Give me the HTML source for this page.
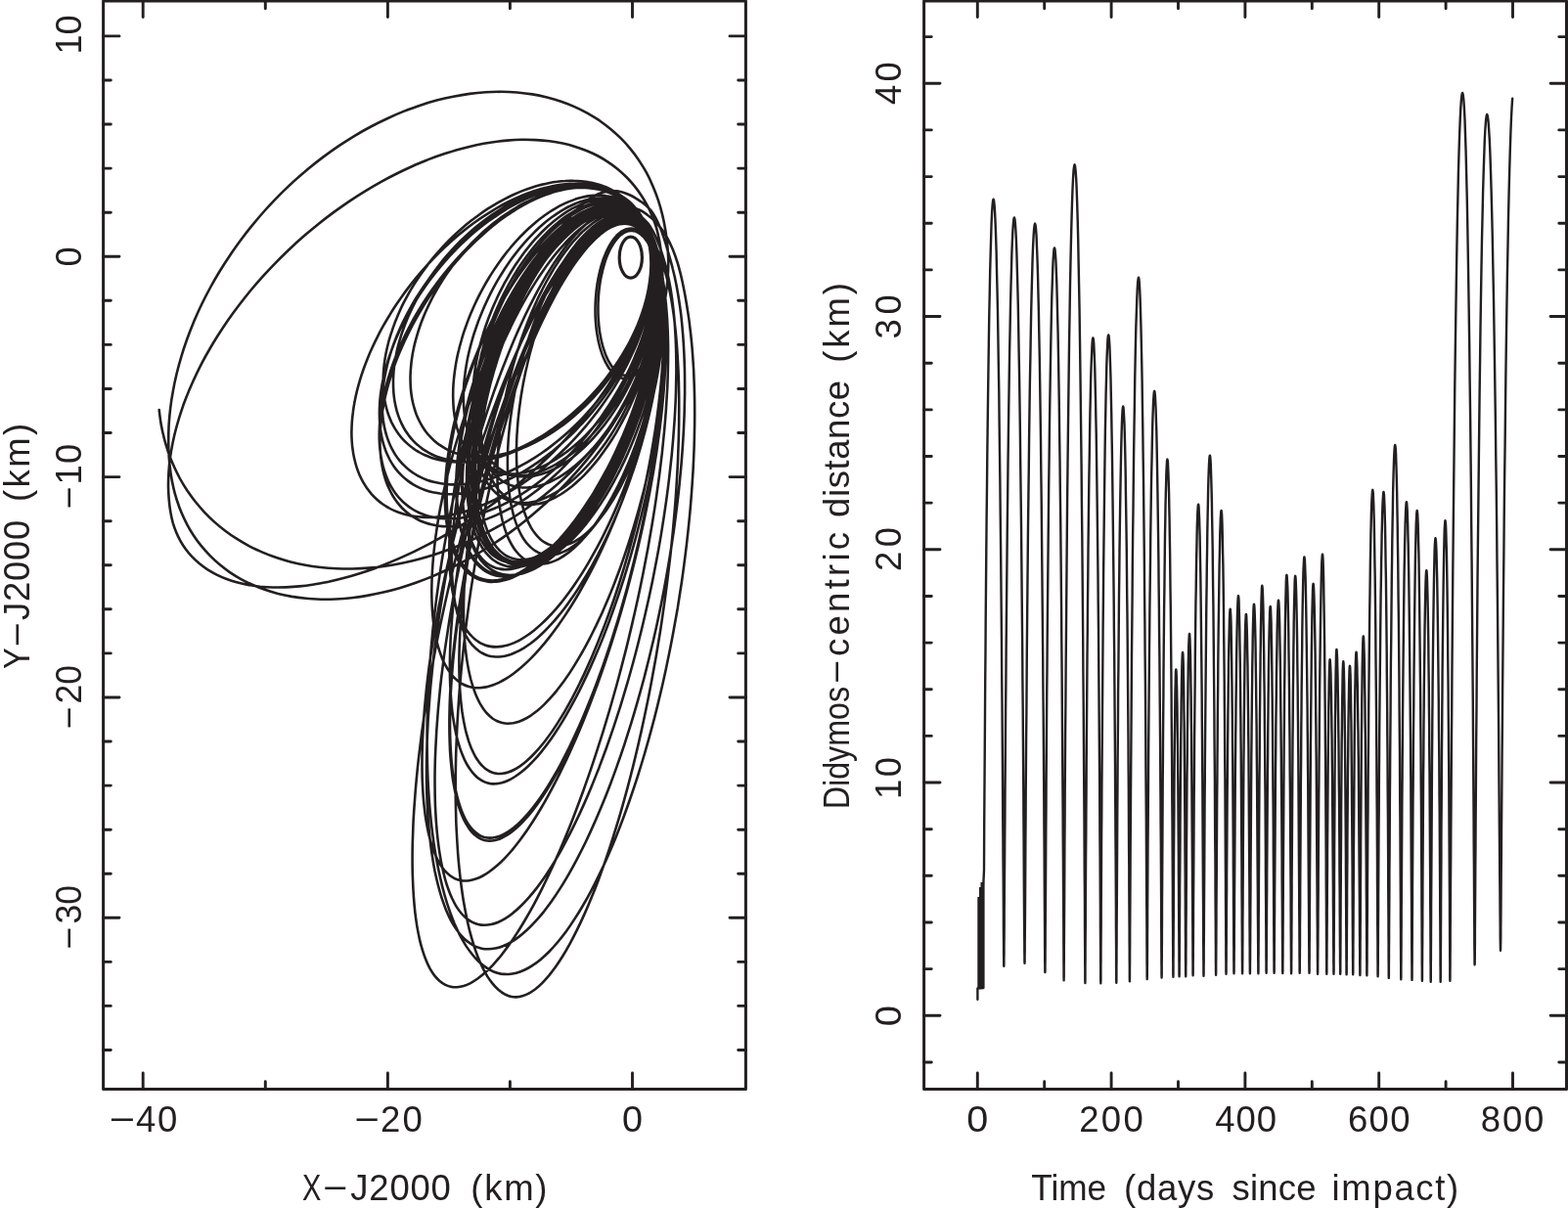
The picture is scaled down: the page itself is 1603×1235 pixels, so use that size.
<!DOCTYPE html>
<html><head><meta charset="utf-8"><title>Orbit and Didymos-centric distance</title>
<style>
html,body{margin:0;padding:0;background:#fff;}
svg{display:block;}
text{font-family:"Liberation Sans",sans-serif;fill:#231f20;}
</style></head><body>
<svg width="1603" height="1235" viewBox="0 0 1603 1235">
<rect width="1603" height="1235" fill="#fff"/>
<rect x="105.6" y="1.1" width="656.8" height="1112.3000000000002" fill="none" stroke="#231f20" stroke-width="3.0" stroke-linejoin="round"/>
<rect x="944.6" y="1.1" width="656.9" height="1112.3000000000002" fill="none" stroke="#231f20" stroke-width="3.0" stroke-linejoin="round"/>
<path d="M146.2 1113.4v-16.4M146.2 1.1v16.4M271.3 1113.4v-7.7M271.3 1.1v7.7M396.4 1113.4v-16.4M396.4 1.1v16.4M521.4 1113.4v-7.7M521.4 1.1v7.7M646.5 1113.4v-16.4M646.5 1.1v16.4" stroke="#231f20" stroke-width="2.9" fill="none" stroke-linecap="round"/>
<path d="M105.6 1073.5h7.7M762.4 1073.5h-7.7M105.6 1028.4h7.7M762.4 1028.4h-7.7M105.6 983.4h7.7M762.4 983.4h-7.7M105.6 938.3h16.4M762.4 938.3h-16.4M105.6 893.2h7.7M762.4 893.2h-7.7M105.6 848.2h7.7M762.4 848.2h-7.7M105.6 803.1h7.7M762.4 803.1h-7.7M105.6 758.0h7.7M762.4 758.0h-7.7M105.6 713.0h16.4M762.4 713.0h-16.4M105.6 667.9h7.7M762.4 667.9h-7.7M105.6 622.8h7.7M762.4 622.8h-7.7M105.6 577.7h7.7M762.4 577.7h-7.7M105.6 532.7h7.7M762.4 532.7h-7.7M105.6 487.6h16.4M762.4 487.6h-16.4M105.6 442.5h7.7M762.4 442.5h-7.7M105.6 397.5h7.7M762.4 397.5h-7.7M105.6 352.4h7.7M762.4 352.4h-7.7M105.6 307.3h7.7M762.4 307.3h-7.7M105.6 262.2h16.4M762.4 262.2h-16.4M105.6 217.2h7.7M762.4 217.2h-7.7M105.6 172.1h7.7M762.4 172.1h-7.7M105.6 127.0h7.7M762.4 127.0h-7.7M105.6 82.0h7.7M762.4 82.0h-7.7M105.6 36.9h16.4M762.4 36.9h-16.4" stroke="#231f20" stroke-width="2.9" fill="none" stroke-linecap="round"/>
<path d="M999.3 1113.4v-16.4M999.3 1.1v16.4M1067.7 1113.4v-7.7M1067.7 1.1v7.7M1136.1 1113.4v-16.4M1136.1 1.1v16.4M1204.5 1113.4v-7.7M1204.5 1.1v7.7M1272.9 1113.4v-16.4M1272.9 1.1v16.4M1341.3 1113.4v-7.7M1341.3 1.1v7.7M1409.7 1113.4v-16.4M1409.7 1.1v16.4M1478.1 1113.4v-7.7M1478.1 1.1v7.7M1546.5 1113.4v-16.4M1546.5 1.1v16.4" stroke="#231f20" stroke-width="2.9" fill="none" stroke-linecap="round"/>
<path d="M944.6 1086.0h7.7M1601.5 1086.0h-7.7M944.6 1038.3h16.4M1601.5 1038.3h-16.4M944.6 990.6h7.7M1601.5 990.6h-7.7M944.6 943.0h7.7M1601.5 943.0h-7.7M944.6 895.3h7.7M1601.5 895.3h-7.7M944.6 847.7h7.7M1601.5 847.7h-7.7M944.6 800.0h16.4M1601.5 800.0h-16.4M944.6 752.4h7.7M1601.5 752.4h-7.7M944.6 704.8h7.7M1601.5 704.8h-7.7M944.6 657.1h7.7M1601.5 657.1h-7.7M944.6 609.5h7.7M1601.5 609.5h-7.7M944.6 561.8h16.4M1601.5 561.8h-16.4M944.6 514.1h7.7M1601.5 514.1h-7.7M944.6 466.5h7.7M1601.5 466.5h-7.7M944.6 418.9h7.7M1601.5 418.9h-7.7M944.6 371.2h7.7M1601.5 371.2h-7.7M944.6 323.5h16.4M1601.5 323.5h-16.4M944.6 275.9h7.7M1601.5 275.9h-7.7M944.6 228.2h7.7M1601.5 228.2h-7.7M944.6 180.6h7.7M1601.5 180.6h-7.7M944.6 132.9h7.7M1601.5 132.9h-7.7M944.6 85.3h16.4M1601.5 85.3h-16.4M944.6 37.6h7.7M1601.5 37.6h-7.7" stroke="#231f20" stroke-width="2.9" fill="none" stroke-linecap="round"/>
<text x="111.50" y="1157.4" font-size="36.5" textLength="26.50" lengthAdjust="spacingAndGlyphs">−</text>
<text x="138.90" y="1157.4" font-size="36.5" textLength="42.50" lengthAdjust="spacing">40</text>
<text x="362.30" y="1157.4" font-size="36.5" textLength="25.50" lengthAdjust="spacingAndGlyphs">−</text>
<text x="389.00" y="1157.4" font-size="36.5" textLength="42.70" lengthAdjust="spacing">20</text>
<text x="636.00" y="1157.4" font-size="36.5" textLength="21.00" lengthAdjust="spacingAndGlyphs">0</text>
<text x="988.30" y="1157.4" font-size="36.5" textLength="22.00" lengthAdjust="spacingAndGlyphs">0</text>
<text x="1103.30" y="1157.4" font-size="36.5" textLength="65.40" lengthAdjust="spacing">200</text>
<text x="1242.20" y="1157.4" font-size="36.5" textLength="62.80" lengthAdjust="spacing">400</text>
<text x="1377.90" y="1157.4" font-size="36.5" textLength="63.70" lengthAdjust="spacing">600</text>
<text x="1513.80" y="1157.4" font-size="36.5" textLength="64.60" lengthAdjust="spacing">800</text>
<text x="309.00" y="1226.8" font-size="36.5" textLength="19.30" lengthAdjust="spacingAndGlyphs">X</text>
<text x="330.10" y="1226.8" font-size="36.5" textLength="25.20" lengthAdjust="spacingAndGlyphs">−</text>
<text x="358.30" y="1226.8" font-size="36.5" textLength="102.60" lengthAdjust="spacing">J2000</text>
<text x="481.20" y="1226.8" font-size="36.5" textLength="78.30" lengthAdjust="spacing">(km)</text>
<text x="1054.20" y="1226.5" font-size="36.5" textLength="76.90" lengthAdjust="spacingAndGlyphs">Time</text>
<text x="1149.10" y="1226.5" font-size="36.5" textLength="92.10" lengthAdjust="spacing">(days</text>
<text x="1259.50" y="1226.5" font-size="36.5" textLength="86.10" lengthAdjust="spacing">since</text>
<text x="1361.60" y="1226.5" font-size="36.5" textLength="129.60" lengthAdjust="spacing">impact)</text>
<text transform="translate(82.9 55.50) rotate(-90)" font-size="36.5" textLength="40.20" lengthAdjust="spacingAndGlyphs">10</text>
<text transform="translate(82.9 272.40) rotate(-90)" font-size="36.5" textLength="20.20" lengthAdjust="spacingAndGlyphs">0</text>
<text transform="translate(82.9 520.50) rotate(-90)" font-size="36.5" textLength="23.00" lengthAdjust="spacingAndGlyphs">−</text>
<text transform="translate(82.9 495.40) rotate(-90)" font-size="36.5" textLength="41.60" lengthAdjust="spacing">10</text>
<text transform="translate(82.9 745.60) rotate(-90)" font-size="36.5" textLength="23.00" lengthAdjust="spacingAndGlyphs">−</text>
<text transform="translate(82.9 719.40) rotate(-90)" font-size="36.5" textLength="39.50" lengthAdjust="spacingAndGlyphs">20</text>
<text transform="translate(82.9 970.70) rotate(-90)" font-size="36.5" textLength="23.00" lengthAdjust="spacingAndGlyphs">−</text>
<text transform="translate(82.9 944.50) rotate(-90)" font-size="36.5" textLength="39.50" lengthAdjust="spacingAndGlyphs">30</text>
<text transform="translate(29.6 684.00) rotate(-90)" font-size="36.5" textLength="21.80" lengthAdjust="spacingAndGlyphs">Y</text>
<text transform="translate(29.6 661.60) rotate(-90)" font-size="36.5" textLength="25.20" lengthAdjust="spacingAndGlyphs">−</text>
<text transform="translate(29.6 633.90) rotate(-90)" font-size="36.5" textLength="102.30" lengthAdjust="spacing">J2000</text>
<text transform="translate(29.6 512.90) rotate(-90)" font-size="36.5" textLength="80.00" lengthAdjust="spacing">(km)</text>
<text transform="translate(920.7 107.00) rotate(-90)" font-size="36.5" textLength="43.80" lengthAdjust="spacing">40</text>
<text transform="translate(920.7 346.40) rotate(-90)" font-size="36.5" textLength="45.10" lengthAdjust="spacing">30</text>
<text transform="translate(920.7 584.10) rotate(-90)" font-size="36.5" textLength="45.10" lengthAdjust="spacing">20</text>
<text transform="translate(920.7 817.00) rotate(-90)" font-size="36.5" textLength="43.00" lengthAdjust="spacing">10</text>
<text transform="translate(920.7 1049.20) rotate(-90)" font-size="36.5" textLength="21.20" lengthAdjust="spacingAndGlyphs">0</text>
<text transform="translate(868.0 827.30) rotate(-90)" font-size="36.5" textLength="125.40" lengthAdjust="spacingAndGlyphs">Didymos</text>
<text transform="translate(868.0 699.00) rotate(-90)" font-size="36.5" textLength="24.10" lengthAdjust="spacingAndGlyphs">−</text>
<text transform="translate(868.0 671.00) rotate(-90)" font-size="36.5" textLength="127.10" lengthAdjust="spacing">centric</text>
<text transform="translate(868.0 528.90) rotate(-90)" font-size="36.5" textLength="140.00" lengthAdjust="spacing">distance</text>
<text transform="translate(868.0 370.80) rotate(-90)" font-size="36.5" textLength="81.70" lengthAdjust="spacing">(km)</text>
<path d="M999.4 1021.8 L999.4 1010.5 L1005.3 1010.0 L1005.3 905.0 L1006.0 889.4 L1006.1 867.1 L1006.2 842.9 L1006.4 816.8 L1006.6 789.1 L1006.8 759.9 L1007.0 729.3 L1007.2 697.7 L1007.5 665.2 L1007.7 632.0 L1008.0 598.5 L1008.3 564.8 L1008.6 531.2 L1009.0 498.0 L1009.3 465.4 L1009.7 433.8 L1010.1 403.3 L1010.5 374.2 L1010.9 346.7 L1011.3 321.1 L1011.8 297.6 L1012.2 276.4 L1012.7 257.6 L1013.2 241.4 L1013.6 228.0 L1014.1 217.4 L1014.6 209.8 L1015.1 205.2 L1015.6 203.7 L1016.1 205.2 L1016.6 209.7 L1017.1 217.2 L1017.6 227.6 L1018.1 240.8 L1018.6 256.7 L1019.0 275.2 L1019.5 296.1 L1020.0 319.3 L1020.4 344.5 L1020.8 371.5 L1021.3 400.2 L1021.6 430.2 L1022.0 461.4 L1022.4 493.5 L1022.7 526.2 L1023.1 559.2 L1023.4 592.4 L1023.7 625.4 L1024.0 658.1 L1024.2 690.1 L1024.5 721.2 L1024.7 751.3 L1024.9 780.0 L1025.1 807.3 L1025.2 833.0 L1025.4 856.9 L1025.5 878.8 L1025.7 898.8 L1025.8 916.7 L1025.9 932.4 L1025.9 946.1 L1026.0 957.6 L1026.1 967.1 L1026.1 974.5 L1026.2 980.1 L1026.2 984.0 L1026.2 986.3 L1026.3 987.5 L1026.3 987.7 L1026.3 987.7 L1026.3 987.5 L1026.4 986.4 L1026.4 984.1 L1026.4 980.3 L1026.5 974.8 L1026.5 967.5 L1026.6 958.3 L1026.7 947.1 L1026.7 933.8 L1026.8 918.4 L1026.9 900.9 L1027.1 881.4 L1027.2 860.0 L1027.4 836.7 L1027.5 811.6 L1027.7 785.0 L1027.9 756.9 L1028.1 727.6 L1028.4 697.2 L1028.6 665.9 L1028.9 634.1 L1029.2 601.8 L1029.5 569.4 L1029.8 537.2 L1030.2 505.3 L1030.5 474.0 L1030.9 443.5 L1031.3 414.2 L1031.7 386.2 L1032.1 359.8 L1032.6 335.2 L1033.0 312.6 L1033.5 292.2 L1034.0 274.2 L1034.4 258.6 L1034.9 245.7 L1035.4 235.6 L1035.9 228.3 L1036.4 223.9 L1036.9 222.4 L1037.4 223.9 L1037.9 228.3 L1038.4 235.5 L1038.9 245.6 L1039.4 258.5 L1039.8 274.0 L1040.3 291.9 L1040.8 312.3 L1041.2 334.8 L1041.6 359.3 L1042.1 385.6 L1042.5 413.4 L1042.9 442.7 L1043.2 473.0 L1043.6 504.1 L1044.0 535.9 L1044.3 568.1 L1044.6 600.3 L1044.9 632.5 L1045.2 664.2 L1045.4 695.3 L1045.7 725.6 L1045.9 754.8 L1046.1 782.8 L1046.3 809.3 L1046.4 834.3 L1046.6 857.5 L1046.7 878.8 L1046.8 898.2 L1046.9 915.6 L1047.0 931.0 L1047.1 944.2 L1047.2 955.4 L1047.3 964.6 L1047.3 971.9 L1047.4 977.3 L1047.4 981.1 L1047.4 983.4 L1047.5 984.5 L1047.5 984.7 L1047.5 984.7 L1047.5 984.5 L1047.6 983.4 L1047.6 981.1 L1047.6 977.4 L1047.7 972.0 L1047.7 964.8 L1047.8 955.7 L1047.9 944.6 L1048.0 931.4 L1048.1 916.2 L1048.2 899.0 L1048.3 879.7 L1048.4 858.5 L1048.6 835.5 L1048.7 810.7 L1048.9 784.4 L1049.1 756.7 L1049.4 727.7 L1049.6 697.7 L1049.8 666.8 L1050.1 635.3 L1050.4 603.5 L1050.7 571.5 L1051.0 539.6 L1051.4 508.1 L1051.8 477.1 L1052.1 447.1 L1052.5 418.1 L1052.9 390.5 L1053.4 364.4 L1053.8 340.1 L1054.2 317.7 L1054.7 297.6 L1055.2 279.8 L1055.6 264.4 L1056.1 251.7 L1056.6 241.6 L1057.1 234.4 L1057.6 230.1 L1058.1 228.6 L1058.6 230.1 L1059.1 234.5 L1059.6 241.8 L1060.0 251.9 L1060.5 264.8 L1061.0 280.4 L1061.4 298.4 L1061.9 318.9 L1062.3 341.5 L1062.8 366.1 L1063.2 392.5 L1063.6 420.4 L1064.0 449.8 L1064.3 480.2 L1064.7 511.5 L1065.0 543.5 L1065.3 575.7 L1065.6 608.1 L1065.9 640.4 L1066.2 672.2 L1066.4 703.5 L1066.7 733.9 L1066.9 763.2 L1067.1 791.3 L1067.3 818.0 L1067.4 843.0 L1067.6 866.3 L1067.7 887.8 L1067.8 907.3 L1067.9 924.8 L1068.0 940.1 L1068.1 953.5 L1068.1 964.7 L1068.2 973.9 L1068.2 981.2 L1068.3 986.7 L1068.3 990.5 L1068.3 992.8 L1068.4 993.9 L1068.4 994.1 L1068.4 994.1 L1068.4 993.9 L1068.5 992.8 L1068.5 990.6 L1068.5 986.9 L1068.6 981.6 L1068.6 974.6 L1068.7 965.7 L1068.7 954.8 L1068.8 941.9 L1068.9 927.0 L1069.0 910.1 L1069.1 891.3 L1069.2 870.5 L1069.3 848.0 L1069.5 823.7 L1069.6 797.9 L1069.8 770.8 L1070.0 742.4 L1070.2 712.9 L1070.5 682.7 L1070.7 651.9 L1071.0 620.7 L1071.3 589.3 L1071.6 558.1 L1071.9 527.2 L1072.2 496.9 L1072.6 467.5 L1072.9 439.1 L1073.3 412.0 L1073.7 386.5 L1074.1 362.7 L1074.5 340.8 L1074.9 321.1 L1075.3 303.6 L1075.8 288.6 L1076.2 276.1 L1076.6 266.3 L1077.1 259.2 L1077.5 254.9 L1078.0 253.5 L1078.5 254.9 L1078.9 259.3 L1079.4 266.4 L1079.8 276.3 L1080.3 289.0 L1080.7 304.2 L1081.1 321.8 L1081.6 341.8 L1082.0 363.9 L1082.4 388.0 L1082.8 413.8 L1083.1 441.2 L1083.5 469.9 L1083.8 499.6 L1084.2 530.3 L1084.5 561.5 L1084.8 593.1 L1085.1 624.7 L1085.3 656.3 L1085.6 687.5 L1085.8 718.0 L1086.0 747.8 L1086.2 776.5 L1086.4 804.0 L1086.6 830.0 L1086.7 854.5 L1086.9 877.3 L1087.0 898.3 L1087.1 917.4 L1087.2 934.5 L1087.3 949.5 L1087.3 962.6 L1087.4 973.6 L1087.4 982.6 L1087.5 989.7 L1087.5 995.1 L1087.5 998.8 L1087.6 1001.0 L1087.6 1002.1 L1087.6 1002.3 L1087.6 1002.3 L1087.6 1002.0 L1087.6 1000.9 L1087.7 998.3 L1087.7 994.2 L1087.7 988.3 L1087.8 980.3 L1087.8 970.3 L1087.9 958.0 L1088.0 943.5 L1088.1 926.7 L1088.2 907.7 L1088.3 886.5 L1088.4 863.1 L1088.6 837.7 L1088.7 810.4 L1088.9 781.4 L1089.1 750.8 L1089.4 718.8 L1089.6 685.7 L1089.9 651.6 L1090.2 616.9 L1090.5 581.8 L1090.8 546.5 L1091.1 511.3 L1091.5 476.5 L1091.9 442.4 L1092.3 409.3 L1092.7 377.3 L1093.1 346.8 L1093.6 318.1 L1094.0 291.3 L1094.5 266.6 L1095.0 244.4 L1095.5 224.7 L1096.0 207.8 L1096.5 193.7 L1097.0 182.7 L1097.5 174.7 L1098.1 169.9 L1098.6 168.3 L1099.1 169.9 L1099.6 174.7 L1100.2 182.7 L1100.7 193.8 L1101.2 207.9 L1101.7 224.9 L1102.2 244.6 L1102.6 267.0 L1103.1 291.7 L1103.6 318.6 L1104.0 347.4 L1104.4 378.0 L1104.8 410.1 L1105.2 443.4 L1105.6 477.6 L1105.9 512.5 L1106.3 547.8 L1106.6 583.2 L1106.9 618.4 L1107.2 653.3 L1107.4 687.4 L1107.7 720.7 L1107.9 752.7 L1108.1 783.4 L1108.3 812.6 L1108.5 840.0 L1108.6 865.4 L1108.7 888.9 L1108.9 910.2 L1109.0 929.3 L1109.0 946.1 L1109.1 960.7 L1109.2 973.0 L1109.2 983.1 L1109.3 991.0 L1109.3 997.0 L1109.3 1001.1 L1109.4 1003.7 L1109.4 1004.8 L1109.4 1005.1 L1109.4 1005.1 L1109.4 1004.9 L1109.4 1004.0 L1109.5 1002.0 L1109.5 998.7 L1109.5 994.0 L1109.5 987.7 L1109.6 979.8 L1109.6 970.1 L1109.7 958.6 L1109.8 945.3 L1109.8 930.3 L1109.9 913.5 L1110.0 895.0 L1110.1 874.9 L1110.3 853.3 L1110.4 830.4 L1110.6 806.2 L1110.7 780.9 L1110.9 754.7 L1111.1 727.7 L1111.3 700.3 L1111.5 672.5 L1111.8 644.6 L1112.0 616.7 L1112.3 589.2 L1112.5 562.2 L1112.8 536.0 L1113.1 510.7 L1113.4 486.6 L1113.8 463.9 L1114.1 442.7 L1114.4 423.2 L1114.8 405.6 L1115.1 390.0 L1115.5 376.6 L1115.9 365.5 L1116.3 356.8 L1116.6 350.5 L1117.0 346.7 L1117.4 345.4 L1117.8 346.7 L1118.2 350.5 L1118.5 356.8 L1118.9 365.5 L1119.3 376.6 L1119.6 390.0 L1120.0 405.6 L1120.3 423.2 L1120.7 442.7 L1121.0 463.9 L1121.3 486.7 L1121.6 510.8 L1121.9 536.1 L1122.2 562.3 L1122.5 589.3 L1122.7 616.8 L1123.0 644.6 L1123.2 672.6 L1123.4 700.4 L1123.6 727.8 L1123.8 754.8 L1124.0 781.0 L1124.2 806.3 L1124.3 830.5 L1124.4 853.5 L1124.6 875.1 L1124.7 895.2 L1124.8 913.7 L1124.9 930.5 L1124.9 945.5 L1125.0 958.8 L1125.1 970.3 L1125.1 980.0 L1125.2 987.9 L1125.2 994.2 L1125.2 998.9 L1125.2 1002.2 L1125.3 1004.2 L1125.3 1005.1 L1125.3 1005.3 L1125.3 1005.3 L1125.3 1005.1 L1125.3 1004.2 L1125.4 1002.2 L1125.4 998.9 L1125.4 994.2 L1125.4 987.8 L1125.5 979.9 L1125.5 970.1 L1125.6 958.6 L1125.7 945.2 L1125.7 930.1 L1125.8 913.2 L1125.9 894.7 L1126.0 874.5 L1126.1 852.8 L1126.3 829.7 L1126.4 805.4 L1126.6 780.0 L1126.8 753.6 L1127.0 726.6 L1127.2 699.0 L1127.4 671.1 L1127.6 643.0 L1127.9 615.1 L1128.1 587.4 L1128.4 560.3 L1128.7 533.9 L1129.0 508.5 L1129.3 484.3 L1129.6 461.4 L1129.9 440.1 L1130.3 420.6 L1130.6 402.9 L1131.0 387.2 L1131.3 373.8 L1131.7 362.6 L1132.1 353.8 L1132.4 347.5 L1132.8 343.7 L1133.2 342.4 L1133.6 343.7 L1134.0 347.5 L1134.4 353.8 L1134.7 362.6 L1135.1 373.8 L1135.5 387.2 L1135.8 402.8 L1136.2 420.5 L1136.5 440.0 L1136.9 461.3 L1137.2 484.2 L1137.5 508.4 L1137.8 533.8 L1138.1 560.1 L1138.4 587.2 L1138.7 614.8 L1138.9 642.7 L1139.2 670.8 L1139.4 698.7 L1139.6 726.2 L1139.8 753.3 L1140.0 779.6 L1140.1 805.0 L1140.3 829.3 L1140.4 852.3 L1140.6 874.0 L1140.7 894.2 L1140.8 912.7 L1140.9 929.6 L1140.9 944.7 L1141.0 958.0 L1141.1 969.5 L1141.1 979.3 L1141.1 987.3 L1141.2 993.6 L1141.2 998.3 L1141.2 1001.6 L1141.3 1003.6 L1141.3 1004.5 L1141.3 1004.7 L1141.3 1004.7 L1141.3 1004.5 L1141.3 1003.7 L1141.4 1001.9 L1141.4 999.0 L1141.4 994.8 L1141.4 989.2 L1141.5 982.1 L1141.5 973.4 L1141.6 963.2 L1141.6 951.3 L1141.7 937.9 L1141.8 922.9 L1141.9 906.4 L1142.0 888.4 L1142.1 869.1 L1142.2 848.6 L1142.3 827.0 L1142.5 804.4 L1142.6 781.0 L1142.8 757.0 L1143.0 732.4 L1143.1 707.6 L1143.4 682.7 L1143.6 657.8 L1143.8 633.3 L1144.0 609.2 L1144.3 585.7 L1144.5 563.2 L1144.8 541.6 L1145.1 521.3 L1145.4 502.4 L1145.7 485.0 L1146.0 469.3 L1146.3 455.4 L1146.6 443.4 L1146.9 433.5 L1147.2 425.7 L1147.5 420.0 L1147.9 416.6 L1148.2 415.5 L1148.5 416.6 L1148.8 420.0 L1149.1 425.6 L1149.5 433.4 L1149.8 443.3 L1150.1 455.3 L1150.4 469.1 L1150.7 484.8 L1150.9 502.2 L1151.2 521.1 L1151.5 541.3 L1151.8 562.8 L1152.0 585.3 L1152.2 608.7 L1152.5 632.8 L1152.7 657.3 L1152.9 682.1 L1153.1 706.9 L1153.3 731.7 L1153.5 756.2 L1153.6 780.2 L1153.8 803.5 L1153.9 826.0 L1154.0 847.6 L1154.1 868.1 L1154.3 887.3 L1154.3 905.2 L1154.4 921.7 L1154.5 936.6 L1154.6 950.0 L1154.6 961.9 L1154.7 972.1 L1154.7 980.7 L1154.8 987.8 L1154.8 993.4 L1154.8 997.6 L1154.8 1000.5 L1154.9 1002.3 L1154.9 1003.1 L1154.9 1003.3 L1154.9 1003.3 L1154.9 1003.1 L1154.9 1002.1 L1155.0 999.9 L1155.0 996.3 L1155.0 991.2 L1155.1 984.4 L1155.1 975.7 L1155.2 965.1 L1155.2 952.6 L1155.3 938.1 L1155.4 921.7 L1155.5 903.4 L1155.6 883.2 L1155.7 861.3 L1155.9 837.7 L1156.0 812.7 L1156.2 786.3 L1156.4 758.7 L1156.6 730.1 L1156.8 700.7 L1157.0 670.8 L1157.3 640.5 L1157.6 610.0 L1157.8 579.7 L1158.1 549.7 L1158.5 520.2 L1158.8 491.6 L1159.1 464.0 L1159.5 437.7 L1159.9 412.9 L1160.2 389.8 L1160.6 368.5 L1161.0 349.4 L1161.4 332.4 L1161.9 317.8 L1162.3 305.6 L1162.7 296.1 L1163.1 289.2 L1163.6 285.1 L1164.0 283.7 L1164.4 285.1 L1164.8 289.2 L1165.2 296.1 L1165.6 305.6 L1166.0 317.7 L1166.4 332.2 L1166.8 349.2 L1167.2 368.3 L1167.6 389.5 L1167.9 412.5 L1168.3 437.3 L1168.6 463.5 L1169.0 491.0 L1169.3 519.5 L1169.6 548.9 L1169.9 578.8 L1170.1 609.0 L1170.4 639.4 L1170.6 669.6 L1170.9 699.5 L1171.1 728.8 L1171.3 757.3 L1171.4 784.8 L1171.6 811.1 L1171.8 836.1 L1171.9 859.5 L1172.0 881.4 L1172.1 901.5 L1172.2 919.7 L1172.3 936.1 L1172.4 950.5 L1172.4 963.0 L1172.5 973.6 L1172.5 982.2 L1172.6 989.0 L1172.6 994.2 L1172.6 997.7 L1172.7 999.9 L1172.7 1000.9 L1172.7 1001.1 L1172.7 1001.1 L1172.7 1000.9 L1172.7 1000.1 L1172.8 998.3 L1172.8 995.3 L1172.8 991.0 L1172.9 985.3 L1172.9 978.0 L1173.0 969.2 L1173.0 958.7 L1173.1 946.6 L1173.1 932.9 L1173.2 917.6 L1173.3 900.7 L1173.4 882.4 L1173.5 862.8 L1173.7 841.8 L1173.8 819.8 L1174.0 796.7 L1174.1 772.8 L1174.3 748.3 L1174.5 723.3 L1174.7 697.9 L1174.9 672.5 L1175.2 647.1 L1175.4 622.0 L1175.7 597.4 L1176.0 573.5 L1176.2 550.5 L1176.5 528.5 L1176.8 507.8 L1177.1 488.5 L1177.5 470.7 L1177.8 454.7 L1178.1 440.5 L1178.4 428.3 L1178.8 418.1 L1179.1 410.2 L1179.5 404.4 L1179.8 401.0 L1180.2 399.8 L1180.5 401.0 L1180.9 404.4 L1181.2 410.1 L1181.6 418.1 L1181.9 428.2 L1182.3 440.4 L1182.6 454.5 L1182.9 470.5 L1183.2 488.2 L1183.5 507.5 L1183.8 528.2 L1184.1 550.1 L1184.4 573.1 L1184.6 596.9 L1184.9 621.4 L1185.1 646.5 L1185.4 671.7 L1185.6 697.1 L1185.8 722.4 L1186.0 747.4 L1186.2 771.8 L1186.3 795.7 L1186.5 818.6 L1186.6 840.7 L1186.8 861.5 L1186.9 881.2 L1187.0 899.4 L1187.1 916.2 L1187.2 931.5 L1187.2 945.2 L1187.3 957.2 L1187.3 967.7 L1187.4 976.5 L1187.4 983.7 L1187.5 989.4 L1187.5 993.7 L1187.5 996.7 L1187.6 998.5 L1187.6 999.3 L1187.6 999.5 L1187.6 999.5 L1187.6 999.3 L1187.6 998.6 L1187.7 997.0 L1187.7 994.4 L1187.7 990.6 L1187.7 985.5 L1187.8 979.2 L1187.8 971.4 L1187.9 962.2 L1187.9 951.5 L1188.0 939.4 L1188.0 925.9 L1188.1 911.1 L1188.2 894.9 L1188.3 877.6 L1188.4 859.1 L1188.5 839.7 L1188.6 819.4 L1188.7 798.3 L1188.9 776.7 L1189.0 754.6 L1189.2 732.3 L1189.4 709.9 L1189.5 687.5 L1189.7 665.5 L1189.9 643.8 L1190.1 622.7 L1190.4 602.4 L1190.6 583.0 L1190.8 564.8 L1191.0 547.7 L1191.3 532.1 L1191.5 517.9 L1191.8 505.4 L1192.1 494.7 L1192.3 485.8 L1192.6 478.7 L1192.9 473.7 L1193.1 470.6 L1193.4 469.6 L1193.7 470.6 L1194.0 473.7 L1194.2 478.7 L1194.5 485.7 L1194.8 494.7 L1195.1 505.4 L1195.3 517.9 L1195.6 532.0 L1195.8 547.6 L1196.1 564.6 L1196.3 582.9 L1196.5 602.2 L1196.8 622.5 L1197.0 643.5 L1197.2 665.2 L1197.4 687.2 L1197.6 709.5 L1197.7 731.9 L1197.9 754.2 L1198.1 776.2 L1198.2 797.8 L1198.3 818.9 L1198.5 839.1 L1198.6 858.6 L1198.7 877.0 L1198.8 894.3 L1198.9 910.4 L1198.9 925.2 L1199.0 938.7 L1199.1 950.8 L1199.1 961.4 L1199.2 970.6 L1199.2 978.4 L1199.3 984.8 L1199.3 989.8 L1199.3 993.6 L1199.3 996.2 L1199.4 997.8 L1199.4 998.5 L1199.4 998.7 L1199.4 998.7 L1199.4 998.6 L1199.4 998.2 L1199.4 997.2 L1199.5 995.7 L1199.5 993.4 L1199.5 990.4 L1199.5 986.6 L1199.5 982.0 L1199.6 976.5 L1199.6 970.2 L1199.6 963.1 L1199.7 955.1 L1199.7 946.2 L1199.8 936.7 L1199.8 926.4 L1199.9 915.4 L1199.9 903.9 L1200.0 891.9 L1200.0 879.4 L1200.1 866.6 L1200.2 853.5 L1200.3 840.2 L1200.4 826.9 L1200.4 813.7 L1200.5 800.6 L1200.6 787.7 L1200.7 775.2 L1200.8 763.2 L1200.9 751.7 L1201.1 740.8 L1201.2 730.7 L1201.3 721.5 L1201.4 713.1 L1201.5 705.7 L1201.7 699.3 L1201.8 694.0 L1201.9 689.8 L1202.0 686.8 L1202.2 685.0 L1202.3 684.4 L1202.4 685.0 L1202.6 686.8 L1202.7 689.8 L1202.9 694.0 L1203.0 699.3 L1203.2 705.6 L1203.3 713.0 L1203.5 721.4 L1203.6 730.7 L1203.7 740.8 L1203.8 751.6 L1204.0 763.1 L1204.1 775.1 L1204.2 787.6 L1204.3 800.4 L1204.4 813.5 L1204.5 826.7 L1204.6 840.0 L1204.7 853.3 L1204.8 866.3 L1204.9 879.1 L1204.9 891.6 L1205.0 903.6 L1205.1 915.2 L1205.1 926.1 L1205.2 936.4 L1205.2 945.9 L1205.3 954.7 L1205.3 962.7 L1205.4 969.9 L1205.4 976.2 L1205.4 981.6 L1205.5 986.3 L1205.5 990.0 L1205.5 993.0 L1205.5 995.3 L1205.5 996.8 L1205.6 997.8 L1205.6 998.2 L1205.6 998.3 L1205.6 998.3 L1205.6 998.2 L1205.6 997.7 L1205.7 996.7 L1205.7 995.1 L1205.7 992.7 L1205.7 989.6 L1205.7 985.6 L1205.8 980.7 L1205.8 975.0 L1205.8 968.3 L1205.9 960.7 L1205.9 952.3 L1206.0 943.0 L1206.0 932.9 L1206.1 922.1 L1206.1 910.5 L1206.2 898.4 L1206.3 885.7 L1206.4 872.5 L1206.5 859.0 L1206.5 845.2 L1206.6 831.3 L1206.7 817.2 L1206.8 803.3 L1207.0 789.4 L1207.1 775.9 L1207.2 762.7 L1207.3 750.0 L1207.5 737.9 L1207.6 726.5 L1207.7 715.8 L1207.9 706.1 L1208.0 697.2 L1208.2 689.4 L1208.3 682.7 L1208.5 677.1 L1208.6 672.7 L1208.8 669.5 L1208.9 667.6 L1209.1 667.0 L1209.2 667.6 L1209.4 669.5 L1209.5 672.7 L1209.7 677.1 L1209.8 682.7 L1209.9 689.4 L1210.1 697.2 L1210.2 706.1 L1210.3 715.8 L1210.4 726.5 L1210.6 737.9 L1210.7 750.0 L1210.8 762.7 L1210.9 775.9 L1211.0 789.4 L1211.1 803.3 L1211.2 817.2 L1211.3 831.3 L1211.4 845.2 L1211.4 859.0 L1211.5 872.5 L1211.6 885.7 L1211.7 898.4 L1211.7 910.5 L1211.8 922.1 L1211.8 932.9 L1211.9 943.0 L1211.9 952.3 L1212.0 960.7 L1212.0 968.3 L1212.0 975.0 L1212.0 980.7 L1212.1 985.6 L1212.1 989.6 L1212.1 992.7 L1212.1 995.1 L1212.2 996.7 L1212.2 997.7 L1212.2 998.2 L1212.2 998.3 L1212.2 998.3 L1212.2 998.2 L1212.2 997.7 L1212.3 996.6 L1212.3 994.9 L1212.3 992.4 L1212.3 989.1 L1212.4 984.9 L1212.4 979.7 L1212.4 973.6 L1212.5 966.6 L1212.5 958.6 L1212.5 949.7 L1212.6 939.8 L1212.7 929.2 L1212.7 917.7 L1212.8 905.5 L1212.9 892.7 L1212.9 879.2 L1213.0 865.3 L1213.1 851.0 L1213.2 836.4 L1213.3 821.7 L1213.4 806.9 L1213.5 792.1 L1213.7 777.5 L1213.8 763.1 L1213.9 749.2 L1214.1 735.8 L1214.2 723.0 L1214.4 710.9 L1214.5 699.6 L1214.7 689.3 L1214.8 680.0 L1215.0 671.7 L1215.1 664.6 L1215.3 658.7 L1215.5 654.0 L1215.7 650.7 L1215.8 648.7 L1216.0 648.0 L1216.2 648.7 L1216.3 650.7 L1216.5 654.0 L1216.6 658.7 L1216.8 664.5 L1217.0 671.6 L1217.1 679.9 L1217.3 689.2 L1217.4 699.5 L1217.6 710.7 L1217.7 722.8 L1217.8 735.5 L1218.0 748.9 L1218.1 762.8 L1218.2 777.1 L1218.3 791.7 L1218.4 806.4 L1218.5 821.2 L1218.6 835.9 L1218.7 850.4 L1218.8 864.7 L1218.9 878.6 L1219.0 892.0 L1219.0 904.8 L1219.1 916.9 L1219.2 928.4 L1219.2 939.0 L1219.3 948.8 L1219.3 957.7 L1219.4 965.7 L1219.4 972.7 L1219.4 978.8 L1219.5 983.9 L1219.5 988.1 L1219.5 991.4 L1219.5 993.9 L1219.5 995.6 L1219.6 996.7 L1219.6 997.2 L1219.6 997.3 L1219.6 997.3 L1219.6 997.2 L1219.6 996.5 L1219.7 995.0 L1219.7 992.6 L1219.7 989.2 L1219.7 984.6 L1219.8 978.8 L1219.8 971.7 L1219.9 963.4 L1219.9 953.7 L1220.0 942.7 L1220.0 930.4 L1220.1 916.9 L1220.2 902.3 L1220.3 886.5 L1220.4 869.7 L1220.5 852.1 L1220.6 833.6 L1220.7 814.5 L1220.9 794.8 L1221.0 774.8 L1221.1 754.5 L1221.3 734.1 L1221.5 713.8 L1221.7 693.7 L1221.8 674.0 L1222.0 654.9 L1222.2 636.4 L1222.4 618.8 L1222.7 602.2 L1222.9 586.7 L1223.1 572.5 L1223.4 559.6 L1223.6 548.3 L1223.8 538.5 L1224.1 530.4 L1224.3 524.0 L1224.6 519.4 L1224.8 516.6 L1225.1 515.7 L1225.4 516.6 L1225.6 519.4 L1225.8 524.0 L1226.1 530.4 L1226.3 538.5 L1226.6 548.3 L1226.8 559.7 L1227.0 572.5 L1227.3 586.8 L1227.5 602.3 L1227.7 618.9 L1227.9 636.5 L1228.1 655.0 L1228.3 674.1 L1228.5 693.8 L1228.7 713.9 L1228.8 734.3 L1229.0 754.7 L1229.1 775.0 L1229.3 795.0 L1229.4 814.7 L1229.5 833.9 L1229.6 852.3 L1229.7 870.0 L1229.8 886.8 L1229.9 902.6 L1230.0 917.3 L1230.1 930.8 L1230.1 943.0 L1230.2 954.0 L1230.2 963.7 L1230.3 972.1 L1230.3 979.2 L1230.4 985.0 L1230.4 989.6 L1230.4 993.0 L1230.4 995.4 L1230.5 996.9 L1230.5 997.6 L1230.5 997.7 L1230.5 997.7 L1230.5 997.5 L1230.5 996.8 L1230.6 995.2 L1230.6 992.6 L1230.6 988.8 L1230.7 983.7 L1230.7 977.3 L1230.7 969.5 L1230.8 960.2 L1230.9 949.5 L1230.9 937.4 L1231.0 923.8 L1231.1 908.9 L1231.2 892.7 L1231.3 875.3 L1231.4 856.8 L1231.5 837.3 L1231.6 816.9 L1231.8 795.7 L1231.9 774.0 L1232.1 751.9 L1232.3 729.5 L1232.5 706.9 L1232.7 684.5 L1232.9 662.3 L1233.1 640.6 L1233.3 619.4 L1233.6 599.0 L1233.8 579.6 L1234.1 561.2 L1234.3 544.1 L1234.6 528.4 L1234.9 514.2 L1235.1 501.7 L1235.4 490.9 L1235.7 481.9 L1236.0 474.9 L1236.3 469.8 L1236.6 466.7 L1236.9 465.7 L1237.2 466.7 L1237.5 469.8 L1237.8 474.9 L1238.0 481.9 L1238.3 490.8 L1238.6 501.6 L1238.9 514.1 L1239.1 528.3 L1239.4 544.0 L1239.7 561.1 L1239.9 579.4 L1240.1 598.8 L1240.4 619.1 L1240.6 640.2 L1240.8 662.0 L1241.0 684.1 L1241.2 706.5 L1241.4 729.0 L1241.5 751.3 L1241.7 773.4 L1241.9 795.1 L1242.0 816.2 L1242.1 836.6 L1242.2 856.0 L1242.4 874.5 L1242.5 891.9 L1242.5 908.1 L1242.6 923.0 L1242.7 936.5 L1242.8 948.6 L1242.8 959.3 L1242.9 968.5 L1242.9 976.3 L1242.9 982.7 L1243.0 987.8 L1243.0 991.6 L1243.0 994.2 L1243.1 995.8 L1243.1 996.5 L1243.1 996.7 L1243.1 996.7 L1243.1 996.6 L1243.1 995.9 L1243.2 994.5 L1243.2 992.1 L1243.2 988.7 L1243.2 984.2 L1243.3 978.5 L1243.3 971.5 L1243.4 963.2 L1243.4 953.7 L1243.5 942.9 L1243.5 930.8 L1243.6 917.5 L1243.7 903.0 L1243.8 887.5 L1243.9 871.0 L1244.0 853.5 L1244.1 835.3 L1244.2 816.5 L1244.4 797.1 L1244.5 777.4 L1244.7 757.4 L1244.8 737.3 L1245.0 717.2 L1245.2 697.4 L1245.3 678.0 L1245.5 659.2 L1245.7 641.0 L1246.0 623.6 L1246.2 607.2 L1246.4 592.0 L1246.6 578.0 L1246.9 565.3 L1247.1 554.1 L1247.3 544.5 L1247.6 536.5 L1247.8 530.2 L1248.1 525.6 L1248.3 522.9 L1248.6 522.0 L1248.8 522.9 L1249.1 525.6 L1249.3 530.2 L1249.5 536.4 L1249.7 544.4 L1249.9 554.0 L1250.1 565.2 L1250.4 577.9 L1250.6 591.8 L1250.8 607.1 L1251.0 623.4 L1251.1 640.7 L1251.3 658.9 L1251.5 677.7 L1251.7 697.1 L1251.8 716.8 L1252.0 736.8 L1252.1 756.9 L1252.2 776.8 L1252.4 796.5 L1252.5 815.9 L1252.6 834.7 L1252.7 852.8 L1252.8 870.2 L1252.9 886.7 L1253.0 902.2 L1253.0 916.6 L1253.1 929.9 L1253.2 942.0 L1253.2 952.8 L1253.3 962.3 L1253.3 970.6 L1253.3 977.5 L1253.4 983.2 L1253.4 987.7 L1253.4 991.1 L1253.4 993.5 L1253.5 994.9 L1253.5 995.6 L1253.5 995.7 L1253.5 995.7 L1253.5 995.6 L1253.5 995.1 L1253.6 993.9 L1253.6 992.1 L1253.6 989.4 L1253.6 985.9 L1253.7 981.4 L1253.7 975.9 L1253.7 969.4 L1253.8 961.9 L1253.8 953.4 L1253.9 943.9 L1253.9 933.4 L1254.0 922.1 L1254.1 909.9 L1254.1 896.9 L1254.2 883.2 L1254.3 868.9 L1254.4 854.1 L1254.5 838.9 L1254.6 823.3 L1254.7 807.6 L1254.9 791.8 L1255.0 776.1 L1255.1 760.6 L1255.3 745.3 L1255.4 730.5 L1255.6 716.2 L1255.7 702.5 L1255.9 689.7 L1256.0 677.7 L1256.2 666.7 L1256.4 656.7 L1256.6 647.9 L1256.8 640.4 L1256.9 634.1 L1257.1 629.1 L1257.3 625.6 L1257.5 623.4 L1257.7 622.7 L1257.9 623.4 L1258.0 625.6 L1258.2 629.1 L1258.4 634.1 L1258.6 640.3 L1258.7 647.9 L1258.9 656.7 L1259.0 666.6 L1259.2 677.6 L1259.3 689.6 L1259.5 702.5 L1259.6 716.1 L1259.8 730.4 L1259.9 745.2 L1260.0 760.4 L1260.2 776.0 L1260.3 791.7 L1260.4 807.4 L1260.5 823.1 L1260.6 838.6 L1260.7 853.9 L1260.8 868.7 L1260.8 882.9 L1260.9 896.6 L1261.0 909.6 L1261.0 921.8 L1261.1 933.1 L1261.2 943.6 L1261.2 953.0 L1261.2 961.5 L1261.3 969.0 L1261.3 975.5 L1261.3 981.0 L1261.4 985.5 L1261.4 989.0 L1261.4 991.7 L1261.4 993.5 L1261.5 994.7 L1261.5 995.2 L1261.5 995.3 L1261.5 995.3 L1261.5 995.2 L1261.5 994.6 L1261.6 993.5 L1261.6 991.6 L1261.6 988.8 L1261.6 985.1 L1261.7 980.5 L1261.7 974.8 L1261.8 968.1 L1261.8 960.3 L1261.8 951.5 L1261.9 941.7 L1262.0 930.8 L1262.0 919.1 L1262.1 906.4 L1262.2 893.0 L1262.3 878.8 L1262.4 864.0 L1262.5 848.7 L1262.6 832.9 L1262.7 816.8 L1262.8 800.6 L1262.9 784.2 L1263.1 767.9 L1263.2 751.8 L1263.4 736.0 L1263.5 720.7 L1263.7 705.9 L1263.9 691.8 L1264.0 678.5 L1264.2 666.0 L1264.4 654.6 L1264.6 644.3 L1264.8 635.2 L1265.0 627.4 L1265.2 620.9 L1265.4 615.8 L1265.6 612.1 L1265.8 609.8 L1266.0 609.1 L1266.2 609.8 L1266.4 612.1 L1266.6 615.8 L1266.7 620.9 L1266.9 627.4 L1267.1 635.2 L1267.3 644.3 L1267.4 654.6 L1267.6 666.0 L1267.8 678.5 L1267.9 691.8 L1268.1 705.9 L1268.2 720.7 L1268.4 736.0 L1268.5 751.8 L1268.7 767.9 L1268.8 784.2 L1268.9 800.6 L1269.0 816.8 L1269.1 832.9 L1269.2 848.7 L1269.3 864.0 L1269.4 878.8 L1269.5 893.0 L1269.5 906.4 L1269.6 919.1 L1269.7 930.8 L1269.7 941.7 L1269.8 951.5 L1269.8 960.3 L1269.9 968.1 L1269.9 974.8 L1269.9 980.5 L1270.0 985.1 L1270.0 988.8 L1270.0 991.6 L1270.0 993.5 L1270.1 994.6 L1270.1 995.2 L1270.1 995.3 L1270.1 995.3 L1270.1 995.2 L1270.1 994.7 L1270.2 993.6 L1270.2 991.7 L1270.2 989.1 L1270.2 985.6 L1270.3 981.2 L1270.3 975.8 L1270.3 969.4 L1270.4 962.0 L1270.4 953.6 L1270.4 944.3 L1270.5 934.0 L1270.6 922.8 L1270.6 910.8 L1270.7 898.0 L1270.8 884.5 L1270.8 870.4 L1270.9 855.8 L1271.0 840.8 L1271.1 825.5 L1271.2 810.1 L1271.3 794.5 L1271.4 779.0 L1271.6 763.7 L1271.7 748.7 L1271.8 734.1 L1272.0 720.0 L1272.1 706.5 L1272.3 693.9 L1272.4 682.1 L1272.6 671.2 L1272.7 661.4 L1272.9 652.8 L1273.0 645.3 L1273.2 639.1 L1273.4 634.2 L1273.6 630.7 L1273.7 628.6 L1273.9 627.9 L1274.1 628.6 L1274.3 630.7 L1274.4 634.2 L1274.6 639.1 L1274.8 645.3 L1275.0 652.8 L1275.1 661.4 L1275.3 671.2 L1275.5 682.1 L1275.6 693.9 L1275.8 706.5 L1275.9 720.0 L1276.1 734.1 L1276.2 748.7 L1276.4 763.7 L1276.5 779.0 L1276.6 794.5 L1276.7 810.1 L1276.8 825.5 L1276.9 840.8 L1277.0 855.8 L1277.1 870.4 L1277.2 884.5 L1277.3 898.0 L1277.4 910.8 L1277.4 922.8 L1277.5 934.0 L1277.5 944.3 L1277.6 953.6 L1277.6 962.0 L1277.7 969.4 L1277.7 975.8 L1277.7 981.2 L1277.8 985.6 L1277.8 989.1 L1277.8 991.7 L1277.8 993.6 L1277.9 994.7 L1277.9 995.2 L1277.9 995.3 L1277.9 995.3 L1277.9 995.2 L1277.9 994.6 L1278.0 993.5 L1278.0 991.6 L1278.0 989.0 L1278.0 985.4 L1278.1 980.8 L1278.1 975.3 L1278.1 968.7 L1278.2 961.1 L1278.2 952.5 L1278.3 942.9 L1278.3 932.3 L1278.4 920.8 L1278.5 908.4 L1278.5 895.3 L1278.6 881.4 L1278.7 867.0 L1278.8 852.0 L1278.9 836.5 L1279.0 820.8 L1279.1 804.9 L1279.2 788.9 L1279.3 773.0 L1279.5 757.3 L1279.6 741.8 L1279.8 726.8 L1279.9 712.3 L1280.1 698.5 L1280.2 685.5 L1280.4 673.4 L1280.6 662.2 L1280.7 652.2 L1280.9 643.2 L1281.1 635.6 L1281.3 629.2 L1281.4 624.2 L1281.6 620.6 L1281.8 618.4 L1282.0 617.7 L1282.2 618.4 L1282.4 620.6 L1282.6 624.2 L1282.8 629.2 L1283.0 635.6 L1283.2 643.2 L1283.4 652.2 L1283.6 662.2 L1283.7 673.4 L1283.9 685.5 L1284.1 698.5 L1284.2 712.3 L1284.4 726.8 L1284.6 741.8 L1284.7 757.3 L1284.8 773.0 L1285.0 788.9 L1285.1 804.9 L1285.2 820.8 L1285.3 836.5 L1285.4 852.0 L1285.5 867.0 L1285.6 881.4 L1285.7 895.3 L1285.8 908.4 L1285.9 920.8 L1285.9 932.3 L1286.0 942.9 L1286.1 952.5 L1286.1 961.1 L1286.2 968.7 L1286.2 975.3 L1286.2 980.8 L1286.3 985.4 L1286.3 989.0 L1286.3 991.6 L1286.3 993.5 L1286.4 994.6 L1286.4 995.2 L1286.4 995.3 L1286.4 995.3 L1286.4 995.2 L1286.4 994.6 L1286.5 993.4 L1286.5 991.5 L1286.5 988.6 L1286.5 984.9 L1286.5 980.1 L1286.6 974.2 L1286.6 967.3 L1286.7 959.4 L1286.7 950.3 L1286.7 940.2 L1286.8 929.1 L1286.9 917.0 L1286.9 904.1 L1287.0 890.2 L1287.1 875.7 L1287.1 860.5 L1287.2 844.7 L1287.3 828.6 L1287.4 812.0 L1287.5 795.3 L1287.7 778.5 L1287.8 761.8 L1287.9 745.3 L1288.0 729.1 L1288.2 713.3 L1288.3 698.1 L1288.5 683.6 L1288.6 669.9 L1288.8 657.2 L1288.9 645.5 L1289.1 634.9 L1289.3 625.5 L1289.4 617.5 L1289.6 610.8 L1289.8 605.5 L1289.9 601.7 L1290.1 599.5 L1290.3 598.7 L1290.5 599.5 L1290.7 601.7 L1290.9 605.5 L1291.1 610.8 L1291.3 617.4 L1291.5 625.5 L1291.6 634.8 L1291.8 645.4 L1292.0 657.1 L1292.2 669.8 L1292.3 683.5 L1292.5 697.9 L1292.7 713.1 L1292.8 728.9 L1292.9 745.1 L1293.1 761.6 L1293.2 778.3 L1293.3 795.0 L1293.5 811.7 L1293.6 828.2 L1293.7 844.4 L1293.8 860.1 L1293.9 875.3 L1293.9 889.8 L1294.0 903.6 L1294.1 916.6 L1294.2 928.6 L1294.2 939.7 L1294.3 949.8 L1294.3 958.8 L1294.4 966.8 L1294.4 973.7 L1294.4 979.5 L1294.5 984.3 L1294.5 988.0 L1294.5 990.9 L1294.5 992.8 L1294.6 994.0 L1294.6 994.6 L1294.6 994.7 L1294.6 994.7 L1294.6 994.6 L1294.6 994.1 L1294.7 992.9 L1294.7 991.1 L1294.7 988.4 L1294.7 984.8 L1294.8 980.3 L1294.8 974.8 L1294.8 968.3 L1294.9 960.8 L1294.9 952.2 L1295.0 942.7 L1295.0 932.2 L1295.1 920.8 L1295.2 908.5 L1295.2 895.5 L1295.3 881.7 L1295.4 867.3 L1295.5 852.5 L1295.6 837.2 L1295.7 821.6 L1295.8 805.8 L1295.9 789.9 L1296.1 774.1 L1296.2 758.5 L1296.3 743.2 L1296.5 728.3 L1296.6 713.9 L1296.8 700.2 L1296.9 687.3 L1297.1 675.2 L1297.3 664.2 L1297.4 654.2 L1297.6 645.3 L1297.8 637.7 L1298.0 631.4 L1298.1 626.5 L1298.3 622.9 L1298.5 620.7 L1298.7 620.0 L1298.9 620.7 L1299.1 622.9 L1299.2 626.5 L1299.4 631.4 L1299.6 637.7 L1299.7 645.3 L1299.9 654.2 L1300.1 664.2 L1300.2 675.2 L1300.4 687.3 L1300.5 700.2 L1300.7 713.9 L1300.8 728.3 L1301.0 743.2 L1301.1 758.5 L1301.2 774.1 L1301.3 789.9 L1301.4 805.8 L1301.6 821.6 L1301.7 837.2 L1301.8 852.5 L1301.8 867.3 L1301.9 881.7 L1302.0 895.5 L1302.1 908.5 L1302.1 920.8 L1302.2 932.2 L1302.2 942.7 L1302.3 952.2 L1302.3 960.8 L1302.4 968.3 L1302.4 974.8 L1302.4 980.3 L1302.5 984.8 L1302.5 988.4 L1302.5 991.1 L1302.5 992.9 L1302.6 994.1 L1302.6 994.6 L1302.6 994.7 L1302.6 994.7 L1302.6 994.6 L1302.6 994.0 L1302.7 992.9 L1302.7 991.0 L1302.7 988.3 L1302.7 984.7 L1302.8 980.1 L1302.8 974.5 L1302.8 967.8 L1302.9 960.2 L1302.9 951.5 L1303.0 941.8 L1303.1 931.1 L1303.1 919.5 L1303.2 907.0 L1303.3 893.8 L1303.4 879.8 L1303.5 865.2 L1303.6 850.1 L1303.7 834.5 L1303.8 818.6 L1303.9 802.6 L1304.0 786.5 L1304.2 770.4 L1304.3 754.5 L1304.4 738.9 L1304.6 723.8 L1304.8 709.2 L1304.9 695.3 L1305.1 682.1 L1305.3 669.9 L1305.5 658.6 L1305.6 648.5 L1305.8 639.5 L1306.0 631.7 L1306.2 625.3 L1306.4 620.3 L1306.6 616.6 L1306.8 614.4 L1307.0 613.7 L1307.2 614.4 L1307.4 616.6 L1307.6 620.3 L1307.8 625.3 L1308.0 631.8 L1308.2 639.5 L1308.3 648.5 L1308.5 658.7 L1308.7 669.9 L1308.9 682.2 L1309.0 695.3 L1309.2 709.3 L1309.3 723.9 L1309.5 739.1 L1309.6 754.7 L1309.8 770.6 L1309.9 786.7 L1310.0 802.8 L1310.2 818.9 L1310.3 834.7 L1310.4 850.3 L1310.5 865.5 L1310.6 880.1 L1310.6 894.1 L1310.7 907.4 L1310.8 919.8 L1310.9 931.4 L1310.9 942.1 L1311.0 951.8 L1311.0 960.5 L1311.1 968.2 L1311.1 974.9 L1311.1 980.5 L1311.2 985.1 L1311.2 988.7 L1311.2 991.4 L1311.2 993.3 L1311.3 994.4 L1311.3 995.0 L1311.3 995.1 L1311.3 995.1 L1311.3 995.0 L1311.3 994.4 L1311.4 993.2 L1311.4 991.2 L1311.4 988.3 L1311.4 984.4 L1311.5 979.5 L1311.5 973.5 L1311.5 966.4 L1311.6 958.2 L1311.6 948.9 L1311.7 938.5 L1311.7 927.1 L1311.8 914.7 L1311.8 901.4 L1311.9 887.2 L1312.0 872.3 L1312.1 856.7 L1312.2 840.5 L1312.3 823.9 L1312.4 806.9 L1312.5 789.7 L1312.6 772.5 L1312.7 755.3 L1312.9 738.3 L1313.0 721.7 L1313.1 705.5 L1313.3 689.9 L1313.5 675.0 L1313.6 660.9 L1313.8 647.8 L1313.9 635.8 L1314.1 625.0 L1314.3 615.4 L1314.5 607.1 L1314.7 600.2 L1314.8 594.8 L1315.0 590.9 L1315.2 588.6 L1315.4 587.8 L1315.6 588.6 L1315.8 590.9 L1316.0 594.8 L1316.3 600.2 L1316.5 607.1 L1316.7 615.4 L1316.9 625.0 L1317.1 635.8 L1317.3 647.9 L1317.4 661.0 L1317.6 675.0 L1317.8 689.9 L1318.0 705.5 L1318.1 721.7 L1318.3 738.4 L1318.5 755.4 L1318.6 772.6 L1318.7 789.8 L1318.9 807.0 L1319.0 824.0 L1319.1 840.6 L1319.2 856.8 L1319.3 872.4 L1319.4 887.4 L1319.5 901.5 L1319.6 914.9 L1319.6 927.3 L1319.7 938.7 L1319.7 949.1 L1319.8 958.4 L1319.8 966.6 L1319.9 973.7 L1319.9 979.7 L1320.0 984.6 L1320.0 988.4 L1320.0 991.4 L1320.0 993.4 L1320.1 994.6 L1320.1 995.2 L1320.1 995.3 L1320.1 995.3 L1320.1 995.2 L1320.1 994.6 L1320.2 993.4 L1320.2 991.4 L1320.2 988.5 L1320.2 984.6 L1320.3 979.7 L1320.3 973.7 L1320.3 966.7 L1320.4 958.5 L1320.4 949.2 L1320.5 938.8 L1320.5 927.5 L1320.6 915.1 L1320.6 901.8 L1320.7 887.6 L1320.8 872.7 L1320.9 857.1 L1321.0 841.0 L1321.1 824.4 L1321.2 807.5 L1321.3 790.3 L1321.4 773.1 L1321.5 756.0 L1321.7 739.0 L1321.8 722.4 L1321.9 706.3 L1322.1 690.7 L1322.3 675.8 L1322.4 661.8 L1322.6 648.7 L1322.7 636.7 L1322.9 625.9 L1323.1 616.3 L1323.3 608.0 L1323.5 601.2 L1323.6 595.8 L1323.8 591.9 L1324.0 589.6 L1324.2 588.8 L1324.4 589.6 L1324.6 591.9 L1324.8 595.8 L1325.0 601.2 L1325.2 608.0 L1325.4 616.3 L1325.6 625.8 L1325.8 636.7 L1326.0 648.6 L1326.2 661.7 L1326.3 675.7 L1326.5 690.5 L1326.7 706.1 L1326.8 722.2 L1327.0 738.8 L1327.1 755.7 L1327.3 772.9 L1327.4 790.0 L1327.5 807.1 L1327.6 824.0 L1327.7 840.6 L1327.8 856.7 L1327.9 872.3 L1328.0 887.2 L1328.1 901.3 L1328.2 914.6 L1328.2 927.0 L1328.3 938.3 L1328.4 948.7 L1328.4 957.9 L1328.5 966.1 L1328.5 973.2 L1328.5 979.1 L1328.6 984.0 L1328.6 987.9 L1328.6 990.8 L1328.6 992.8 L1328.7 994.0 L1328.7 994.6 L1328.7 994.7 L1328.7 994.7 L1328.7 994.6 L1328.7 994.0 L1328.8 992.7 L1328.8 990.6 L1328.8 987.6 L1328.8 983.5 L1328.9 978.4 L1328.9 972.1 L1329.0 964.7 L1329.0 956.2 L1329.0 946.5 L1329.1 935.6 L1329.2 923.7 L1329.2 910.8 L1329.3 896.9 L1329.4 882.0 L1329.5 866.4 L1329.6 850.1 L1329.7 833.2 L1329.8 815.9 L1329.9 798.2 L1330.1 780.3 L1330.2 762.3 L1330.3 744.3 L1330.5 726.6 L1330.6 709.2 L1330.8 692.3 L1331.0 676.0 L1331.2 660.4 L1331.3 645.8 L1331.5 632.1 L1331.7 619.5 L1331.9 608.2 L1332.1 598.2 L1332.3 589.5 L1332.5 582.4 L1332.8 576.7 L1333.0 572.7 L1333.2 570.2 L1333.4 569.4 L1333.6 570.2 L1333.9 572.7 L1334.1 576.7 L1334.3 582.4 L1334.6 589.5 L1334.8 598.2 L1335.0 608.2 L1335.2 619.5 L1335.4 632.1 L1335.6 645.8 L1335.8 660.4 L1336.0 676.0 L1336.2 692.3 L1336.4 709.2 L1336.6 726.6 L1336.7 744.3 L1336.9 762.3 L1337.0 780.3 L1337.2 798.2 L1337.3 815.9 L1337.4 833.2 L1337.5 850.1 L1337.6 866.4 L1337.7 882.0 L1337.8 896.9 L1337.9 910.8 L1338.0 923.7 L1338.1 935.6 L1338.1 946.5 L1338.2 956.2 L1338.2 964.7 L1338.3 972.1 L1338.3 978.4 L1338.3 983.5 L1338.4 987.6 L1338.4 990.6 L1338.4 992.7 L1338.5 994.0 L1338.5 994.6 L1338.5 994.7 L1338.5 994.7 L1338.5 994.6 L1338.5 994.0 L1338.6 992.8 L1338.6 990.8 L1338.6 988.0 L1338.6 984.2 L1338.7 979.4 L1338.7 973.6 L1338.7 966.7 L1338.8 958.7 L1338.8 949.6 L1338.9 939.4 L1338.9 928.3 L1339.0 916.2 L1339.0 903.2 L1339.1 889.3 L1339.2 874.7 L1339.3 859.5 L1339.4 843.6 L1339.5 827.4 L1339.6 810.8 L1339.7 794.1 L1339.8 777.2 L1339.9 760.5 L1340.1 743.9 L1340.2 727.6 L1340.4 711.8 L1340.5 696.5 L1340.7 682.0 L1340.8 668.3 L1341.0 655.5 L1341.2 643.7 L1341.3 633.1 L1341.5 623.7 L1341.7 615.6 L1341.9 608.9 L1342.0 603.7 L1342.2 599.9 L1342.4 597.6 L1342.6 596.8 L1342.8 597.6 L1343.0 599.9 L1343.2 603.7 L1343.4 609.0 L1343.6 615.7 L1343.8 623.8 L1344.0 633.2 L1344.2 643.8 L1344.4 655.6 L1344.6 668.4 L1344.7 682.2 L1344.9 696.8 L1345.1 712.1 L1345.2 727.9 L1345.4 744.2 L1345.5 760.9 L1345.7 777.7 L1345.8 794.6 L1345.9 811.4 L1346.0 828.0 L1346.1 844.3 L1346.2 860.1 L1346.3 875.4 L1346.4 890.0 L1346.5 903.9 L1346.6 917.0 L1346.6 929.1 L1346.7 940.3 L1346.8 950.5 L1346.8 959.6 L1346.9 967.6 L1346.9 974.5 L1346.9 980.4 L1347.0 985.2 L1347.0 989.0 L1347.0 991.8 L1347.0 993.8 L1347.1 995.0 L1347.1 995.6 L1347.1 995.7 L1347.1 995.7 L1347.1 995.6 L1347.1 995.0 L1347.2 993.7 L1347.2 991.5 L1347.2 988.5 L1347.2 984.4 L1347.3 979.2 L1347.3 972.9 L1347.4 965.5 L1347.4 956.8 L1347.5 947.0 L1347.5 936.1 L1347.6 924.1 L1347.7 911.0 L1347.7 897.0 L1347.8 882.0 L1347.9 866.3 L1348.0 849.8 L1348.1 832.8 L1348.2 815.3 L1348.4 797.4 L1348.5 779.3 L1348.7 761.2 L1348.8 743.1 L1349.0 725.2 L1349.1 707.6 L1349.3 690.6 L1349.5 674.1 L1349.7 658.5 L1349.9 643.7 L1350.1 629.9 L1350.3 617.2 L1350.5 605.7 L1350.7 595.6 L1350.9 586.9 L1351.1 579.7 L1351.3 574.0 L1351.6 569.9 L1351.8 567.4 L1352.0 566.6 L1352.2 567.4 L1352.4 569.9 L1352.6 574.0 L1352.8 579.7 L1353.0 586.9 L1353.2 595.6 L1353.3 605.7 L1353.5 617.2 L1353.7 629.9 L1353.9 643.7 L1354.1 658.5 L1354.2 674.1 L1354.4 690.6 L1354.5 707.6 L1354.7 725.2 L1354.8 743.1 L1354.9 761.2 L1355.1 779.3 L1355.2 797.4 L1355.3 815.3 L1355.4 832.8 L1355.5 849.8 L1355.6 866.3 L1355.7 882.0 L1355.7 897.0 L1355.8 911.0 L1355.9 924.1 L1355.9 936.1 L1356.0 947.0 L1356.0 956.8 L1356.1 965.5 L1356.1 972.9 L1356.1 979.2 L1356.2 984.4 L1356.2 988.5 L1356.2 991.5 L1356.2 993.7 L1356.3 995.0 L1356.3 995.6 L1356.3 995.7 L1356.3 995.7 L1356.3 995.6 L1356.3 995.1 L1356.4 994.2 L1356.4 992.6 L1356.4 990.3 L1356.4 987.2 L1356.4 983.4 L1356.5 978.6 L1356.5 973.0 L1356.5 966.6 L1356.6 959.2 L1356.6 951.1 L1356.7 942.1 L1356.7 932.3 L1356.8 921.8 L1356.8 910.6 L1356.9 898.8 L1357.0 886.5 L1357.0 873.7 L1357.1 860.6 L1357.2 847.2 L1357.3 833.6 L1357.4 820.0 L1357.5 806.5 L1357.6 793.1 L1357.7 779.9 L1357.8 767.2 L1357.9 754.8 L1358.1 743.1 L1358.2 732.0 L1358.3 721.7 L1358.5 712.2 L1358.6 703.6 L1358.7 696.0 L1358.9 689.5 L1359.0 684.1 L1359.2 679.8 L1359.3 676.8 L1359.5 674.9 L1359.6 674.3 L1359.8 674.9 L1359.9 676.8 L1360.1 679.8 L1360.3 684.1 L1360.5 689.5 L1360.6 696.0 L1360.8 703.6 L1361.0 712.2 L1361.1 721.7 L1361.3 732.0 L1361.4 743.1 L1361.6 754.8 L1361.7 767.2 L1361.8 779.9 L1362.0 793.1 L1362.1 806.5 L1362.2 820.0 L1362.3 833.6 L1362.4 847.2 L1362.5 860.6 L1362.6 873.7 L1362.7 886.5 L1362.8 898.8 L1362.9 910.6 L1362.9 921.8 L1363.0 932.3 L1363.1 942.1 L1363.1 951.1 L1363.2 959.2 L1363.2 966.6 L1363.3 973.0 L1363.3 978.6 L1363.3 983.4 L1363.4 987.2 L1363.4 990.3 L1363.4 992.6 L1363.4 994.2 L1363.5 995.1 L1363.5 995.6 L1363.5 995.7 L1363.5 995.7 L1363.5 995.6 L1363.5 995.1 L1363.5 994.1 L1363.6 992.5 L1363.6 990.1 L1363.6 987.0 L1363.6 983.0 L1363.6 978.1 L1363.7 972.3 L1363.7 965.6 L1363.7 958.1 L1363.8 949.6 L1363.8 940.3 L1363.9 930.2 L1363.9 919.4 L1364.0 907.8 L1364.0 895.7 L1364.1 883.0 L1364.1 869.8 L1364.2 856.2 L1364.3 842.4 L1364.4 828.5 L1364.5 814.4 L1364.5 800.4 L1364.6 786.6 L1364.7 773.0 L1364.8 759.8 L1364.9 747.1 L1365.0 735.0 L1365.2 723.6 L1365.3 712.9 L1365.4 703.1 L1365.5 694.3 L1365.6 686.4 L1365.8 679.7 L1365.9 674.1 L1366.0 669.7 L1366.1 666.6 L1366.3 664.6 L1366.4 664.0 L1366.6 664.6 L1366.7 666.6 L1366.9 669.7 L1367.1 674.1 L1367.2 679.7 L1367.4 686.4 L1367.6 694.3 L1367.7 703.1 L1367.9 712.9 L1368.0 723.6 L1368.2 735.0 L1368.3 747.1 L1368.5 759.8 L1368.6 773.0 L1368.7 786.6 L1368.8 800.4 L1369.0 814.4 L1369.1 828.5 L1369.2 842.4 L1369.3 856.2 L1369.4 869.8 L1369.4 883.0 L1369.5 895.7 L1369.6 907.8 L1369.7 919.4 L1369.7 930.2 L1369.8 940.3 L1369.8 949.6 L1369.9 958.1 L1369.9 965.6 L1370.0 972.3 L1370.0 978.1 L1370.0 983.0 L1370.1 987.0 L1370.1 990.1 L1370.1 992.5 L1370.1 994.1 L1370.2 995.1 L1370.2 995.6 L1370.2 995.7 L1370.2 995.7 L1370.2 995.6 L1370.2 995.1 L1370.3 994.2 L1370.3 992.6 L1370.3 990.3 L1370.3 987.3 L1370.3 983.4 L1370.4 978.7 L1370.4 973.2 L1370.4 966.8 L1370.5 959.5 L1370.5 951.3 L1370.5 942.4 L1370.6 932.7 L1370.6 922.2 L1370.7 911.1 L1370.8 899.4 L1370.8 887.1 L1370.9 874.4 L1371.0 861.4 L1371.1 848.1 L1371.1 834.7 L1371.2 821.1 L1371.3 807.7 L1371.4 794.4 L1371.5 781.3 L1371.6 768.6 L1371.7 756.3 L1371.9 744.7 L1372.0 733.7 L1372.1 723.4 L1372.2 714.0 L1372.4 705.4 L1372.5 697.9 L1372.6 691.4 L1372.7 686.0 L1372.9 681.8 L1373.0 678.8 L1373.2 676.9 L1373.3 676.3 L1373.4 676.9 L1373.6 678.8 L1373.7 681.8 L1373.9 686.1 L1374.0 691.5 L1374.2 697.9 L1374.3 705.5 L1374.4 714.0 L1374.6 723.5 L1374.7 733.8 L1374.8 744.8 L1375.0 756.5 L1375.1 768.8 L1375.2 781.5 L1375.3 794.6 L1375.4 807.9 L1375.5 821.4 L1375.6 835.0 L1375.7 848.4 L1375.8 861.8 L1375.9 874.8 L1375.9 887.5 L1376.0 899.8 L1376.1 911.5 L1376.1 922.7 L1376.2 933.2 L1376.2 942.9 L1376.3 951.9 L1376.3 960.0 L1376.4 967.3 L1376.4 973.7 L1376.4 979.3 L1376.5 984.0 L1376.5 987.9 L1376.5 990.9 L1376.5 993.2 L1376.5 994.8 L1376.6 995.7 L1376.6 996.2 L1376.6 996.3 L1376.6 996.3 L1376.6 996.2 L1376.6 995.8 L1376.7 994.8 L1376.7 993.2 L1376.7 991.0 L1376.7 988.0 L1376.7 984.2 L1376.8 979.6 L1376.8 974.1 L1376.8 967.7 L1376.9 960.5 L1376.9 952.5 L1377.0 943.6 L1377.0 934.0 L1377.1 923.7 L1377.1 912.7 L1377.2 901.2 L1377.3 889.1 L1377.4 876.5 L1377.4 863.6 L1377.5 850.5 L1377.6 837.2 L1377.7 823.9 L1377.8 810.6 L1377.9 797.4 L1378.0 784.5 L1378.2 772.0 L1378.3 759.9 L1378.4 748.3 L1378.5 737.5 L1378.7 727.3 L1378.8 718.0 L1379.0 709.6 L1379.1 702.1 L1379.2 695.7 L1379.4 690.4 L1379.5 686.2 L1379.7 683.2 L1379.8 681.4 L1380.0 680.8 L1380.1 681.4 L1380.3 683.2 L1380.4 686.2 L1380.6 690.4 L1380.7 695.7 L1380.8 702.1 L1381.0 709.6 L1381.1 718.0 L1381.2 727.3 L1381.4 737.5 L1381.5 748.3 L1381.6 759.9 L1381.7 772.0 L1381.8 784.5 L1381.9 797.4 L1382.0 810.6 L1382.1 823.9 L1382.2 837.2 L1382.3 850.5 L1382.4 863.6 L1382.5 876.5 L1382.6 889.1 L1382.6 901.2 L1382.7 912.7 L1382.7 923.7 L1382.8 934.0 L1382.8 943.6 L1382.9 952.5 L1382.9 960.5 L1383.0 967.7 L1383.0 974.1 L1383.0 979.6 L1383.1 984.2 L1383.1 988.0 L1383.1 991.0 L1383.1 993.2 L1383.1 994.8 L1383.2 995.8 L1383.2 996.2 L1383.2 996.3 L1383.2 996.3 L1383.2 996.2 L1383.2 995.7 L1383.3 994.7 L1383.3 993.1 L1383.3 990.8 L1383.3 987.6 L1383.3 983.6 L1383.4 978.8 L1383.4 973.1 L1383.4 966.4 L1383.5 958.9 L1383.5 950.5 L1383.6 941.3 L1383.6 931.2 L1383.7 920.4 L1383.7 909.0 L1383.8 896.9 L1383.9 884.2 L1383.9 871.1 L1384.0 857.7 L1384.1 844.0 L1384.2 830.1 L1384.3 816.1 L1384.4 802.2 L1384.5 788.5 L1384.6 775.0 L1384.7 761.9 L1384.8 749.2 L1385.0 737.2 L1385.1 725.8 L1385.2 715.2 L1385.3 705.5 L1385.5 696.7 L1385.6 688.9 L1385.8 682.2 L1385.9 676.7 L1386.1 672.3 L1386.2 669.1 L1386.4 667.2 L1386.5 666.6 L1386.7 667.2 L1386.9 669.1 L1387.0 672.3 L1387.2 676.7 L1387.4 682.2 L1387.5 689.0 L1387.7 696.8 L1387.9 705.6 L1388.0 715.3 L1388.2 725.9 L1388.3 737.3 L1388.5 749.4 L1388.6 762.1 L1388.8 775.2 L1388.9 788.8 L1389.0 802.5 L1389.1 816.5 L1389.2 830.5 L1389.3 844.4 L1389.4 858.1 L1389.5 871.6 L1389.6 884.8 L1389.7 897.4 L1389.8 909.6 L1389.9 921.1 L1389.9 931.9 L1390.0 941.9 L1390.0 951.2 L1390.1 959.6 L1390.1 967.2 L1390.2 973.8 L1390.2 979.6 L1390.2 984.4 L1390.3 988.4 L1390.3 991.5 L1390.3 993.9 L1390.3 995.5 L1390.4 996.5 L1390.4 997.0 L1390.4 997.1 L1390.4 997.1 L1390.4 997.0 L1390.4 996.5 L1390.5 995.5 L1390.5 993.7 L1390.5 991.3 L1390.5 988.0 L1390.5 983.8 L1390.6 978.7 L1390.6 972.7 L1390.6 965.7 L1390.7 957.8 L1390.7 949.0 L1390.8 939.2 L1390.8 928.7 L1390.9 917.3 L1390.9 905.3 L1391.0 892.5 L1391.1 879.3 L1391.1 865.5 L1391.2 851.3 L1391.3 836.9 L1391.4 822.3 L1391.5 807.6 L1391.6 793.0 L1391.7 778.5 L1391.8 764.4 L1391.9 750.6 L1392.1 737.3 L1392.2 724.6 L1392.3 712.7 L1392.5 701.5 L1392.6 691.3 L1392.7 682.0 L1392.9 673.9 L1393.0 666.8 L1393.2 661.0 L1393.3 656.4 L1393.5 653.1 L1393.6 651.1 L1393.8 650.4 L1394.0 651.1 L1394.1 653.1 L1394.3 656.4 L1394.4 661.0 L1394.6 666.8 L1394.8 673.9 L1394.9 682.0 L1395.1 691.3 L1395.2 701.5 L1395.4 712.7 L1395.5 724.7 L1395.6 737.3 L1395.8 750.6 L1395.9 764.4 L1396.0 778.6 L1396.1 793.1 L1396.2 807.7 L1396.3 822.4 L1396.4 837.0 L1396.5 851.4 L1396.6 865.6 L1396.7 879.4 L1396.8 892.7 L1396.8 905.4 L1396.9 917.5 L1397.0 928.8 L1397.0 939.4 L1397.1 949.1 L1397.1 958.0 L1397.2 965.9 L1397.2 972.9 L1397.2 978.9 L1397.3 984.0 L1397.3 988.2 L1397.3 991.5 L1397.3 993.9 L1397.3 995.7 L1397.4 996.7 L1397.4 997.2 L1397.4 997.3 L1397.4 997.3 L1397.4 997.1 L1397.4 996.4 L1397.5 994.9 L1397.5 992.5 L1397.5 989.0 L1397.6 984.2 L1397.6 978.2 L1397.6 970.9 L1397.7 962.3 L1397.7 952.3 L1397.8 941.0 L1397.9 928.3 L1397.9 914.4 L1398.0 899.3 L1398.1 883.1 L1398.2 865.8 L1398.3 847.6 L1398.5 828.5 L1398.6 808.8 L1398.7 788.5 L1398.9 767.9 L1399.1 747.0 L1399.2 725.9 L1399.4 705.0 L1399.6 684.3 L1399.8 664.0 L1400.0 644.3 L1400.2 625.2 L1400.5 607.1 L1400.7 590.0 L1400.9 574.0 L1401.2 559.3 L1401.4 546.1 L1401.7 534.4 L1401.9 524.3 L1402.2 515.9 L1402.5 509.4 L1402.8 504.6 L1403.0 501.8 L1403.3 500.8 L1403.5 501.8 L1403.8 504.6 L1404.0 509.4 L1404.3 516.0 L1404.5 524.4 L1404.8 534.5 L1405.0 546.2 L1405.2 559.5 L1405.4 574.1 L1405.7 590.1 L1405.9 607.3 L1406.1 625.5 L1406.3 644.5 L1406.4 664.3 L1406.6 684.7 L1406.8 705.4 L1407.0 726.4 L1407.1 747.5 L1407.3 768.4 L1407.4 789.1 L1407.5 809.4 L1407.7 829.2 L1407.8 848.3 L1407.9 866.5 L1408.0 883.8 L1408.0 900.1 L1408.1 915.3 L1408.2 929.2 L1408.2 941.9 L1408.3 953.2 L1408.4 963.2 L1408.4 971.9 L1408.4 979.2 L1408.5 985.2 L1408.5 989.9 L1408.5 993.5 L1408.5 995.9 L1408.6 997.4 L1408.6 998.1 L1408.6 998.3 L1408.6 998.3 L1408.6 998.1 L1408.6 997.4 L1408.7 996.0 L1408.7 993.5 L1408.7 990.0 L1408.8 985.3 L1408.8 979.3 L1408.8 972.0 L1408.9 963.4 L1408.9 953.4 L1409.0 942.1 L1409.1 929.5 L1409.1 915.6 L1409.2 900.5 L1409.3 884.3 L1409.4 867.1 L1409.5 848.9 L1409.7 829.9 L1409.8 810.2 L1409.9 790.0 L1410.1 769.4 L1410.2 748.5 L1410.4 727.6 L1410.6 706.7 L1410.8 686.0 L1411.0 665.7 L1411.2 646.0 L1411.4 627.1 L1411.6 608.9 L1411.9 591.9 L1412.1 575.9 L1412.4 561.3 L1412.6 548.1 L1412.9 536.4 L1413.1 526.4 L1413.4 518.0 L1413.7 511.4 L1414.0 506.7 L1414.2 503.9 L1414.5 502.9 L1414.7 503.9 L1415.0 506.7 L1415.2 511.5 L1415.5 518.1 L1415.7 526.4 L1416.0 536.5 L1416.2 548.2 L1416.4 561.5 L1416.6 576.2 L1416.9 592.1 L1417.1 609.3 L1417.3 627.5 L1417.5 646.5 L1417.7 666.3 L1417.8 686.6 L1418.0 707.3 L1418.2 728.3 L1418.3 749.3 L1418.5 770.2 L1418.6 790.9 L1418.7 811.2 L1418.9 831.0 L1419.0 850.0 L1419.1 868.3 L1419.2 885.6 L1419.2 901.8 L1419.3 917.0 L1419.4 930.9 L1419.5 943.5 L1419.5 954.9 L1419.6 964.9 L1419.6 973.5 L1419.6 980.8 L1419.7 986.8 L1419.7 991.5 L1419.7 995.1 L1419.7 997.5 L1419.8 999.0 L1419.8 999.7 L1419.8 999.9 L1419.8 999.9 L1419.8 999.7 L1419.8 999.0 L1419.9 997.3 L1419.9 994.6 L1419.9 990.7 L1419.9 985.5 L1420.0 979.0 L1420.0 971.0 L1420.1 961.5 L1420.1 950.5 L1420.2 938.1 L1420.3 924.2 L1420.4 908.9 L1420.4 892.4 L1420.6 874.5 L1420.7 855.5 L1420.8 835.5 L1420.9 814.7 L1421.1 793.0 L1421.2 770.8 L1421.4 748.1 L1421.6 725.1 L1421.7 702.0 L1421.9 679.1 L1422.2 656.3 L1422.4 634.0 L1422.6 612.4 L1422.8 591.5 L1423.1 571.6 L1423.3 552.8 L1423.6 535.3 L1423.9 519.2 L1424.1 504.6 L1424.4 491.8 L1424.7 480.7 L1425.0 471.5 L1425.3 464.3 L1425.6 459.1 L1425.9 455.9 L1426.2 454.9 L1426.5 456.0 L1426.8 459.1 L1427.1 464.3 L1427.3 471.6 L1427.6 480.8 L1427.9 491.9 L1428.2 504.8 L1428.4 519.3 L1428.7 535.5 L1428.9 553.0 L1429.2 571.9 L1429.4 591.8 L1429.6 612.8 L1429.9 634.5 L1430.1 656.8 L1430.3 679.6 L1430.5 702.7 L1430.6 725.8 L1430.8 748.8 L1431.0 771.6 L1431.1 793.9 L1431.2 815.6 L1431.4 836.5 L1431.5 856.6 L1431.6 875.6 L1431.7 893.5 L1431.8 910.1 L1431.9 925.4 L1431.9 939.3 L1432.0 951.8 L1432.0 962.8 L1432.1 972.3 L1432.1 980.3 L1432.2 986.9 L1432.2 992.1 L1432.2 996.0 L1432.2 998.7 L1432.3 1000.4 L1432.3 1001.1 L1432.3 1001.3 L1432.3 1001.3 L1432.3 1001.2 L1432.3 1000.5 L1432.4 999.0 L1432.4 996.6 L1432.4 993.1 L1432.4 988.4 L1432.5 982.6 L1432.5 975.4 L1432.6 966.9 L1432.6 957.1 L1432.7 945.9 L1432.7 933.5 L1432.8 919.8 L1432.9 905.0 L1433.0 889.0 L1433.1 872.0 L1433.2 854.1 L1433.3 835.4 L1433.4 816.0 L1433.6 796.1 L1433.7 775.8 L1433.9 755.2 L1434.0 734.5 L1434.2 714.0 L1434.4 693.6 L1434.6 673.6 L1434.8 654.2 L1435.0 635.5 L1435.2 617.7 L1435.4 600.9 L1435.6 585.2 L1435.9 570.7 L1436.1 557.7 L1436.4 546.2 L1436.6 536.3 L1436.9 528.1 L1437.1 521.6 L1437.4 517.0 L1437.6 514.1 L1437.9 513.2 L1438.2 514.1 L1438.4 517.0 L1438.7 521.6 L1438.9 528.1 L1439.2 536.3 L1439.4 546.3 L1439.7 557.8 L1439.9 570.8 L1440.2 585.3 L1440.4 601.0 L1440.6 617.8 L1440.8 635.7 L1441.0 654.4 L1441.2 673.8 L1441.4 693.8 L1441.6 714.2 L1441.8 734.8 L1442.0 755.5 L1442.1 776.1 L1442.3 796.4 L1442.4 816.4 L1442.5 835.8 L1442.6 854.5 L1442.7 872.5 L1442.8 889.5 L1442.9 905.5 L1443.0 920.3 L1443.1 934.0 L1443.1 946.5 L1443.2 957.6 L1443.2 967.5 L1443.3 976.0 L1443.3 983.1 L1443.4 989.0 L1443.4 993.7 L1443.4 997.2 L1443.4 999.6 L1443.5 1001.1 L1443.5 1001.8 L1443.5 1001.9 L1443.5 1001.9 L1443.5 1001.8 L1443.5 1001.1 L1443.6 999.6 L1443.6 997.3 L1443.6 993.8 L1443.6 989.3 L1443.7 983.5 L1443.7 976.4 L1443.7 968.1 L1443.8 958.4 L1443.8 947.5 L1443.9 935.2 L1444.0 921.8 L1444.0 907.2 L1444.1 891.5 L1444.2 874.8 L1444.3 857.1 L1444.4 838.7 L1444.5 819.7 L1444.7 800.1 L1444.8 780.1 L1444.9 759.9 L1445.1 739.6 L1445.3 719.3 L1445.4 699.3 L1445.6 679.7 L1445.8 660.6 L1446.0 642.2 L1446.2 624.7 L1446.4 608.1 L1446.6 592.7 L1446.8 578.5 L1447.0 565.7 L1447.3 554.4 L1447.5 544.6 L1447.7 536.5 L1448.0 530.2 L1448.2 525.6 L1448.5 522.8 L1448.7 521.9 L1448.9 522.8 L1449.2 525.6 L1449.4 530.2 L1449.7 536.6 L1449.9 544.7 L1450.1 554.4 L1450.4 565.8 L1450.6 578.6 L1450.8 592.8 L1451.0 608.2 L1451.2 624.8 L1451.4 642.4 L1451.6 660.8 L1451.8 679.9 L1452.0 699.6 L1452.2 719.7 L1452.3 739.9 L1452.5 760.3 L1452.6 780.5 L1452.7 800.5 L1452.9 820.2 L1453.0 839.3 L1453.1 857.7 L1453.2 875.3 L1453.3 892.1 L1453.4 907.8 L1453.4 922.5 L1453.5 935.9 L1453.6 948.2 L1453.6 959.1 L1453.7 968.8 L1453.7 977.2 L1453.7 984.2 L1453.8 990.0 L1453.8 994.6 L1453.8 998.0 L1453.8 1000.4 L1453.9 1001.9 L1453.9 1002.6 L1453.9 1002.7 L1453.9 1002.7 L1453.9 1002.6 L1453.9 1002.0 L1454.0 1000.7 L1454.0 998.6 L1454.0 995.6 L1454.0 991.7 L1454.0 986.6 L1454.1 980.4 L1454.1 973.1 L1454.2 964.7 L1454.2 955.1 L1454.3 944.4 L1454.3 932.7 L1454.4 919.9 L1454.4 906.2 L1454.5 891.6 L1454.6 876.2 L1454.7 860.1 L1454.8 843.4 L1454.9 826.3 L1455.0 808.8 L1455.1 791.1 L1455.3 773.4 L1455.4 755.7 L1455.5 738.2 L1455.7 721.0 L1455.8 704.3 L1456.0 688.3 L1456.2 672.9 L1456.4 658.5 L1456.5 645.0 L1456.7 632.6 L1456.9 621.4 L1457.1 611.5 L1457.3 603.0 L1457.5 595.9 L1457.7 590.3 L1457.9 586.3 L1458.1 583.9 L1458.3 583.1 L1458.5 583.9 L1458.7 586.3 L1458.9 590.4 L1459.1 595.9 L1459.3 603.0 L1459.5 611.6 L1459.7 621.5 L1459.9 632.7 L1460.1 645.1 L1460.3 658.6 L1460.4 673.1 L1460.6 688.5 L1460.8 704.6 L1460.9 721.4 L1461.1 738.6 L1461.2 756.1 L1461.3 773.8 L1461.5 791.6 L1461.6 809.3 L1461.7 826.9 L1461.8 844.0 L1461.9 860.7 L1462.0 876.9 L1462.1 892.3 L1462.2 906.9 L1462.2 920.7 L1462.3 933.5 L1462.4 945.3 L1462.4 956.0 L1462.5 965.6 L1462.5 974.1 L1462.5 981.4 L1462.6 987.6 L1462.6 992.6 L1462.6 996.6 L1462.6 999.6 L1462.7 1001.7 L1462.7 1003.0 L1462.7 1003.6 L1462.7 1003.7 L1462.7 1003.7 L1462.7 1003.6 L1462.7 1002.9 L1462.8 1001.6 L1462.8 999.3 L1462.8 996.1 L1462.8 991.8 L1462.8 986.3 L1462.9 979.6 L1462.9 971.7 L1463.0 962.6 L1463.0 952.3 L1463.1 940.7 L1463.1 928.0 L1463.2 914.2 L1463.3 899.4 L1463.4 883.6 L1463.5 866.9 L1463.6 849.6 L1463.7 831.5 L1463.8 813.0 L1463.9 794.1 L1464.0 775.0 L1464.2 755.8 L1464.3 736.7 L1464.5 717.8 L1464.6 699.3 L1464.8 681.2 L1465.0 663.9 L1465.2 647.3 L1465.4 631.6 L1465.6 617.1 L1465.8 603.7 L1466.0 591.6 L1466.2 580.9 L1466.4 571.7 L1466.6 564.0 L1466.8 558.0 L1467.1 553.7 L1467.3 551.1 L1467.5 550.2 L1467.7 551.1 L1468.0 553.7 L1468.2 558.0 L1468.5 564.0 L1468.7 571.7 L1468.9 580.9 L1469.2 591.6 L1469.4 603.7 L1469.6 617.1 L1469.8 631.6 L1470.0 647.3 L1470.2 663.9 L1470.4 681.2 L1470.6 699.3 L1470.8 717.8 L1470.9 736.7 L1471.1 755.8 L1471.3 775.0 L1471.4 794.1 L1471.5 813.0 L1471.7 831.5 L1471.8 849.6 L1471.9 866.9 L1472.0 883.6 L1472.1 899.4 L1472.2 914.2 L1472.2 928.0 L1472.3 940.7 L1472.4 952.3 L1472.4 962.6 L1472.5 971.7 L1472.5 979.6 L1472.5 986.3 L1472.6 991.8 L1472.6 996.1 L1472.6 999.3 L1472.6 1001.6 L1472.7 1002.9 L1472.7 1003.6 L1472.7 1003.7 L1472.7 1003.7 L1472.7 1003.6 L1472.7 1002.9 L1472.7 1001.5 L1472.8 999.1 L1472.8 995.8 L1472.8 991.3 L1472.8 985.6 L1472.9 978.7 L1472.9 970.5 L1473.0 961.0 L1473.0 950.2 L1473.1 938.2 L1473.1 925.0 L1473.2 910.7 L1473.3 895.2 L1473.4 878.8 L1473.4 861.5 L1473.5 843.4 L1473.7 824.7 L1473.8 805.5 L1473.9 785.8 L1474.0 766.0 L1474.2 746.0 L1474.3 726.1 L1474.5 706.5 L1474.6 687.2 L1474.8 668.4 L1475.0 650.4 L1475.2 633.1 L1475.4 616.9 L1475.6 601.7 L1475.8 587.8 L1476.0 575.2 L1476.2 564.1 L1476.4 554.5 L1476.6 546.6 L1476.8 540.3 L1477.1 535.8 L1477.3 533.1 L1477.5 532.2 L1477.7 533.1 L1478.0 535.8 L1478.2 540.3 L1478.4 546.5 L1478.6 554.5 L1478.9 564.0 L1479.1 575.1 L1479.3 587.7 L1479.5 601.6 L1479.7 616.7 L1479.9 632.9 L1480.1 650.1 L1480.2 668.1 L1480.4 686.9 L1480.6 706.1 L1480.7 725.7 L1480.9 745.6 L1481.0 765.5 L1481.2 785.3 L1481.3 804.9 L1481.4 824.1 L1481.5 842.8 L1481.6 860.8 L1481.7 878.1 L1481.8 894.5 L1481.9 909.9 L1482.0 924.2 L1482.0 937.4 L1482.1 949.3 L1482.1 960.1 L1482.2 969.5 L1482.2 977.7 L1482.3 984.6 L1482.3 990.3 L1482.3 994.8 L1482.3 998.1 L1482.3 1000.5 L1482.4 1001.9 L1482.4 1002.6 L1482.4 1002.7 L1482.4 1002.7 L1482.4 1002.4 L1482.4 1001.1 L1482.5 998.4 L1482.5 993.9 L1482.6 987.4 L1482.6 978.8 L1482.7 967.9 L1482.7 954.5 L1482.8 938.7 L1482.9 920.5 L1483.0 899.7 L1483.2 876.6 L1483.3 851.2 L1483.5 823.6 L1483.7 793.8 L1483.9 762.2 L1484.2 728.9 L1484.4 694.1 L1484.7 658.1 L1485.0 621.0 L1485.3 583.2 L1485.7 545.0 L1486.1 506.6 L1486.5 468.3 L1486.9 430.4 L1487.3 393.3 L1487.8 357.2 L1488.3 322.4 L1488.8 289.2 L1489.3 257.9 L1489.8 228.7 L1490.4 201.9 L1490.9 177.7 L1491.5 156.3 L1492.1 137.9 L1492.7 122.6 L1493.3 110.5 L1493.9 101.9 L1494.5 96.6 L1495.1 94.9 L1495.7 96.6 L1496.3 101.8 L1496.9 110.3 L1497.5 122.1 L1498.0 137.1 L1498.6 155.2 L1499.1 176.2 L1499.7 200.0 L1500.2 226.3 L1500.7 255.0 L1501.2 285.7 L1501.7 318.3 L1502.2 352.5 L1502.6 387.9 L1503.1 424.4 L1503.5 461.5 L1503.9 499.1 L1504.2 536.8 L1504.6 574.4 L1504.9 611.5 L1505.2 647.9 L1505.5 683.3 L1505.8 717.5 L1506.0 750.2 L1506.2 781.2 L1506.4 810.4 L1506.6 837.5 L1506.7 862.5 L1506.9 885.2 L1507.0 905.5 L1507.1 923.5 L1507.2 939.0 L1507.3 952.1 L1507.3 962.8 L1507.4 971.3 L1507.5 977.7 L1507.5 982.1 L1507.5 984.8 L1507.6 986.0 L1507.6 986.3 L1507.6 986.3 L1507.6 986.0 L1507.7 984.8 L1507.7 982.2 L1507.8 977.9 L1507.8 971.7 L1507.9 963.4 L1507.9 952.9 L1508.0 940.1 L1508.1 925.0 L1508.2 907.5 L1508.3 887.7 L1508.5 865.6 L1508.6 841.2 L1508.8 814.7 L1509.0 786.3 L1509.2 756.0 L1509.5 724.1 L1509.7 690.8 L1510.0 656.3 L1510.3 620.8 L1510.6 584.6 L1511.0 547.9 L1511.4 511.1 L1511.8 474.5 L1512.2 438.2 L1512.6 402.7 L1513.1 368.1 L1513.5 334.8 L1514.0 303.0 L1514.5 273.0 L1515.0 245.1 L1515.6 219.4 L1516.1 196.2 L1516.7 175.7 L1517.3 158.1 L1517.8 143.4 L1518.4 131.9 L1519.0 123.6 L1519.6 118.6 L1520.2 116.9 L1520.8 118.5 L1521.5 123.5 L1522.1 131.6 L1522.8 142.9 L1523.4 157.3 L1524.0 174.7 L1524.6 194.8 L1525.2 217.6 L1525.8 242.8 L1526.3 270.2 L1526.9 299.7 L1527.4 330.9 L1527.9 363.6 L1528.4 397.5 L1528.9 432.5 L1529.3 468.1 L1529.8 504.1 L1530.2 540.2 L1530.5 576.2 L1530.9 611.7 L1531.2 646.6 L1531.5 680.5 L1531.8 713.2 L1532.1 744.5 L1532.3 774.3 L1532.5 802.2 L1532.7 828.2 L1532.9 852.1 L1533.1 873.9 L1533.2 893.4 L1533.4 910.5 L1533.5 925.4 L1533.6 937.9 L1533.7 948.2 L1533.7 956.3 L1533.8 962.4 L1533.9 966.7 L1533.9 969.2 L1534.0 970.4 L1534.0 970.7 L1534.0 971.8 L1534.0 971.5 L1534.1 970.3 L1534.1 967.6 L1534.2 963.3 L1534.3 957.0 L1534.3 948.7 L1534.4 938.1 L1534.5 925.2 L1534.6 909.9 L1534.7 892.3 L1534.9 872.2 L1535.0 849.9 L1535.2 825.3 L1535.4 798.6 L1535.6 769.9 L1535.9 739.3 L1536.1 707.1 L1536.4 673.4 L1536.7 638.6 L1537.0 602.7 L1537.4 566.2 L1537.7 529.2 L1538.1 492.1 L1538.6 455.0 L1539.0 418.4 L1539.4 382.5 L1539.9 347.6 L1540.4 314.0 L1540.9 281.9 L1541.5 251.6 L1542.0 223.4 L1542.6 197.5 L1543.2 174.1 L1543.8 153.4 L1544.4 135.6 L1545.0 120.8 L1545.6 109.1 L1546.2 100.7" fill="none" stroke="#231f20" stroke-width="2.4" stroke-linejoin="round" stroke-linecap="round"/>
<path d="M999.3 1010.5 L999.3 917 L1001 917 L1001 907 L1002.5 907 L1002.5 902 L1006.2 902 L1006.2 1010.5 Z" fill="#231f20"/>
<path d="M652.3 229.8C653.2 230.5 656.0 232.2 657.8 233.8C659.6 235.4 661.3 237.3 663.0 239.5C664.7 241.7 666.3 244.1 667.9 246.9C669.4 249.6 670.9 252.6 672.4 255.8C673.8 259.0 675.2 262.6 676.5 266.3C677.8 270.1 679.0 274.1 680.2 278.4C681.4 282.6 682.5 287.2 683.5 291.9C684.5 296.6 685.5 301.6 686.4 306.8C687.3 312.0 688.1 317.5 688.9 323.1C689.6 328.8 690.3 334.7 690.9 340.7C691.4 346.8 692.0 353.1 692.4 359.5C692.8 366.0 693.2 372.6 693.5 379.4C693.8 386.2 694.0 393.2 694.1 400.4C694.2 407.5 694.3 414.9 694.2 422.3C694.2 429.8 694.1 437.4 693.9 445.1C693.7 452.8 693.4 460.7 693.1 468.6C692.8 476.6 692.3 484.7 691.8 492.8C691.3 501.0 690.8 509.3 690.1 517.6C689.4 525.9 688.7 534.3 687.9 542.8C687.1 551.2 686.2 559.8 685.3 568.3C684.3 576.9 683.3 585.5 682.2 594.1C681.1 602.7 680.0 611.4 678.7 620.0C677.5 628.7 676.2 637.3 674.9 646.0C673.5 654.6 672.1 663.2 670.6 671.8C669.1 680.4 667.5 688.9 665.9 697.4C664.3 705.9 662.7 714.3 660.9 722.7C659.2 731.1 657.4 739.4 655.6 747.6C653.8 755.8 651.9 763.9 650.0 771.9C648.1 779.9 646.1 787.9 644.1 795.6C642.1 803.4 640.0 811.1 637.9 818.6C635.8 826.1 633.7 833.5 631.5 840.7C629.3 847.9 627.1 855.0 624.9 861.9C622.7 868.8 620.4 875.5 618.1 882.1C615.8 888.6 613.5 895.0 611.2 901.2C608.9 907.3 606.5 913.3 604.1 919.0C601.8 924.8 599.4 930.3 597.0 935.6C594.6 940.9 592.2 946.0 589.8 950.9C587.4 955.8 585.0 960.4 582.6 964.8C580.2 969.1 577.8 973.3 575.4 977.2C573.0 981.0 570.6 984.7 568.3 988.0C565.9 991.4 563.5 994.5 561.2 997.4C558.8 1000.2 556.5 1002.8 554.2 1005.1C551.9 1007.4 549.6 1009.4 547.3 1011.2C545.0 1012.9 542.8 1014.4 540.6 1015.6C538.4 1016.8 536.2 1017.7 534.1 1018.3C531.9 1019.0 529.8 1019.3 527.7 1019.4C525.7 1019.4 523.7 1019.2 521.7 1018.7C519.7 1018.2 517.9 1017.5 515.9 1016.4C513.9 1015.3 511.7 1013.7 509.7 1012.0C507.7 1010.2 505.7 1008.2 503.8 1005.9C501.9 1003.5 500.0 1000.9 498.2 998.1C496.5 995.2 494.7 992.1 493.1 988.7C491.4 985.3 489.8 981.6 488.3 977.7C486.8 973.8 485.3 969.6 484.0 965.2C482.6 960.8 481.3 956.1 480.0 951.2C478.8 946.3 477.6 941.2 476.6 935.8C475.5 930.4 474.5 924.8 473.5 919.0C472.6 913.2 471.8 907.2 471.0 901.0C470.2 894.7 469.6 888.3 468.9 881.7C468.3 875.1 467.8 868.3 467.4 861.3C467.0 854.3 466.6 847.2 466.3 839.9C466.1 832.6 465.9 825.1 465.8 817.5C465.7 809.9 465.7 802.1 465.8 794.3C465.8 786.4 466.0 778.4 466.2 770.3C466.5 762.2 466.8 754.0 467.2 745.7C467.6 737.4 468.1 729.0 468.7 720.5C469.3 712.0 469.9 703.5 470.7 694.9C471.4 686.3 472.3 677.7 473.2 669.0C474.1 660.3 475.1 651.6 476.1 642.8C477.2 634.1 478.3 625.3 479.5 616.6C480.7 607.8 482.0 599.1 483.4 590.4C484.8 581.6 486.2 572.9 487.7 564.2C489.2 555.6 490.8 546.9 492.4 538.4C494.1 529.8 495.8 521.3 497.5 512.8C499.3 504.4 501.1 496.0 503.0 487.7C504.9 479.5 506.8 471.3 508.8 463.2C510.8 455.2 512.9 447.2 515.0 439.4C517.1 431.6 519.3 423.8 521.5 416.3C523.7 408.7 525.9 401.3 528.2 394.1C530.5 386.8 532.8 379.7 535.2 372.8C537.5 365.9 539.9 359.2 542.4 352.6C544.8 346.1 547.2 339.7 549.7 333.6C552.2 327.4 554.7 321.5 557.2 315.7C559.8 310.0 562.3 304.5 564.9 299.2C567.4 293.9 570.0 288.8 572.6 284.0C575.2 279.2 577.8 274.6 580.4 270.3C583.0 266.0 585.6 261.9 588.2 258.0C590.8 254.2 593.4 250.6 595.9 247.3C598.5 244.0 601.1 241.0 603.7 238.2C606.3 235.4 608.8 232.8 611.4 230.5C614.0 228.2 616.5 226.3 619.0 224.4C621.5 222.6 623.9 221.0 626.2 219.5C628.6 218.0 630.9 216.7 633.3 215.6C635.7 214.5 638.1 213.5 640.6 213.0C643.1 212.5 645.8 212.3 648.3 212.7C650.9 213.1 654.7 215.2 656.0 215.7 M656.0 215.7C657.1 216.4 660.3 218.5 662.5 220.2C664.7 221.8 666.9 223.6 669.1 225.8C671.3 228.0 673.5 230.5 675.7 233.4C677.9 236.3 680.1 239.5 682.1 243.2C684.1 246.8 686.1 250.9 687.9 255.2C689.7 259.6 691.3 264.3 692.8 269.2C694.3 274.1 695.6 279.3 696.9 284.7C698.1 290.1 699.2 295.8 700.3 301.5C701.3 307.2 702.3 312.9 703.2 318.9C704.2 324.9 705.0 331.1 705.7 337.5C706.5 343.9 707.1 350.4 707.7 357.2C708.2 363.9 708.7 370.9 709.1 377.9C709.4 385.0 709.7 392.2 709.9 399.6C710.1 407.0 710.2 414.5 710.2 422.1C710.2 429.8 710.1 437.6 709.9 445.5C709.8 453.3 709.5 461.3 709.1 469.4C708.8 477.5 708.3 485.7 707.7 494.0C707.2 502.2 706.5 510.6 705.8 519.0C705.1 527.4 704.2 535.8 703.3 544.3C702.4 552.8 701.4 561.4 700.3 569.9C699.2 578.5 698.1 587.1 696.8 595.7C695.5 604.3 694.2 612.9 692.8 621.4C691.3 630.0 689.8 638.6 688.2 647.1C686.6 655.7 685.0 664.2 683.2 672.6C681.5 681.1 679.7 689.5 677.8 697.8C675.9 706.1 673.9 714.4 671.9 722.6C669.9 730.8 667.8 738.9 665.6 746.8C663.5 754.8 661.2 762.7 659.0 770.5C656.7 778.3 654.3 785.9 652.0 793.4C649.6 800.9 647.1 808.3 644.6 815.5C642.1 822.7 639.6 829.8 637.0 836.7C634.4 843.6 631.8 850.4 629.2 856.9C626.5 863.5 623.8 869.8 621.1 876.0C618.4 882.2 615.6 888.2 612.8 893.9C610.0 899.7 607.2 905.3 604.4 910.6C601.6 916.0 598.7 921.1 595.8 926.0C593.0 930.9 590.1 935.5 587.2 939.9C584.3 944.4 581.5 948.5 578.6 952.5C575.7 956.4 572.8 960.1 569.9 963.5C567.0 966.9 564.1 970.1 561.3 973.0C558.4 975.9 555.5 978.5 552.7 980.9C549.9 983.2 547.0 985.3 544.2 987.1C541.4 989.0 538.7 990.5 535.9 991.8C533.2 993.0 530.5 994.0 527.8 994.7C525.1 995.4 522.5 995.8 519.9 996.0C517.2 996.1 514.7 996.0 512.2 995.6C509.6 995.1 507.2 994.4 504.8 993.5C502.3 992.5 500.1 991.3 497.7 989.7C495.2 988.1 492.6 986.0 490.2 983.8C487.8 981.5 485.4 979.0 483.2 976.2C480.9 973.4 478.7 970.4 476.5 967.1C474.4 963.7 472.3 960.1 470.3 956.3C468.3 952.5 466.4 948.3 464.5 944.0C462.7 939.6 460.9 935.0 459.3 930.2C457.6 925.4 456.0 920.3 454.5 915.0C453.0 909.7 451.6 904.2 450.3 898.4C448.9 892.7 447.7 886.7 446.6 880.6C445.4 874.4 444.4 868.0 443.4 861.5C442.5 854.9 441.6 848.2 440.9 841.3C440.1 834.4 439.5 827.3 438.9 820.0C438.4 812.8 437.9 805.3 437.5 797.8C437.2 790.3 436.9 782.5 436.8 774.7C436.6 766.9 436.6 758.9 436.6 750.9C436.6 742.8 436.8 734.6 437.0 726.4C437.3 718.1 437.6 709.8 438.1 701.3C438.5 692.9 439.0 684.4 439.7 675.8C440.3 667.3 441.1 658.6 441.9 650.0C442.7 641.3 443.7 632.6 444.7 623.9C445.7 615.2 446.9 606.5 448.1 597.7C449.3 589.0 450.6 580.2 452.0 571.5C453.4 562.8 454.9 554.1 456.5 545.4C458.0 536.8 459.7 528.1 461.4 519.6C463.2 511.0 465.0 502.5 466.9 494.0C468.8 485.6 470.8 477.2 472.8 468.9C474.9 460.6 477.0 452.4 479.2 444.3C481.4 436.2 483.7 428.3 486.0 420.4C488.4 412.6 490.8 404.8 493.2 397.2C495.7 389.6 498.2 382.2 500.8 374.9C503.3 367.6 506.0 360.5 508.6 353.5C511.3 346.5 514.0 339.7 516.8 333.1C519.6 326.5 522.4 320.1 525.2 313.9C528.1 307.7 530.9 301.6 533.9 295.8C536.8 290.0 539.7 284.4 542.7 279.0C545.6 273.6 548.6 268.5 551.6 263.6C554.6 258.6 557.7 253.9 560.7 249.5C563.7 245.1 566.8 240.8 569.8 236.9C572.9 232.9 575.9 229.3 579.0 225.8C582.1 222.2 585.2 218.8 588.3 215.6C591.4 212.5 594.5 209.6 597.6 207.1C600.8 204.5 603.9 202.2 607.1 200.5C610.3 198.7 613.6 197.4 616.8 196.5C620.0 195.6 623.2 195.1 626.3 195.1C629.4 195.1 632.5 195.5 635.4 196.2C638.2 196.9 641.0 198.0 643.6 199.2C646.3 200.4 648.7 201.9 651.1 203.3C653.5 204.8 656.9 207.2 658.1 208.0 M658.1 208.0C659.3 209.2 663.3 212.5 665.6 215.4C667.8 218.3 669.8 221.9 671.7 225.5C673.5 229.1 675.0 233.0 676.5 236.9C677.9 240.8 679.2 244.8 680.5 248.9C681.7 253.0 682.9 257.1 684.1 261.4C685.4 265.8 686.7 270.2 687.8 275.0C689.0 279.7 690.2 284.7 691.2 289.9C692.2 295.1 693.2 300.4 694.0 306.0C694.9 311.5 695.7 317.2 696.4 323.1C697.0 328.9 697.6 335.0 698.1 341.3C698.6 347.6 699.0 354.0 699.3 360.6C699.6 367.2 699.9 374.0 700.0 380.9C700.1 387.8 700.1 394.9 700.1 402.1C700.0 409.3 699.8 416.6 699.6 424.1C699.3 431.5 699.0 439.1 698.5 446.8C698.1 454.5 697.5 462.3 696.9 470.1C696.3 478.0 695.5 485.9 694.7 494.0C693.9 502.0 693.0 510.1 692.0 518.2C691.0 526.3 689.9 534.6 688.8 542.8C687.6 551.0 686.3 559.3 685.0 567.5C683.7 575.8 682.2 584.1 680.7 592.4C679.2 600.7 677.7 609.0 676.0 617.2C674.3 625.5 672.6 633.8 670.8 642.0C669.0 650.2 667.1 658.4 665.1 666.5C663.2 674.6 661.1 682.7 659.1 690.7C657.0 698.7 654.8 706.6 652.6 714.4C650.4 722.3 648.1 730.0 645.8 737.7C643.4 745.3 641.0 752.8 638.6 760.3C636.2 767.7 633.7 775.0 631.1 782.1C628.6 789.3 626.0 796.3 623.4 803.2C620.8 810.0 618.1 816.8 615.4 823.3C612.7 829.8 610.0 836.2 607.2 842.4C604.5 848.6 601.7 854.7 598.9 860.5C596.1 866.3 593.2 872.0 590.4 877.4C587.6 882.8 584.7 888.1 581.8 893.1C578.9 898.1 576.1 902.9 573.2 907.4C570.3 912.0 567.4 916.4 564.5 920.5C561.6 924.6 558.7 928.4 555.9 932.1C553.0 935.7 550.1 939.1 547.2 942.2C544.4 945.3 541.6 948.2 538.7 950.8C535.9 953.4 533.1 955.8 530.3 957.9C527.6 960.0 524.8 961.9 522.1 963.4C519.4 965.0 516.7 966.3 514.1 967.3C511.4 968.4 508.8 969.1 506.3 969.6C503.7 970.1 501.2 970.4 498.7 970.3C496.3 970.3 493.8 970.0 491.5 969.4C489.1 968.8 486.8 967.9 484.5 966.8C482.3 965.7 480.1 964.3 478.0 962.6C475.9 961.0 473.8 959.1 471.9 956.9C469.9 954.7 468.0 952.3 466.2 949.6C464.4 946.9 462.6 944.0 460.9 940.8C459.2 937.6 457.6 934.1 456.1 930.5C454.6 926.8 453.2 922.8 451.8 918.7C450.4 914.5 449.2 910.1 448.0 905.5C446.8 900.9 445.7 896.0 444.6 891.0C443.6 885.9 442.7 880.7 441.9 875.2C441.0 869.7 440.3 864.0 439.6 858.1C438.9 852.3 438.4 846.2 437.9 840.0C437.4 833.7 437.0 827.3 436.7 820.7C436.4 814.2 436.2 807.4 436.1 800.5C436.0 793.6 436.0 786.6 436.1 779.4C436.2 772.2 436.4 764.9 436.6 757.5C436.9 750.0 437.3 742.5 437.7 734.8C438.2 727.2 438.8 719.4 439.4 711.6C440.0 703.7 440.8 695.8 441.6 687.8C442.4 679.8 443.3 671.7 444.3 663.6C445.3 655.5 446.4 647.3 447.6 639.1C448.8 630.9 450.0 622.6 451.4 614.4C452.7 606.1 454.1 597.8 455.6 589.6C457.1 581.3 458.7 573.0 460.4 564.8C462.1 556.5 463.8 548.3 465.6 540.1C467.4 531.9 469.3 523.7 471.3 515.6C473.2 507.5 475.2 499.4 477.3 491.5C479.4 483.5 481.6 475.5 483.8 467.7C486.0 459.9 488.3 452.2 490.6 444.5C492.9 436.9 495.3 429.4 497.7 421.9C500.1 414.5 502.6 407.2 505.1 400.1C507.7 393.0 510.2 385.9 512.8 379.1C515.5 372.2 518.1 365.5 520.8 358.9C523.5 352.4 526.2 346.0 528.9 339.8C531.7 333.6 534.4 327.6 537.2 321.7C540.0 315.9 542.8 310.3 545.7 304.8C548.5 299.4 551.3 294.2 554.2 289.2C557.0 284.1 559.9 279.3 562.8 274.8C565.6 270.2 568.5 265.8 571.4 261.7C574.2 257.6 577.1 253.7 579.9 250.1C582.8 246.5 585.6 243.1 588.5 239.9C591.3 236.8 594.1 233.9 596.9 231.3C599.7 228.6 602.5 226.2 605.2 224.1C608.0 222.0 610.7 220.1 613.4 218.5C616.1 216.9 618.8 215.6 621.5 214.6C624.1 213.7 626.8 213.0 629.4 212.7C631.9 212.4 634.5 212.5 636.9 212.8C639.4 213.2 641.7 213.9 644.0 214.7C646.2 215.6 648.4 216.7 650.5 218.0C652.5 219.3 655.5 221.6 656.5 222.3 M656.5 222.3C657.5 223.3 660.5 226.1 662.4 228.4C664.2 230.8 665.9 233.5 667.5 236.4C669.0 239.2 670.5 242.3 671.8 245.6C673.2 248.8 674.5 252.2 675.7 255.8C676.9 259.4 678.1 263.2 679.2 267.2C680.4 271.2 681.5 275.4 682.5 279.8C683.5 284.2 684.4 288.9 685.3 293.7C686.1 298.6 686.9 303.6 687.5 308.8C688.2 314.1 688.8 319.5 689.3 325.1C689.8 330.7 690.2 336.5 690.5 342.5C690.8 348.5 691.1 354.6 691.2 360.9C691.3 367.2 691.4 373.7 691.4 380.3C691.3 386.9 691.2 393.6 691.0 400.5C690.8 407.4 690.5 414.4 690.1 421.5C689.7 428.6 689.2 435.8 688.6 443.2C688.1 450.5 687.4 457.9 686.7 465.4C685.9 473.0 685.1 480.6 684.2 488.2C683.3 495.9 682.3 503.6 681.2 511.4C680.1 519.2 679.0 527.0 677.7 534.9C676.5 542.8 675.2 550.7 673.8 558.6C672.4 566.5 670.9 574.4 669.3 582.4C667.8 590.3 666.2 598.2 664.5 606.1C662.8 614.1 661.0 622.0 659.2 629.8C657.4 637.7 655.5 645.5 653.5 653.3C651.6 661.1 649.6 668.8 647.5 676.5C645.4 684.1 643.3 691.7 641.1 699.2C638.9 706.7 636.7 714.2 634.4 721.5C632.1 728.8 629.7 736.1 627.4 743.2C625.0 750.3 622.5 757.3 620.1 764.2C617.6 771.0 615.1 777.8 612.6 784.4C610.0 790.9 607.5 797.4 604.9 803.7C602.3 810.0 599.7 816.1 597.0 822.1C594.4 828.0 591.7 833.8 589.0 839.4C586.3 845.0 583.6 850.5 580.9 855.7C578.2 860.9 575.5 865.9 572.8 870.8C570.0 875.6 567.3 880.2 564.6 884.6C561.8 889.0 559.1 893.2 556.4 897.2C553.7 901.1 551.0 904.9 548.3 908.4C545.6 911.9 542.9 915.1 540.2 918.2C537.5 921.2 534.9 924.0 532.2 926.5C529.6 929.1 527.0 931.4 524.4 933.4C521.9 935.5 519.3 937.3 516.8 938.8C514.3 940.3 511.8 941.6 509.4 942.7C507.0 943.7 504.6 944.5 502.2 945.0C499.9 945.5 497.6 945.7 495.3 945.7C493.1 945.7 490.9 945.5 488.7 944.9C486.6 944.4 484.5 943.6 482.5 942.6C480.5 941.5 478.4 940.2 476.6 938.7C474.7 937.2 473.1 935.5 471.4 933.5C469.7 931.6 468.2 929.4 466.6 926.9C465.1 924.5 463.7 921.7 462.3 918.8C460.9 915.9 459.6 912.7 458.4 909.3C457.1 905.9 456.0 902.2 454.9 898.3C453.9 894.5 452.9 890.4 452.0 886.1C451.0 881.8 450.2 877.2 449.5 872.5C448.7 867.8 448.1 862.8 447.5 857.7C446.9 852.6 446.4 847.2 446.0 841.7C445.6 836.2 445.3 830.5 445.0 824.6C444.8 818.8 444.6 812.7 444.6 806.5C444.5 800.3 444.5 794.0 444.6 787.5C444.7 781.0 444.9 774.3 445.2 767.6C445.5 760.8 445.9 753.9 446.3 746.8C446.8 739.8 447.3 732.7 447.9 725.4C448.6 718.2 449.3 710.8 450.0 703.4C450.8 696.0 451.7 688.5 452.7 680.9C453.6 673.3 454.6 665.6 455.8 657.9C456.9 650.2 458.1 642.5 459.3 634.7C460.6 626.9 461.9 619.1 463.3 611.2C464.8 603.4 466.2 595.5 467.8 587.6C469.4 579.8 471.0 571.9 472.7 564.0C474.4 556.2 476.1 548.3 478.0 540.5C479.8 532.7 481.7 524.9 483.6 517.2C485.6 509.5 487.6 501.8 489.6 494.1C491.7 486.5 493.8 479.0 495.9 471.5C498.1 464.0 500.3 456.6 502.6 449.3C504.8 442.0 507.1 434.8 509.5 427.7C511.8 420.6 514.2 413.6 516.6 406.8C519.0 399.9 521.5 393.2 524.0 386.6C526.4 380.0 529.0 373.6 531.5 367.3C534.0 361.0 536.6 354.9 539.2 348.9C541.7 342.9 544.3 337.1 547.0 331.5C549.6 325.9 552.2 320.5 554.8 315.2C557.5 310.0 560.1 304.9 562.7 300.1C565.4 295.2 568.0 290.6 570.7 286.1C573.3 281.7 576.0 277.5 578.6 273.5C581.2 269.5 583.8 265.7 586.4 262.1C589.0 258.6 591.6 255.3 594.2 252.2C596.8 249.1 599.3 246.3 601.8 243.7C604.4 241.1 606.9 238.7 609.3 236.6C611.8 234.5 614.2 232.6 616.6 231.0C619.0 229.4 621.4 228.0 623.7 226.9C626.1 225.8 628.4 224.9 630.7 224.4C632.9 223.9 635.2 223.7 637.3 223.8C639.5 223.9 641.6 224.2 643.6 224.8C645.6 225.5 647.5 226.3 649.3 227.4C651.2 228.5 653.8 230.6 654.7 231.2 M654.7 231.2C655.6 232.2 658.4 234.8 660.0 237.0C661.7 239.3 663.2 241.9 664.7 244.6C666.1 247.4 667.4 250.4 668.7 253.6C669.9 256.9 671.1 260.3 672.2 264.0C673.3 267.7 674.4 271.6 675.3 275.8C676.3 280.0 677.2 284.4 678.0 289.1C678.8 293.7 679.5 298.6 680.1 303.7C680.7 308.8 681.2 314.1 681.6 319.7C682.1 325.2 682.4 331.0 682.6 336.9C682.9 342.8 683.0 349.0 683.1 355.3C683.1 361.7 683.1 368.2 682.9 374.9C682.8 381.6 682.6 388.5 682.3 395.5C681.9 402.5 681.5 409.7 681.0 417.1C680.5 424.4 679.9 431.9 679.2 439.5C678.5 447.1 677.7 454.8 676.9 462.6C676.0 470.5 675.0 478.4 674.0 486.5C672.9 494.5 671.8 502.7 670.6 510.9C669.4 519.1 668.1 527.4 666.7 535.8C665.3 544.1 663.8 552.5 662.3 561.0C660.7 569.4 659.1 577.9 657.4 586.4C655.7 594.9 653.9 603.5 652.1 612.0C650.2 620.5 648.3 629.1 646.3 637.6C644.3 646.1 642.3 654.7 640.2 663.1C638.0 671.6 635.9 680.1 633.6 688.5C631.4 696.9 629.1 705.2 626.7 713.5C624.4 721.8 622.0 730.0 619.5 738.1C617.1 746.3 614.6 754.3 612.0 762.2C609.5 770.2 606.9 778.0 604.3 785.7C601.7 793.4 599.0 801.0 596.3 808.5C593.6 815.9 590.9 823.3 588.1 830.4C585.4 837.6 582.6 844.6 579.8 851.5C577.0 858.3 574.2 865.0 571.4 871.5C568.5 878.0 565.7 884.3 562.8 890.5C560.0 896.6 557.1 902.5 554.2 908.3C551.4 914.0 548.5 919.5 545.7 924.8C542.8 930.1 539.9 935.2 537.1 940.0C534.3 944.9 531.4 949.5 528.6 953.9C525.8 958.2 523.0 962.4 520.2 966.3C517.4 970.2 514.7 973.8 512.0 977.2C509.2 980.6 506.5 983.7 503.9 986.6C501.2 989.4 498.6 992.0 496.0 994.3C493.4 996.7 490.8 998.7 488.3 1000.5C485.8 1002.3 483.4 1003.8 481.0 1005.1C478.6 1006.3 476.2 1007.3 473.9 1008.0C471.6 1008.6 469.3 1009.0 467.2 1009.2C465.0 1009.3 462.8 1009.1 460.8 1008.7C458.7 1008.3 456.7 1007.6 454.8 1006.6C452.9 1005.6 451.0 1004.3 449.2 1002.8C447.5 1001.2 445.8 999.5 444.2 997.4C442.6 995.3 441.1 993.0 439.6 990.4C438.2 987.8 436.8 985.0 435.6 981.8C434.3 978.7 433.1 975.3 432.0 971.7C430.9 968.1 429.8 964.2 428.9 960.1C428.0 955.9 427.1 951.6 426.3 946.9C425.6 942.3 424.9 937.5 424.3 932.4C423.8 927.4 423.3 922.1 422.9 916.6C422.5 911.1 422.2 905.3 422.0 899.4C421.7 893.5 421.6 887.4 421.6 881.1C421.6 874.8 421.6 868.3 421.8 861.6C422.0 854.9 422.2 848.1 422.5 841.1C422.9 834.1 423.3 826.9 423.9 819.6C424.4 812.3 425.0 804.9 425.7 797.3C426.4 789.7 427.2 782.0 428.1 774.2C429.0 766.4 430.0 758.5 431.0 750.4C432.1 742.4 433.2 734.3 434.5 726.1C435.7 717.9 437.0 709.6 438.4 701.3C439.8 693.0 441.3 684.6 442.8 676.2C444.4 667.7 446.0 659.3 447.7 650.8C449.4 642.3 451.2 633.8 453.1 625.2C454.9 616.7 456.9 608.2 458.8 599.7C460.8 591.2 462.9 582.7 465.0 574.2C467.1 565.7 469.3 557.3 471.5 548.9C473.8 540.5 476.1 532.2 478.4 523.9C480.8 515.6 483.2 507.4 485.6 499.3C488.0 491.2 490.5 483.2 493.1 475.2C495.6 467.3 498.2 459.5 500.8 451.8C503.4 444.1 506.1 436.5 508.7 429.0C511.4 421.6 514.1 414.2 516.9 407.1C519.6 399.9 522.4 392.9 525.1 386.0C527.9 379.2 530.7 372.5 533.5 366.0C536.3 359.5 539.2 353.1 542.0 347.0C544.8 340.9 547.7 334.9 550.5 329.2C553.3 323.5 556.2 317.9 559.0 312.6C561.8 307.3 564.7 302.2 567.5 297.4C570.3 292.5 573.1 287.9 575.9 283.5C578.7 279.1 581.5 274.9 584.2 271.0C587.0 267.1 589.7 263.5 592.4 260.1C595.1 256.7 597.8 253.5 600.4 250.6C603.0 247.8 605.6 245.1 608.2 242.8C610.7 240.4 613.3 238.3 615.7 236.5C618.2 234.7 620.6 233.2 623.0 231.9C625.4 230.6 627.7 229.6 630.0 228.9C632.3 228.2 634.5 227.8 636.7 227.7C638.8 227.6 640.9 227.8 643.0 228.3C645.0 228.7 646.9 229.5 648.8 230.5C650.7 231.5 653.3 233.7 654.2 234.3 M654.2 234.3C654.9 235.1 657.3 237.3 658.7 239.1C660.1 241.0 661.4 243.1 662.7 245.3C664.0 247.6 665.2 250.1 666.3 252.8C667.4 255.4 668.5 258.3 669.5 261.4C670.5 264.5 671.4 267.7 672.3 271.2C673.1 274.6 673.9 278.3 674.6 282.1C675.3 286.0 676.0 290.0 676.5 294.2C677.1 298.4 677.6 302.8 678.0 307.3C678.4 311.8 678.7 316.5 679.0 321.4C679.2 326.3 679.4 331.3 679.5 336.5C679.6 341.6 679.6 346.9 679.5 352.4C679.5 357.8 679.3 363.4 679.1 369.2C678.9 374.9 678.6 380.7 678.2 386.7C677.8 392.6 677.4 398.7 676.9 404.8C676.3 411.0 675.7 417.2 675.0 423.6C674.4 429.9 673.6 436.3 672.8 442.8C671.9 449.3 671.0 455.9 670.1 462.5C669.1 469.1 668.0 475.8 666.9 482.6C665.8 489.3 664.6 496.1 663.4 502.9C662.1 509.6 660.8 516.5 659.4 523.3C658.0 530.1 656.6 537.0 655.1 543.9C653.6 550.7 652.0 557.6 650.4 564.4C648.8 571.2 647.1 578.1 645.3 584.8C643.6 591.6 641.8 598.4 640.0 605.1C638.1 611.8 636.2 618.5 634.3 625.1C632.4 631.7 630.4 638.3 628.3 644.7C626.3 651.2 624.3 657.6 622.1 663.9C620.0 670.3 617.9 676.5 615.7 682.6C613.5 688.8 611.3 694.8 609.1 700.7C606.9 706.6 604.6 712.4 602.3 718.1C600.0 723.8 597.7 729.4 595.4 734.8C593.1 740.2 590.7 745.5 588.3 750.6C586.0 755.7 583.6 760.7 581.2 765.6C578.8 770.4 576.4 775.0 574.1 779.5C571.7 784.0 569.3 788.4 566.9 792.5C564.5 796.7 562.1 800.6 559.7 804.4C557.3 808.2 554.9 811.8 552.6 815.2C550.2 818.6 547.8 821.8 545.5 824.8C543.2 827.8 540.8 830.6 538.6 833.2C536.3 835.8 534.0 838.2 531.7 840.4C529.5 842.6 527.3 844.5 525.1 846.3C522.9 848.0 520.7 849.5 518.6 850.8C516.5 852.2 514.4 853.2 512.4 854.1C510.3 855.0 508.3 855.6 506.4 856.0C504.4 856.5 502.5 856.7 500.6 856.6C498.8 856.6 497.0 856.3 495.2 855.9C493.4 855.4 491.7 854.7 490.1 853.8C488.4 852.9 486.8 851.7 485.3 850.3C483.8 849.0 482.3 847.4 480.9 845.6C479.5 843.8 478.2 841.8 476.9 839.6C475.6 837.4 474.4 834.9 473.3 832.3C472.1 829.6 471.1 826.8 470.1 823.7C469.1 820.7 468.1 817.4 467.3 814.0C466.4 810.5 465.6 806.9 464.9 803.1C464.2 799.2 463.6 795.2 463.0 791.0C462.5 786.9 462.0 782.5 461.6 778.0C461.2 773.4 460.9 768.7 460.6 763.9C460.4 759.0 460.2 754.0 460.1 748.8C460.0 743.6 460.0 738.3 460.1 732.9C460.2 727.4 460.3 721.8 460.5 716.1C460.7 710.4 461.0 704.6 461.4 698.7C461.8 692.7 462.3 686.7 462.8 680.5C463.3 674.4 463.9 668.1 464.6 661.8C465.3 655.4 466.0 649.0 466.9 642.5C467.7 636.0 468.6 629.4 469.6 622.8C470.6 616.2 471.6 609.5 472.7 602.8C473.8 596.1 475.0 589.3 476.3 582.5C477.5 575.7 478.9 568.9 480.2 562.1C481.6 555.2 483.1 548.4 484.6 541.5C486.1 534.7 487.7 527.8 489.3 521.0C490.9 514.2 492.6 507.3 494.3 500.6C496.1 493.8 497.9 487.0 499.7 480.3C501.5 473.6 503.4 466.9 505.4 460.3C507.3 453.7 509.3 447.2 511.3 440.7C513.3 434.2 515.4 427.8 517.5 421.5C519.6 415.2 521.8 408.9 523.9 402.8C526.1 396.7 528.3 390.6 530.5 384.7C532.8 378.8 535.0 373.0 537.3 367.3C539.6 361.6 541.9 356.1 544.3 350.6C546.6 345.2 548.9 339.9 551.3 334.8C553.6 329.7 556.0 324.7 558.4 319.9C560.8 315.0 563.2 310.4 565.6 305.9C567.9 301.4 570.3 297.1 572.7 292.9C575.1 288.8 577.5 284.8 579.9 281.0C582.3 277.2 584.6 273.6 587.0 270.2C589.4 266.8 591.7 263.6 594.1 260.6C596.4 257.6 598.7 254.8 601.0 252.2C603.3 249.6 605.6 247.2 607.8 245.0C610.0 242.8 612.3 240.9 614.4 239.1C616.6 237.4 618.8 235.8 620.9 234.5C623.0 233.2 625.1 232.1 627.1 231.3C629.2 230.4 631.2 229.7 633.1 229.3C635.1 228.9 637.0 228.7 638.8 228.7C640.7 228.7 642.5 229.0 644.2 229.5C646.0 229.9 647.7 230.6 649.3 231.5C651.0 232.4 653.3 234.4 654.1 234.9 M654.1 234.9C654.8 235.7 657.1 237.9 658.5 239.7C659.9 241.5 661.3 243.5 662.5 245.7C663.8 247.9 665.0 250.4 666.2 253.0C667.3 255.7 668.4 258.5 669.4 261.6C670.4 264.6 671.3 267.9 672.2 271.4C673.0 274.8 673.8 278.5 674.5 282.3C675.2 286.1 675.9 290.2 676.4 294.4C677.0 298.6 677.5 302.9 677.9 307.5C678.3 312.0 678.6 316.8 678.9 321.6C679.1 326.5 679.3 331.6 679.4 336.7C679.5 341.9 679.5 347.3 679.4 352.7C679.4 358.2 679.2 363.8 679.0 369.5C678.8 375.3 678.5 381.1 678.1 387.1C677.7 393.0 677.3 399.1 676.8 405.3C676.2 411.5 675.6 417.8 674.9 424.1C674.3 430.5 673.5 436.9 672.7 443.5C671.9 450.0 670.9 456.6 670.0 463.2C669.0 469.9 667.9 476.6 666.8 483.3C665.7 490.1 664.5 496.9 663.3 503.7C662.0 510.5 660.7 517.4 659.3 524.3C657.9 531.1 656.5 538.0 655.0 544.9C653.5 551.8 651.9 558.7 650.3 565.5C648.7 572.4 647.0 579.2 645.2 586.1C643.5 592.9 641.7 599.7 639.9 606.4C638.0 613.2 636.1 619.9 634.2 626.5C632.2 633.1 630.3 639.7 628.2 646.3C626.2 652.8 624.1 659.2 622.0 665.6C619.9 671.9 617.8 678.2 615.6 684.3C613.4 690.5 611.2 696.6 609.0 702.5C606.8 708.5 604.5 714.3 602.2 720.0C599.9 725.7 597.6 731.3 595.3 736.8C592.9 742.2 590.6 747.5 588.2 752.7C585.9 757.9 583.5 762.9 581.1 767.7C578.7 772.6 576.3 777.3 573.9 781.8C571.5 786.3 569.1 790.7 566.7 794.9C564.4 799.0 562.0 803.0 559.6 806.8C557.2 810.7 554.8 814.3 552.4 817.7C550.1 821.1 547.7 824.4 545.4 827.4C543.0 830.4 540.7 833.3 538.4 835.9C536.1 838.5 533.9 840.9 531.6 843.1C529.4 845.3 527.1 847.3 525.0 849.0C522.8 850.8 520.6 852.4 518.5 853.7C516.4 855.0 514.3 856.1 512.2 857.0C510.2 857.9 508.2 858.5 506.2 859.0C504.3 859.4 502.4 859.6 500.5 859.6C498.6 859.6 496.8 859.3 495.1 858.9C493.3 858.4 491.6 857.7 490.0 856.8C488.3 855.9 486.7 854.8 485.2 853.4C483.6 852.0 482.1 850.4 480.7 848.6C479.3 846.8 477.9 844.8 476.7 842.5C475.4 840.3 474.1 837.9 473.0 835.2C471.8 832.5 470.7 829.7 469.7 826.6C468.7 823.5 467.8 820.2 466.9 816.8C466.0 813.3 465.2 809.6 464.5 805.8C463.8 801.9 463.1 797.9 462.5 793.7C462.0 789.5 461.5 785.1 461.1 780.5C460.6 776.0 460.3 771.2 460.0 766.3C459.8 761.4 459.6 756.4 459.5 751.2C459.4 746.0 459.4 740.6 459.4 735.2C459.5 729.7 459.6 724.1 459.8 718.3C460.0 712.6 460.3 706.7 460.7 700.7C461.1 694.7 461.5 688.6 462.0 682.5C462.5 676.3 463.1 670.0 463.8 663.6C464.5 657.2 465.2 650.8 466.1 644.2C466.9 637.7 467.8 631.1 468.8 624.4C469.7 617.8 470.8 611.0 471.9 604.3C473.0 597.5 474.2 590.7 475.4 583.9C476.7 577.1 478.0 570.2 479.4 563.3C480.7 556.4 482.2 549.5 483.7 542.7C485.2 535.8 486.8 528.9 488.4 522.0C490.0 515.1 491.7 508.3 493.4 501.4C495.2 494.6 497.0 487.8 498.8 481.1C500.7 474.3 502.6 467.6 504.5 461.0C506.4 454.3 508.4 447.7 510.5 441.2C512.5 434.7 514.6 428.3 516.7 421.9C518.8 415.6 520.9 409.3 523.1 403.1C525.3 396.9 527.5 390.9 529.8 384.9C532.0 379.0 534.3 373.1 536.6 367.4C538.9 361.7 541.2 356.1 543.5 350.7C545.9 345.2 548.2 339.9 550.6 334.7C553.0 329.6 555.3 324.6 557.7 319.7C560.1 314.9 562.5 310.2 564.9 305.7C567.3 301.1 569.7 296.8 572.1 292.6C574.6 288.4 577.0 284.4 579.4 280.6C581.8 276.8 584.1 273.2 586.5 269.8C588.9 266.4 591.3 263.1 593.6 260.1C596.0 257.1 598.3 254.3 600.6 251.7C602.9 249.1 605.2 246.7 607.5 244.5C609.7 242.3 612.0 240.3 614.2 238.5C616.4 236.8 618.5 235.2 620.7 233.9C622.8 232.6 624.9 231.4 627.0 230.6C629.1 229.7 631.1 229.0 633.1 228.6C635.1 228.2 637.0 228.0 638.9 228.0C640.8 228.1 642.6 228.3 644.4 228.8C646.2 229.3 647.9 230.1 649.6 231.0C651.3 232.0 653.6 234.0 654.4 234.6 M654.4 234.6C655.1 235.4 657.3 237.5 658.7 239.3C660.0 241.0 661.3 243.0 662.5 245.1C663.7 247.2 664.9 249.6 666.0 252.1C667.1 254.6 668.1 257.3 669.0 260.2C670.0 263.1 670.9 266.2 671.7 269.4C672.5 272.7 673.2 276.1 673.9 279.7C674.5 283.3 675.1 287.0 675.6 290.9C676.1 294.8 676.6 298.8 676.9 303.0C677.3 307.2 677.6 311.5 677.8 316.0C678.1 320.4 678.2 325.0 678.3 329.8C678.4 334.5 678.4 339.4 678.3 344.4C678.2 349.3 678.1 354.4 677.9 359.6C677.7 364.8 677.4 370.2 677.0 375.6C676.6 381.0 676.2 386.5 675.7 392.0C675.2 397.6 674.6 403.3 673.9 409.0C673.3 414.8 672.5 420.6 671.7 426.5C670.9 432.3 670.1 438.3 669.1 444.3C668.2 450.2 667.2 456.3 666.1 462.3C665.1 468.4 663.9 474.5 662.7 480.6C661.5 486.7 660.3 492.8 659.0 499.0C657.7 505.1 656.3 511.3 654.8 517.4C653.4 523.5 651.9 529.7 650.3 535.8C648.8 541.9 647.2 548.0 645.5 554.1C643.9 560.1 642.2 566.2 640.4 572.2C638.7 578.1 636.9 584.1 635.0 590.0C633.2 595.9 631.3 601.7 629.4 607.5C627.5 613.2 625.5 618.9 623.5 624.5C621.5 630.1 619.4 635.6 617.4 641.1C615.3 646.5 613.2 651.8 611.1 657.1C609.0 662.3 606.8 667.4 604.7 672.4C602.5 677.4 600.3 682.3 598.1 687.1C595.9 691.9 593.6 696.5 591.4 701.0C589.2 705.5 586.9 709.9 584.7 714.1C582.4 718.3 580.1 722.4 577.9 726.3C575.6 730.2 573.3 734.0 571.0 737.6C568.8 741.2 566.5 744.6 564.3 747.9C562.0 751.2 559.7 754.3 557.5 757.2C555.3 760.1 553.0 762.8 550.8 765.4C548.6 767.9 546.4 770.3 544.2 772.5C542.1 774.7 539.9 776.7 537.8 778.5C535.7 780.3 533.6 781.9 531.5 783.4C529.4 784.8 527.4 786.0 525.4 787.0C523.4 788.1 521.4 788.9 519.5 789.5C517.6 790.1 515.7 790.6 513.8 790.8C512.0 791.0 510.2 791.0 508.4 790.9C506.7 790.7 504.9 790.3 503.3 789.7C501.6 789.2 500.0 788.4 498.5 787.4C496.9 786.4 495.4 785.3 494.0 783.9C492.5 782.5 491.1 780.9 489.7 779.1C488.4 777.3 487.1 775.3 485.8 773.2C484.6 771.0 483.4 768.6 482.3 766.1C481.2 763.6 480.2 760.8 479.2 757.9C478.3 755.0 477.4 751.9 476.5 748.7C475.7 745.4 475.0 742.0 474.3 738.4C473.6 734.8 473.0 731.1 472.4 727.2C471.9 723.2 471.4 719.2 471.0 715.0C470.6 710.8 470.3 706.4 470.0 701.9C469.8 697.4 469.6 692.8 469.5 688.0C469.4 683.2 469.4 678.3 469.4 673.3C469.5 668.3 469.6 663.2 469.8 658.0C470.0 652.7 470.3 647.4 470.6 641.9C471.0 636.5 471.4 631.0 471.9 625.4C472.4 619.8 473.0 614.1 473.6 608.3C474.3 602.5 475.0 596.7 475.8 590.8C476.5 584.9 477.4 578.9 478.3 572.9C479.2 566.9 480.2 560.9 481.3 554.8C482.4 548.7 483.5 542.6 484.7 536.5C485.9 530.3 487.1 524.2 488.4 518.0C489.7 511.9 491.1 505.7 492.6 499.5C494.0 493.4 495.5 487.2 497.0 481.1C498.6 475.0 500.2 468.8 501.8 462.8C503.5 456.7 505.2 450.6 507.0 444.6C508.7 438.6 510.5 432.7 512.4 426.8C514.2 420.9 516.1 415.0 518.1 409.3C520.0 403.5 522.0 397.8 524.0 392.2C526.0 386.6 528.0 381.0 530.1 375.6C532.2 370.2 534.3 364.8 536.4 359.6C538.6 354.4 540.7 349.2 542.9 344.2C545.1 339.2 547.3 334.3 549.5 329.6C551.8 324.8 554.0 320.2 556.3 315.7C558.5 311.2 560.8 306.8 563.1 302.6C565.4 298.4 567.6 294.3 569.9 290.4C572.2 286.5 574.5 282.7 576.8 279.1C579.1 275.6 581.4 272.1 583.7 268.9C586.0 265.6 588.2 262.5 590.5 259.6C592.8 256.7 595.0 254.0 597.3 251.5C599.5 248.9 601.7 246.5 603.9 244.4C606.1 242.2 608.3 240.2 610.5 238.4C612.6 236.6 614.7 235.0 616.8 233.6C618.9 232.2 621.0 231.0 623.0 230.0C625.1 229.0 627.1 228.2 629.0 227.6C631.0 227.0 632.9 226.5 634.8 226.3C636.7 226.0 638.5 226.0 640.3 226.1C642.1 226.3 643.8 226.6 645.6 227.2C647.3 227.7 648.9 228.5 650.6 229.5C652.2 230.5 654.5 232.5 655.3 233.1 M655.3 233.1C656.0 234.0 658.5 236.5 660.0 238.5C661.5 240.5 662.9 242.7 664.3 245.2C665.7 247.7 667.0 250.4 668.2 253.3C669.5 256.3 670.6 259.5 671.7 262.9C672.7 266.3 673.7 270.0 674.5 273.8C675.4 277.7 676.2 281.7 676.9 286.0C677.6 290.2 678.2 294.7 678.7 299.3C679.2 303.9 679.6 308.7 680.0 313.7C680.3 318.7 680.6 323.9 680.7 329.2C680.9 334.6 681.0 340.1 681.0 345.7C681.0 351.4 680.9 357.2 680.7 363.2C680.5 369.1 680.2 375.2 679.8 381.4C679.5 387.7 679.0 394.0 678.5 400.5C677.9 407.0 677.3 413.6 676.6 420.2C675.9 426.9 675.1 433.7 674.2 440.6C673.3 447.5 672.3 454.5 671.3 461.5C670.2 468.5 669.1 475.6 667.9 482.8C666.6 490.0 665.3 497.2 664.0 504.5C662.6 511.7 661.2 519.0 659.6 526.4C658.1 533.7 656.5 541.1 654.8 548.4C653.2 555.8 651.4 563.2 649.6 570.5C647.8 577.9 646.0 585.3 644.0 592.6C642.1 600.0 640.1 607.3 638.0 614.6C636.0 621.9 633.9 629.1 631.7 636.3C629.5 643.5 627.3 650.7 625.1 657.7C622.8 664.8 620.5 671.8 618.1 678.7C615.7 685.7 613.3 692.5 610.9 699.2C608.4 706.0 606.0 712.6 603.4 719.2C600.9 725.7 598.4 732.1 595.8 738.4C593.2 744.7 590.6 750.9 588.0 756.9C585.3 763.0 582.7 768.9 580.0 774.6C577.3 780.3 574.6 785.9 571.9 791.4C569.2 796.8 566.5 802.1 563.8 807.1C561.1 812.2 558.4 817.2 555.7 821.9C552.9 826.6 550.2 831.2 547.5 835.5C544.8 839.8 542.1 844.0 539.4 848.0C536.7 851.9 534.0 855.7 531.3 859.2C528.7 862.7 526.0 866.0 523.4 869.2C520.8 872.3 518.2 875.1 515.6 877.8C513.0 880.5 510.5 882.9 508.0 885.1C505.4 887.3 503.0 889.3 500.5 891.0C498.1 892.8 495.7 894.3 493.4 895.5C491.0 896.8 488.7 897.8 486.4 898.6C484.2 899.4 482.0 900.0 479.8 900.3C477.7 900.6 475.6 900.6 473.5 900.5C471.5 900.3 469.5 899.9 467.6 899.2C465.7 898.6 463.8 897.7 462.1 896.5C460.3 895.4 458.5 894.0 456.9 892.4C455.3 890.8 453.7 889.0 452.2 886.9C450.7 884.8 449.3 882.5 447.9 880.0C446.6 877.4 445.3 874.7 444.1 871.7C442.9 868.7 441.8 865.5 440.8 862.1C439.7 858.7 438.8 855.0 437.9 851.2C437.1 847.4 436.3 843.3 435.6 839.1C434.9 834.9 434.3 830.4 433.8 825.8C433.3 821.2 432.8 816.4 432.5 811.4C432.2 806.4 431.9 801.2 431.7 795.9C431.6 790.5 431.5 785.0 431.5 779.4C431.5 773.7 431.6 767.9 431.8 762.0C432.0 756.0 432.3 749.9 432.7 743.7C433.0 737.5 433.5 731.1 434.0 724.6C434.6 718.2 435.2 711.6 435.9 704.9C436.6 698.2 437.5 691.4 438.3 684.5C439.2 677.7 440.2 670.7 441.3 663.7C442.3 656.6 443.4 649.5 444.7 642.4C445.9 635.2 447.2 628.0 448.5 620.7C449.9 613.4 451.4 606.1 452.9 598.8C454.4 591.5 456.0 584.1 457.7 576.8C459.3 569.4 461.1 562.0 462.9 554.6C464.7 547.3 466.6 539.9 468.5 532.6C470.4 525.2 472.4 517.9 474.5 510.6C476.5 503.3 478.6 496.1 480.8 488.9C483.0 481.7 485.2 474.5 487.5 467.5C489.7 460.4 492.0 453.4 494.4 446.4C496.8 439.5 499.2 432.7 501.6 425.9C504.1 419.2 506.6 412.5 509.1 406.0C511.6 399.5 514.1 393.1 516.7 386.8C519.3 380.5 521.9 374.3 524.5 368.3C527.2 362.2 529.8 356.3 532.5 350.6C535.2 344.8 537.9 339.2 540.6 333.8C543.3 328.4 546.0 323.1 548.7 318.0C551.4 313.0 554.1 308.0 556.8 303.3C559.6 298.6 562.3 294.0 565.0 289.7C567.7 285.3 570.4 281.2 573.1 277.2C575.8 273.3 578.5 269.5 581.2 266.0C583.8 262.5 586.5 259.1 589.1 256.0C591.7 252.9 594.3 250.0 596.9 247.4C599.5 244.7 602.0 242.3 604.5 240.1C607.0 237.9 609.5 235.9 611.9 234.1C614.4 232.4 616.8 230.9 619.1 229.6C621.4 228.4 623.8 227.3 626.0 226.5C628.3 225.7 630.5 225.2 632.6 224.8C634.8 224.5 636.8 224.4 638.9 224.5C640.9 224.7 642.9 225.0 644.8 225.7C646.7 226.3 648.6 227.1 650.4 228.3C652.2 229.4 654.8 231.7 655.6 232.4 M655.6 232.4C656.4 233.2 658.6 235.5 660.0 237.4C661.4 239.2 662.8 241.3 664.0 243.5C665.3 245.8 666.6 248.2 667.7 250.9C668.9 253.5 670.0 256.4 671.0 259.4C672.0 262.4 672.9 265.6 673.8 269.0C674.6 272.4 675.4 276.0 676.1 279.7C676.8 283.4 677.4 287.3 678.0 291.4C678.5 295.4 679.0 299.6 679.4 304.0C679.8 308.4 680.1 312.9 680.4 317.5C680.6 322.2 680.8 327.0 680.9 331.9C680.9 336.8 680.9 341.8 680.9 347.0C680.8 352.1 680.7 357.4 680.4 362.8C680.2 368.2 679.9 373.7 679.5 379.3C679.1 384.9 678.7 390.6 678.1 396.3C677.6 402.1 677.0 408.0 676.3 413.9C675.6 419.8 674.8 425.8 674.0 431.8C673.1 437.9 672.2 444.0 671.2 450.2C670.2 456.3 669.2 462.5 668.1 468.7C666.9 475.0 665.7 481.2 664.5 487.5C663.2 493.8 661.9 500.1 660.5 506.4C659.1 512.7 657.6 519.0 656.1 525.3C654.6 531.6 653.0 537.9 651.4 544.1C649.8 550.4 648.1 556.6 646.3 562.8C644.6 569.0 642.8 575.2 640.9 581.3C639.1 587.4 637.2 593.5 635.2 599.5C633.3 605.5 631.3 611.5 629.2 617.3C627.2 623.2 625.1 629.0 623.0 634.7C620.9 640.4 618.7 646.1 616.6 651.6C614.4 657.1 612.2 662.5 609.9 667.8C607.7 673.1 605.4 678.3 603.1 683.4C600.8 688.5 598.5 693.5 596.1 698.3C593.8 703.1 591.5 707.8 589.1 712.4C586.7 716.9 584.3 721.3 581.9 725.6C579.6 729.8 577.2 733.9 574.8 737.9C572.4 741.8 570.0 745.6 567.6 749.2C565.2 752.8 562.8 756.3 560.4 759.5C558.0 762.8 555.6 765.9 553.2 768.8C550.9 771.7 548.5 774.4 546.2 776.9C543.8 779.5 541.5 781.8 539.2 784.0C536.9 786.1 534.6 788.1 532.4 789.8C530.1 791.6 527.9 793.2 525.7 794.5C523.5 795.9 521.4 797.1 519.3 798.0C517.1 799.0 515.1 799.7 513.0 800.3C511.0 800.8 509.0 801.1 507.0 801.3C505.1 801.4 503.2 801.3 501.3 801.1C499.4 800.8 497.6 800.3 495.9 799.6C494.1 798.9 492.4 798.0 490.8 796.9C489.1 795.8 487.5 794.6 486.0 793.0C484.5 791.5 482.9 789.8 481.5 787.8C480.1 785.9 478.7 783.8 477.4 781.5C476.1 779.1 474.8 776.6 473.7 773.9C472.5 771.2 471.4 768.3 470.4 765.3C469.4 762.2 468.4 758.9 467.5 755.5C466.6 752.1 465.8 748.5 465.1 744.7C464.4 741.0 463.7 737.0 463.1 732.9C462.5 728.9 462.0 724.6 461.6 720.2C461.2 715.8 460.9 711.3 460.6 706.6C460.3 701.9 460.1 697.1 460.0 692.1C459.9 687.2 459.9 682.1 459.9 676.9C460.0 671.7 460.1 666.4 460.3 661.0C460.5 655.6 460.8 650.0 461.2 644.4C461.6 638.8 462.0 633.1 462.5 627.3C463.0 621.5 463.6 615.6 464.3 609.6C465.0 603.7 465.7 597.7 466.6 591.6C467.4 585.5 468.3 579.4 469.3 573.2C470.2 567.0 471.3 560.8 472.4 554.5C473.5 548.3 474.7 542.0 476.0 535.7C477.2 529.4 478.6 523.1 479.9 516.7C481.3 510.4 482.8 504.1 484.3 497.8C485.8 491.5 487.4 485.2 489.0 478.9C490.7 472.6 492.4 466.3 494.1 460.1C495.9 453.9 497.7 447.7 499.5 441.6C501.4 435.4 503.3 429.4 505.2 423.3C507.2 417.3 509.2 411.4 511.2 405.5C513.3 399.6 515.4 393.8 517.5 388.1C519.6 382.4 521.8 376.7 524.0 371.2C526.2 365.7 528.4 360.2 530.7 354.9C532.9 349.6 535.2 344.4 537.5 339.3C539.8 334.3 542.2 329.3 544.5 324.5C546.9 319.6 549.3 315.0 551.7 310.4C554.0 305.9 556.4 301.5 558.9 297.2C561.3 293.0 563.7 288.9 566.1 284.9C568.5 281.0 571.0 277.2 573.4 273.6C575.8 270.0 578.2 266.6 580.7 263.3C583.1 260.1 585.5 257.0 587.9 254.1C590.3 251.2 592.7 248.5 595.0 246.0C597.4 243.5 599.7 241.2 602.1 239.0C604.4 236.9 606.7 235.0 609.0 233.2C611.3 231.5 613.5 229.9 615.8 228.6C618.0 227.2 620.2 226.1 622.3 225.2C624.5 224.2 626.6 223.5 628.7 223.0C630.8 222.4 632.8 222.1 634.8 222.0C636.8 221.9 638.8 222.0 640.7 222.3C642.6 222.7 644.4 223.2 646.2 223.9C648.0 224.7 649.8 225.6 651.5 226.8C653.1 227.9 655.5 230.2 656.3 230.8 M656.3 230.8C657.0 231.7 659.2 234.0 660.6 235.8C661.9 237.7 663.2 239.7 664.5 241.9C665.7 244.1 666.9 246.4 668.0 249.0C669.1 251.5 670.1 254.2 671.1 257.1C672.1 259.9 673.0 263.0 673.8 266.1C674.6 269.3 675.4 272.7 676.1 276.1C676.8 279.6 677.4 283.2 677.9 287.0C678.5 290.8 679.0 294.7 679.4 298.7C679.8 302.7 680.1 306.9 680.4 311.1C680.6 315.4 680.8 319.8 680.9 324.3C681.0 328.8 681.1 333.4 681.0 338.1C681.0 342.8 680.9 347.7 680.7 352.6C680.5 357.5 680.3 362.5 679.9 367.6C679.6 372.6 679.2 377.8 678.7 383.0C678.3 388.3 677.7 393.6 677.1 398.9C676.5 404.3 675.8 409.7 675.0 415.2C674.3 420.6 673.4 426.1 672.5 431.7C671.7 437.2 670.7 442.8 669.7 448.4C668.6 454.0 667.5 459.7 666.4 465.3C665.2 470.9 664.0 476.6 662.7 482.2C661.4 487.9 660.1 493.5 658.7 499.2C657.3 504.8 655.8 510.4 654.3 516.0C652.8 521.6 651.2 527.2 649.6 532.7C648.0 538.3 646.3 543.8 644.6 549.2C642.9 554.7 641.1 560.1 639.3 565.4C637.5 570.7 635.7 576.0 633.8 581.2C631.9 586.4 629.9 591.6 628.0 596.6C626.0 601.7 624.0 606.7 622.0 611.5C619.9 616.4 617.8 621.2 615.8 625.9C613.7 630.5 611.5 635.1 609.4 639.6C607.2 644.0 605.1 648.4 602.9 652.6C600.7 656.8 598.5 661.0 596.3 664.9C594.1 668.9 591.8 672.7 589.6 676.4C587.4 680.1 585.1 683.7 582.9 687.1C580.6 690.5 578.3 693.8 576.1 696.9C573.8 700.0 571.6 703.0 569.3 705.8C567.1 708.6 564.8 711.2 562.6 713.7C560.4 716.1 558.2 718.4 556.0 720.6C553.8 722.7 551.6 724.7 549.4 726.5C547.2 728.2 545.1 729.8 543.0 731.3C540.8 732.7 538.7 734.0 536.7 735.0C534.6 736.1 532.6 737.0 530.6 737.7C528.6 738.4 526.6 738.9 524.7 739.3C522.7 739.6 520.8 739.7 519.0 739.7C517.1 739.7 515.3 739.5 513.5 739.1C511.8 738.7 510.1 738.1 508.4 737.3C506.7 736.5 505.1 735.6 503.5 734.5C502.0 733.3 500.4 732.0 499.0 730.5C497.5 729.0 496.1 727.3 494.7 725.4C493.4 723.6 492.1 721.5 490.8 719.3C489.6 717.1 488.4 714.7 487.3 712.2C486.2 709.7 485.1 706.9 484.2 704.1C483.2 701.2 482.3 698.2 481.4 695.0C480.6 691.8 479.8 688.5 479.1 685.0C478.4 681.5 477.8 677.9 477.2 674.1C476.7 670.4 476.2 666.4 475.7 662.4C475.3 658.4 475.0 654.2 474.7 649.9C474.4 645.6 474.2 641.2 474.1 636.7C474.0 632.2 474.0 627.6 474.0 622.8C474.0 618.1 474.1 613.3 474.3 608.3C474.4 603.4 474.7 598.4 475.0 593.3C475.3 588.2 475.7 583.0 476.2 577.8C476.7 572.5 477.2 567.2 477.8 561.8C478.4 556.5 479.1 551.0 479.9 545.6C480.6 540.1 481.4 534.5 482.3 529.0C483.2 523.4 484.2 517.8 485.2 512.2C486.2 506.6 487.3 500.9 488.5 495.3C489.6 489.7 490.9 484.0 492.1 478.3C493.4 472.7 494.8 467.0 496.2 461.4C497.5 455.7 499.0 450.1 500.5 444.5C502.0 438.9 503.6 433.3 505.2 427.7C506.8 422.2 508.5 416.7 510.2 411.2C512.0 405.8 513.7 400.4 515.5 395.0C517.3 389.7 519.2 384.4 521.1 379.2C523.0 374.0 524.9 368.8 526.9 363.8C528.9 358.7 530.9 353.8 532.9 348.9C535.0 344.0 537.1 339.2 539.2 334.5C541.3 329.9 543.4 325.3 545.6 320.8C547.7 316.3 549.9 312.0 552.1 307.8C554.3 303.5 556.5 299.4 558.7 295.5C560.9 291.5 563.2 287.7 565.4 284.0C567.7 280.3 569.9 276.7 572.2 273.3C574.5 269.9 576.7 266.6 579.0 263.5C581.3 260.4 583.5 257.5 585.8 254.7C588.0 251.9 590.3 249.3 592.5 246.8C594.8 244.3 597.0 242.0 599.2 239.9C601.5 237.8 603.7 235.8 605.8 234.1C608.0 232.3 610.2 230.7 612.3 229.3C614.5 227.8 616.6 226.6 618.7 225.5C620.8 224.4 622.8 223.5 624.9 222.8C626.9 222.1 628.9 221.6 630.9 221.2C632.8 220.9 634.8 220.8 636.7 220.8C638.5 220.9 640.4 221.1 642.2 221.6C644.0 222.0 645.7 222.6 647.4 223.5C649.1 224.3 650.8 225.3 652.4 226.5C654.0 227.7 656.2 230.0 657.0 230.6 M657.0 230.6C657.5 231.3 659.3 233.2 660.3 234.7C661.4 236.2 662.5 237.8 663.5 239.5C664.5 241.2 665.4 243.0 666.3 244.9C667.2 246.8 668.1 248.8 668.9 251.0C669.7 253.1 670.5 255.3 671.2 257.6C671.9 260.0 672.6 262.4 673.2 264.9C673.8 267.4 674.4 270.0 674.9 272.7C675.4 275.4 675.8 278.1 676.2 281.0C676.6 283.8 677.0 286.7 677.2 289.7C677.5 292.7 677.8 295.8 678.0 298.9C678.1 302.0 678.3 305.2 678.4 308.4C678.4 311.6 678.5 314.9 678.4 318.3C678.4 321.6 678.3 325.0 678.2 328.4C678.1 331.9 677.9 335.3 677.7 338.9C677.4 342.4 677.1 345.9 676.8 349.5C676.4 353.1 676.0 356.7 675.6 360.3C675.1 363.9 674.6 367.6 674.1 371.2C673.5 374.9 672.9 378.6 672.3 382.3C671.6 385.9 670.9 389.6 670.2 393.3C669.4 397.0 668.6 400.7 667.8 404.3C667.0 408.0 666.1 411.7 665.1 415.3C664.2 418.9 663.2 422.6 662.2 426.2C661.2 429.8 660.1 433.3 659.0 436.9C657.9 440.4 656.8 443.9 655.6 447.4C654.4 450.8 653.2 454.2 652.0 457.6C650.7 461.0 649.4 464.3 648.1 467.6C646.8 470.8 645.5 474.1 644.1 477.2C642.7 480.3 641.3 483.4 639.9 486.5C638.4 489.5 637.0 492.4 635.5 495.3C634.0 498.2 632.5 501.0 631.0 503.7C629.5 506.4 627.9 509.0 626.4 511.6C624.8 514.1 623.2 516.6 621.6 518.9C620.0 521.3 618.4 523.6 616.8 525.8C615.2 527.9 613.6 530.0 612.0 532.0C610.3 534.0 608.7 535.9 607.1 537.6C605.4 539.4 603.8 541.1 602.1 542.6C600.5 544.2 598.9 545.6 597.2 547.0C595.6 548.3 594.0 549.5 592.3 550.6C590.7 551.7 589.1 552.7 587.5 553.6C585.9 554.5 584.3 555.2 582.7 555.9C581.2 556.5 579.6 557.0 578.0 557.4C576.5 557.8 575.0 558.1 573.5 558.3C572.0 558.4 570.5 558.5 569.0 558.4C567.6 558.3 566.1 558.1 564.7 557.8C563.3 557.5 561.9 557.0 560.6 556.5C559.2 555.9 557.9 555.2 556.6 554.4C555.3 553.6 554.1 552.7 552.9 551.7C551.7 550.6 550.5 549.5 549.3 548.2C548.2 547.0 547.1 545.6 546.0 544.1C545.0 542.6 543.9 541.0 542.9 539.3C542.0 537.6 541.0 535.8 540.1 533.9C539.2 531.9 538.4 529.9 537.6 527.8C536.8 525.7 536.0 523.5 535.3 521.1C534.6 518.8 533.9 516.4 533.3 513.9C532.7 511.4 532.2 508.8 531.7 506.2C531.1 503.5 530.7 500.8 530.3 497.9C529.9 495.1 529.5 492.2 529.2 489.2C528.9 486.2 528.7 483.2 528.5 480.1C528.3 477.0 528.2 473.8 528.1 470.5C528.0 467.3 528.0 464.0 528.0 460.7C528.0 457.3 528.1 453.9 528.2 450.5C528.3 447.0 528.5 443.6 528.8 440.0C529.0 436.5 529.3 433.0 529.6 429.4C530.0 425.8 530.4 422.2 530.8 418.6C531.3 414.9 531.8 411.3 532.3 407.6C532.8 403.9 533.5 400.2 534.1 396.6C534.7 392.9 535.4 389.2 536.2 385.5C536.9 381.8 537.7 378.1 538.6 374.5C539.4 370.8 540.3 367.1 541.2 363.5C542.2 359.8 543.1 356.2 544.2 352.6C545.2 349.0 546.2 345.4 547.3 341.9C548.4 338.3 549.6 334.8 550.8 331.4C551.9 327.9 553.2 324.5 554.4 321.1C555.7 317.7 556.9 314.4 558.3 311.1C559.6 307.9 560.9 304.7 562.3 301.5C563.7 298.4 565.1 295.3 566.5 292.2C568.0 289.2 569.4 286.3 570.9 283.4C572.4 280.5 573.9 277.7 575.4 275.0C577.0 272.3 578.5 269.7 580.1 267.1C581.6 264.6 583.2 262.1 584.8 259.8C586.4 257.4 588.0 255.1 589.6 252.9C591.3 250.8 592.9 248.7 594.5 246.7C596.1 244.7 597.8 242.8 599.4 241.1C601.1 239.3 602.7 237.6 604.4 236.1C606.0 234.5 607.7 233.1 609.3 231.8C610.9 230.4 612.6 229.2 614.2 228.1C615.8 227.0 617.5 226.0 619.1 225.1C620.7 224.2 622.3 223.4 623.9 222.8C625.5 222.1 627.1 221.6 628.6 221.2C630.2 220.8 631.7 220.5 633.3 220.4C634.8 220.2 636.3 220.2 637.8 220.3C639.2 220.4 640.7 220.6 642.1 220.9C643.5 221.3 644.9 221.8 646.3 222.3C647.7 222.9 649.0 223.7 650.3 224.5C651.6 225.3 652.9 226.3 654.1 227.4C655.3 228.5 657.1 230.4 657.7 231.0 M657.7 231.0C658.2 231.7 660.0 233.8 661.1 235.4C662.1 237.0 663.2 238.7 664.2 240.5C665.2 242.3 666.1 244.3 667.0 246.3C667.9 248.3 668.7 250.5 669.5 252.7C670.3 255.0 671.1 257.4 671.7 259.8C672.4 262.3 673.0 264.8 673.6 267.5C674.2 270.1 674.7 272.8 675.2 275.7C675.6 278.5 676.0 281.4 676.4 284.4C676.7 287.3 677.0 290.4 677.2 293.5C677.4 296.6 677.6 299.8 677.7 303.1C677.8 306.3 677.9 309.6 677.9 313.0C677.9 316.3 677.9 319.8 677.8 323.2C677.7 326.7 677.5 330.2 677.3 333.8C677.1 337.4 676.8 341.0 676.5 344.6C676.1 348.2 675.7 351.9 675.3 355.6C674.9 359.3 674.4 363.1 673.8 366.8C673.3 370.6 672.6 374.3 672.0 378.1C671.3 381.9 670.6 385.7 669.9 389.5C669.1 393.3 668.3 397.1 667.4 400.9C666.6 404.6 665.7 408.4 664.7 412.2C663.7 416.0 662.7 419.7 661.7 423.5C660.6 427.2 659.5 430.9 658.4 434.6C657.3 438.3 656.1 442.0 654.9 445.6C653.6 449.2 652.4 452.8 651.1 456.3C649.8 459.8 648.4 463.3 647.1 466.8C645.7 470.2 644.3 473.6 642.8 476.9C641.4 480.3 639.9 483.5 638.4 486.7C636.9 489.9 635.4 493.1 633.9 496.1C632.3 499.2 630.7 502.2 629.1 505.1C627.5 508.0 625.9 510.8 624.3 513.6C622.6 516.3 621.0 519.0 619.3 521.6C617.6 524.1 615.9 526.6 614.2 529.0C612.5 531.4 610.8 533.6 609.1 535.8C607.4 538.0 605.6 540.1 603.9 542.1C602.2 544.0 600.5 545.9 598.7 547.6C597.0 549.4 595.2 551.1 593.5 552.6C591.8 554.1 590.1 555.5 588.3 556.8C586.6 558.1 584.9 559.3 583.2 560.4C581.5 561.5 579.8 562.4 578.1 563.2C576.4 564.1 574.8 564.8 573.1 565.3C571.5 565.9 569.9 566.4 568.3 566.7C566.7 567.1 565.1 567.3 563.5 567.4C562.0 567.4 560.4 567.4 558.9 567.2C557.4 567.1 555.9 566.8 554.5 566.4C553.0 566.0 551.6 565.5 550.2 564.8C548.9 564.1 547.5 563.4 546.2 562.5C544.9 561.6 543.6 560.6 542.4 559.4C541.2 558.3 540.0 557.0 538.8 555.7C537.7 554.3 536.6 552.8 535.5 551.2C534.4 549.6 533.4 547.9 532.5 546.1C531.5 544.3 530.6 542.3 529.7 540.3C528.8 538.3 528.0 536.1 527.2 533.9C526.4 531.6 525.7 529.3 525.0 526.9C524.4 524.4 523.8 521.9 523.2 519.3C522.6 516.7 522.1 513.9 521.7 511.2C521.2 508.4 520.8 505.5 520.5 502.5C520.1 499.6 519.8 496.5 519.6 493.4C519.4 490.3 519.2 487.1 519.1 483.9C518.9 480.7 518.9 477.4 518.9 474.0C518.9 470.6 518.9 467.2 519.0 463.7C519.1 460.3 519.3 456.7 519.5 453.2C519.7 449.6 520.0 446.0 520.3 442.4C520.7 438.7 521.1 435.1 521.5 431.4C521.9 427.7 522.4 423.9 523.0 420.2C523.5 416.4 524.1 412.7 524.8 408.9C525.5 405.1 526.2 401.3 526.9 397.5C527.7 393.7 528.5 389.9 529.4 386.1C530.2 382.3 531.1 378.6 532.1 374.8C533.0 371.0 534.1 367.3 535.1 363.5C536.2 359.8 537.3 356.1 538.4 352.4C539.5 348.7 540.7 345.0 541.9 341.4C543.2 337.8 544.4 334.2 545.7 330.7C547.0 327.1 548.4 323.6 549.7 320.2C551.1 316.8 552.5 313.4 553.9 310.0C555.4 306.7 556.9 303.4 558.3 300.2C559.8 297.0 561.4 293.9 562.9 290.8C564.5 287.8 566.1 284.8 567.7 281.9C569.3 279.0 570.9 276.1 572.5 273.4C574.2 270.7 575.8 268.0 577.5 265.4C579.2 262.9 580.9 260.4 582.6 258.0C584.3 255.6 586.0 253.3 587.7 251.2C589.4 249.0 591.1 246.9 592.9 244.9C594.6 243.0 596.3 241.1 598.1 239.3C599.8 237.6 601.5 235.9 603.3 234.4C605.0 232.9 606.7 231.4 608.5 230.1C610.2 228.8 611.9 227.7 613.6 226.6C615.3 225.5 617.0 224.6 618.7 223.7C620.4 222.9 622.0 222.2 623.7 221.6C625.3 221.0 627.0 220.5 628.6 220.1C630.2 219.8 631.8 219.6 633.4 219.5C635.0 219.4 636.5 219.5 638.0 219.6C639.6 219.8 641.1 220.1 642.5 220.5C644.0 220.9 645.4 221.5 646.8 222.2C648.2 222.9 649.5 223.7 650.9 224.6C652.2 225.5 653.5 226.6 654.7 227.8C655.9 229.0 657.7 231.0 658.3 231.7 M658.3 231.7C658.8 232.5 660.6 234.7 661.7 236.4C662.7 238.1 663.8 240.0 664.7 241.9C665.7 243.8 666.6 245.9 667.5 248.1C668.4 250.2 669.2 252.5 669.9 254.9C670.7 257.2 671.4 259.7 672.0 262.3C672.7 264.9 673.2 267.6 673.8 270.3C674.3 273.1 674.7 276.0 675.1 278.9C675.5 281.9 675.9 284.9 676.2 288.0C676.4 291.1 676.6 294.3 676.8 297.6C677.0 300.8 677.1 304.2 677.1 307.5C677.1 310.9 677.1 314.3 677.0 317.8C677.0 321.3 676.8 324.9 676.6 328.5C676.4 332.1 676.2 335.7 675.9 339.4C675.5 343.1 675.2 346.8 674.7 350.6C674.3 354.4 673.8 358.2 673.3 362.0C672.7 365.8 672.1 369.7 671.4 373.6C670.8 377.4 670.0 381.3 669.3 385.2C668.5 389.1 667.7 393.0 666.8 396.9C665.9 400.8 665.0 404.7 664.0 408.6C663.0 412.5 662.0 416.4 660.9 420.3C659.8 424.1 658.7 428.0 657.5 431.8C656.3 435.7 655.1 439.5 653.8 443.2C652.5 447.0 651.2 450.8 649.9 454.5C648.5 458.2 647.1 461.8 645.7 465.4C644.3 469.1 642.8 472.6 641.3 476.1C639.8 479.6 638.3 483.1 636.7 486.5C635.1 489.9 633.5 493.2 631.9 496.5C630.3 499.7 628.6 502.9 626.9 506.0C625.3 509.1 623.6 512.1 621.8 515.1C620.1 518.0 618.4 520.9 616.6 523.7C614.8 526.4 613.1 529.1 611.3 531.7C609.5 534.3 607.7 536.8 605.9 539.2C604.0 541.6 602.2 543.9 600.4 546.1C598.6 548.2 596.7 550.3 594.9 552.3C593.1 554.2 591.2 556.1 589.4 557.8C587.6 559.6 585.7 561.2 583.9 562.7C582.1 564.2 580.2 565.6 578.4 566.9C576.6 568.2 574.8 569.3 573.1 570.3C571.3 571.4 569.5 572.3 567.7 573.1C566.0 573.8 564.3 574.5 562.6 575.0C560.8 575.5 559.1 575.9 557.5 576.2C555.8 576.5 554.2 576.6 552.6 576.6C551.0 576.7 549.4 576.6 547.8 576.3C546.3 576.1 544.8 575.7 543.3 575.2C541.8 574.7 540.4 574.1 539.0 573.4C537.5 572.6 536.2 571.7 534.8 570.8C533.5 569.8 532.2 568.6 531.0 567.4C529.8 566.2 528.6 564.8 527.4 563.3C526.2 561.8 525.1 560.2 524.1 558.5C523.0 556.8 522.0 554.9 521.0 552.9C520.0 551.0 519.1 548.9 518.2 546.7C517.4 544.6 516.6 542.3 515.8 539.9C515.1 537.5 514.4 535.0 513.7 532.5C513.1 529.9 512.5 527.2 512.0 524.4C511.4 521.7 511.0 518.8 510.6 515.9C510.2 512.9 509.8 509.9 509.5 506.8C509.2 503.7 509.0 500.5 508.8 497.2C508.6 494.0 508.5 490.6 508.5 487.2C508.4 483.9 508.4 480.4 508.5 476.9C508.6 473.4 508.7 469.8 508.9 466.2C509.1 462.6 509.3 458.9 509.6 455.2C510.0 451.5 510.3 447.7 510.8 443.9C511.2 440.1 511.7 436.3 512.2 432.5C512.8 428.6 513.4 424.8 514.0 420.9C514.7 417.0 515.4 413.1 516.2 409.2C516.9 405.3 517.8 401.4 518.6 397.4C519.5 393.5 520.5 389.6 521.4 385.7C522.4 381.8 523.5 377.9 524.5 374.0C525.6 370.1 526.8 366.2 527.9 362.4C529.1 358.5 530.3 354.7 531.6 350.9C532.9 347.2 534.2 343.4 535.5 339.7C536.9 336.0 538.3 332.3 539.7 328.7C541.2 325.1 542.6 321.5 544.1 318.0C545.7 314.5 547.2 311.0 548.8 307.6C550.3 304.2 552.0 300.9 553.6 297.6C555.2 294.4 556.9 291.2 558.6 288.0C560.3 284.9 562.0 281.9 563.7 279.0C565.4 276.0 567.2 273.1 569.0 270.4C570.7 267.6 572.5 264.9 574.3 262.3C576.1 259.7 577.9 257.2 579.8 254.9C581.6 252.5 583.4 250.2 585.2 248.0C587.1 245.8 588.9 243.8 590.8 241.8C592.6 239.8 594.5 238.0 596.3 236.2C598.2 234.5 600.0 232.9 601.9 231.4C603.7 229.9 605.5 228.5 607.3 227.2C609.2 226.0 611.0 224.8 612.8 223.8C614.6 222.8 616.4 221.9 618.1 221.1C619.9 220.3 621.7 219.7 623.4 219.1C625.1 218.6 626.9 218.2 628.5 218.0C630.2 217.7 631.9 217.6 633.5 217.5C635.2 217.5 636.8 217.7 638.4 217.9C639.9 218.2 641.5 218.6 643.0 219.1C644.5 219.6 646.0 220.3 647.4 221.1C648.8 221.9 650.2 222.8 651.6 223.8C652.9 224.9 654.2 226.1 655.5 227.4C656.8 228.7 658.5 230.9 659.1 231.6 M659.1 231.6C659.8 232.6 661.8 235.4 663.0 237.5C664.2 239.6 665.3 241.8 666.4 244.2C667.5 246.6 668.5 249.2 669.4 251.9C670.3 254.5 671.2 257.4 672.0 260.3C672.7 263.3 673.4 266.4 674.1 269.6C674.7 272.8 675.2 276.2 675.7 279.7C676.2 283.1 676.6 286.7 676.9 290.4C677.2 294.1 677.4 297.9 677.6 301.8C677.7 305.7 677.8 309.7 677.8 313.7C677.8 317.8 677.8 322.0 677.6 326.2C677.5 330.5 677.2 334.8 676.9 339.2C676.6 343.6 676.3 348.1 675.8 352.6C675.4 357.2 674.8 361.8 674.2 366.5C673.6 371.1 673.0 375.9 672.2 380.6C671.5 385.4 670.6 390.2 669.7 395.1C668.8 399.9 667.9 404.8 666.8 409.7C665.8 414.6 664.7 419.6 663.5 424.5C662.4 429.4 661.1 434.4 659.8 439.4C658.5 444.3 657.1 449.3 655.7 454.3C654.3 459.2 652.8 464.2 651.3 469.1C649.7 474.0 648.1 479.0 646.4 483.9C644.8 488.7 643.1 493.6 641.3 498.4C639.5 503.2 637.7 508.0 635.8 512.8C634.0 517.5 632.1 522.2 630.1 526.8C628.2 531.4 626.2 536.0 624.1 540.5C622.1 545.0 620.0 549.4 617.9 553.8C615.8 558.1 613.6 562.4 611.5 566.6C609.3 570.7 607.1 574.8 604.9 578.8C602.6 582.8 600.4 586.7 598.1 590.5C595.8 594.3 593.5 598.0 591.2 601.6C588.9 605.2 586.6 608.7 584.2 612.0C581.9 615.4 579.6 618.6 577.2 621.7C574.9 624.8 572.5 627.8 570.1 630.6C567.8 633.5 565.4 636.2 563.1 638.7C560.7 641.3 558.4 643.7 556.0 646.0C553.7 648.3 551.4 650.4 549.1 652.4C546.7 654.4 544.4 656.3 542.2 658.0C539.9 659.6 537.6 661.2 535.4 662.6C533.2 663.9 530.9 665.2 528.8 666.2C526.6 667.3 524.4 668.2 522.3 669.0C520.2 669.7 518.1 670.3 516.1 670.7C514.0 671.1 512.0 671.4 510.0 671.5C508.1 671.6 506.2 671.5 504.3 671.3C502.4 671.1 500.6 670.7 498.8 670.2C497.0 669.6 495.3 668.9 493.6 668.0C492.0 667.2 490.3 666.1 488.8 664.9C487.2 663.8 485.7 662.4 484.3 660.9C482.8 659.4 481.4 657.7 480.1 655.9C478.8 654.1 477.6 652.2 476.4 650.1C475.2 648.0 474.1 645.8 473.1 643.4C472.0 641.0 471.0 638.5 470.1 635.8C469.2 633.1 468.4 630.3 467.6 627.4C466.9 624.5 466.2 621.4 465.6 618.2C465.0 615.0 464.4 611.7 464.0 608.3C463.5 604.9 463.1 601.3 462.8 597.6C462.5 594.0 462.3 590.2 462.1 586.4C461.9 582.5 461.9 578.5 461.9 574.5C461.9 570.4 461.9 566.2 462.1 562.0C462.2 557.8 462.5 553.4 462.8 549.0C463.1 544.6 463.4 540.2 463.9 535.6C464.4 531.1 464.9 526.5 465.5 521.8C466.1 517.2 466.8 512.4 467.5 507.7C468.3 502.9 469.1 498.1 470.0 493.3C470.9 488.4 471.9 483.6 472.9 478.7C473.9 473.8 475.1 468.8 476.2 463.9C477.4 458.9 478.6 454.0 479.9 449.0C481.2 444.1 482.6 439.1 484.0 434.2C485.5 429.2 487.0 424.3 488.5 419.3C490.1 414.4 491.7 409.5 493.3 404.6C495.0 399.7 496.7 394.9 498.5 390.1C500.2 385.2 502.1 380.5 503.9 375.7C505.8 371.0 507.7 366.3 509.6 361.7C511.6 357.1 513.6 352.5 515.6 348.0C517.7 343.5 519.7 339.1 521.9 334.8C524.0 330.4 526.1 326.1 528.3 322.0C530.4 317.8 532.6 313.7 534.9 309.7C537.1 305.7 539.4 301.8 541.6 298.0C543.9 294.2 546.2 290.5 548.5 286.9C550.8 283.3 553.1 279.9 555.5 276.5C557.8 273.2 560.1 269.9 562.5 266.8C564.8 263.7 567.2 260.7 569.5 257.9C571.9 255.1 574.2 252.3 576.6 249.8C578.9 247.2 581.3 244.8 583.6 242.5C585.9 240.2 588.3 238.0 590.6 236.1C592.9 234.1 595.2 232.2 597.4 230.5C599.7 228.8 602.0 227.3 604.2 225.9C606.4 224.5 608.6 223.3 610.8 222.2C613.0 221.1 615.1 220.2 617.2 219.4C619.4 218.7 621.4 218.1 623.5 217.6C625.5 217.2 627.6 216.9 629.5 216.8C631.5 216.7 633.4 216.7 635.3 217.0C637.2 217.2 639.0 217.6 640.8 218.1C642.6 218.7 644.3 219.4 646.0 220.3C647.6 221.1 649.3 222.2 650.8 223.4C652.4 224.6 653.9 226.0 655.3 227.5C656.8 229.0 658.7 231.7 659.4 232.5 M659.4 232.5C660.1 233.6 662.1 236.5 663.3 238.8C664.5 241.0 665.7 243.4 666.8 246.0C667.8 248.6 668.8 251.3 669.7 254.2C670.6 257.1 671.5 260.1 672.2 263.2C672.9 266.4 673.6 269.7 674.2 273.1C674.8 276.6 675.3 280.2 675.7 283.9C676.1 287.6 676.4 291.4 676.6 295.3C676.9 299.3 677.0 303.3 677.1 307.5C677.2 311.6 677.2 315.9 677.1 320.2C677.0 324.6 676.8 329.1 676.5 333.6C676.3 338.1 675.9 342.8 675.5 347.5C675.1 352.2 674.6 357.0 674.0 361.9C673.4 366.8 672.7 371.7 672.0 376.7C671.2 381.7 670.4 386.7 669.5 391.8C668.6 396.9 667.6 402.1 666.5 407.3C665.4 412.5 664.3 417.7 663.1 423.0C661.9 428.2 660.6 433.5 659.2 438.8C657.8 444.1 656.4 449.4 654.9 454.7C653.4 460.0 651.8 465.3 650.2 470.7C648.5 476.0 646.8 481.3 645.1 486.5C643.3 491.8 641.5 497.1 639.6 502.3C637.7 507.5 635.8 512.8 633.8 517.9C631.8 523.1 629.8 528.2 627.7 533.3C625.6 538.3 623.4 543.3 621.3 548.3C619.1 553.2 616.8 558.1 614.6 562.9C612.3 567.8 610.0 572.5 607.7 577.1C605.3 581.8 602.9 586.4 600.5 590.9C598.1 595.3 595.7 599.7 593.2 604.0C590.8 608.3 588.3 612.5 585.8 616.5C583.3 620.6 580.8 624.5 578.2 628.4C575.7 632.2 573.1 635.9 570.6 639.5C568.0 643.1 565.5 646.6 562.9 649.9C560.3 653.2 557.8 656.4 555.2 659.4C552.6 662.5 550.1 665.4 547.5 668.1C544.9 670.9 542.4 673.5 539.9 675.9C537.3 678.4 534.8 680.6 532.3 682.8C529.8 684.9 527.3 686.9 524.9 688.7C522.4 690.5 520.0 692.2 517.6 693.6C515.2 695.1 512.8 696.4 510.5 697.6C508.2 698.7 505.8 699.7 503.6 700.5C501.3 701.3 499.1 701.9 496.9 702.4C494.8 702.8 492.6 703.1 490.5 703.2C488.5 703.3 486.4 703.3 484.4 703.0C482.5 702.8 480.5 702.4 478.7 701.8C476.8 701.2 475.0 700.4 473.2 699.5C471.5 698.6 469.8 697.5 468.2 696.2C466.6 694.9 465.0 693.5 463.5 691.9C462.0 690.3 460.6 688.5 459.3 686.6C457.9 684.6 456.6 682.5 455.4 680.2C454.2 677.9 453.0 675.5 451.9 672.9C450.9 670.3 449.9 667.6 449.0 664.7C448.1 661.8 447.2 658.8 446.5 655.6C445.7 652.4 445.0 649.1 444.4 645.7C443.9 642.2 443.4 638.6 442.9 634.9C442.5 631.2 442.2 627.4 441.9 623.5C441.6 619.5 441.5 615.4 441.4 611.3C441.3 607.1 441.3 602.8 441.4 598.4C441.5 594.0 441.6 589.6 441.9 585.0C442.1 580.4 442.5 575.8 442.9 571.0C443.3 566.3 443.8 561.4 444.4 556.6C444.9 551.7 445.6 546.7 446.4 541.7C447.1 536.7 447.9 531.6 448.8 526.5C449.7 521.3 450.7 516.2 451.8 511.0C452.8 505.8 454.0 500.5 455.2 495.2C456.4 490.0 457.7 484.7 459.1 479.3C460.4 474.0 461.8 468.7 463.3 463.4C464.8 458.0 466.4 452.7 468.0 447.4C469.7 442.1 471.4 436.7 473.1 431.5C474.9 426.2 476.7 420.9 478.6 415.6C480.5 410.4 482.4 405.2 484.4 400.0C486.4 394.8 488.5 389.7 490.5 384.6C492.6 379.6 494.8 374.5 497.0 369.6C499.2 364.6 501.4 359.7 503.7 354.9C505.9 350.1 508.3 345.3 510.6 340.7C513.0 336.0 515.3 331.4 517.8 327.0C520.2 322.5 522.6 318.1 525.1 313.8C527.5 309.5 530.0 305.3 532.6 301.3C535.1 297.2 537.6 293.3 540.1 289.4C542.7 285.6 545.2 281.9 547.8 278.3C550.4 274.7 553.0 271.3 555.5 268.0C558.1 264.6 560.7 261.5 563.3 258.4C565.9 255.4 568.4 252.5 571.0 249.8C573.6 247.0 576.1 244.4 578.7 242.0C581.2 239.5 583.8 237.3 586.3 235.1C588.8 233.0 591.3 231.1 593.7 229.3C596.2 227.5 598.7 225.8 601.1 224.4C603.5 222.9 605.9 221.6 608.2 220.5C610.6 219.4 612.9 218.4 615.2 217.6C617.5 216.8 619.7 216.2 621.9 215.8C624.1 215.3 626.2 215.1 628.3 215.0C630.4 214.9 632.5 215.0 634.5 215.2C636.5 215.5 638.4 215.9 640.3 216.5C642.2 217.2 644.0 217.9 645.8 218.9C647.6 219.8 649.3 221.0 650.9 222.3C652.6 223.6 654.1 225.0 655.6 226.7C657.1 228.3 659.2 231.1 659.9 232.0 M659.9 232.0C660.6 233.1 662.5 235.9 663.6 238.1C664.8 240.2 665.9 242.5 666.9 245.0C667.9 247.4 668.9 250.0 669.8 252.7C670.7 255.4 671.5 258.2 672.2 261.2C673.0 264.1 673.6 267.2 674.2 270.4C674.8 273.7 675.3 277.0 675.7 280.4C676.2 283.9 676.5 287.4 676.8 291.1C677.1 294.8 677.3 298.5 677.4 302.4C677.5 306.2 677.6 310.2 677.6 314.3C677.5 318.3 677.4 322.4 677.2 326.7C677.0 330.9 676.8 335.2 676.4 339.5C676.1 343.9 675.7 348.3 675.2 352.8C674.7 357.3 674.1 361.9 673.5 366.5C672.8 371.1 672.1 375.8 671.3 380.5C670.5 385.2 669.7 389.9 668.7 394.7C667.8 399.5 666.8 404.3 665.7 409.1C664.6 413.9 663.5 418.8 662.3 423.6C661.1 428.5 659.8 433.4 658.4 438.2C657.1 443.1 655.7 448.0 654.2 452.8C652.7 457.7 651.2 462.5 649.6 467.4C648.0 472.2 646.4 477.0 644.7 481.8C643.0 486.5 641.2 491.3 639.4 496.0C637.6 500.7 635.7 505.4 633.8 510.0C631.9 514.6 630.0 519.1 628.0 523.6C626.0 528.1 624.0 532.6 621.9 536.9C619.8 541.3 617.7 545.6 615.6 549.8C613.4 554.0 611.2 558.2 609.0 562.2C606.8 566.2 604.6 570.2 602.3 574.1C600.1 577.9 597.8 581.7 595.5 585.4C593.2 589.0 590.9 592.6 588.5 596.0C586.2 599.5 583.8 602.8 581.5 606.0C579.1 609.2 576.7 612.3 574.4 615.3C572.0 618.2 569.6 621.1 567.2 623.8C564.9 626.5 562.5 629.0 560.1 631.5C557.8 633.9 555.4 636.2 553.0 638.4C550.7 640.5 548.3 642.5 546.0 644.4C543.7 646.2 541.4 648.0 539.1 649.5C536.8 651.1 534.5 652.5 532.3 653.8C530.1 655.0 527.8 656.1 525.7 657.1C523.5 658.0 521.3 658.8 519.2 659.5C517.1 660.1 515.0 660.6 513.0 660.9C510.9 661.2 508.9 661.4 507.0 661.4C505.0 661.4 503.1 661.2 501.2 660.9C499.3 660.6 497.5 660.1 495.8 659.5C494.0 658.8 492.3 658.0 490.6 657.1C489.0 656.1 487.4 655.0 485.8 653.8C484.3 652.5 482.8 651.1 481.4 649.5C479.9 648.0 478.6 646.3 477.3 644.4C476.0 642.5 474.7 640.5 473.5 638.3C472.4 636.1 471.3 633.8 470.2 631.3C469.2 628.9 468.2 626.3 467.3 623.5C466.4 620.8 465.6 618.0 464.8 615.0C464.1 612.0 463.4 608.9 462.8 605.6C462.2 602.4 461.7 599.0 461.2 595.6C460.8 592.1 460.4 588.5 460.1 584.8C459.8 581.2 459.6 577.4 459.5 573.5C459.3 569.6 459.3 565.6 459.3 561.5C459.3 557.5 459.4 553.3 459.6 549.1C459.8 544.8 460.0 540.5 460.4 536.1C460.7 531.7 461.1 527.3 461.6 522.8C462.1 518.2 462.6 513.7 463.3 509.0C463.9 504.4 464.6 499.7 465.4 495.0C466.2 490.3 467.0 485.5 468.0 480.7C468.9 475.9 469.9 471.1 471.0 466.2C472.0 461.4 473.2 456.5 474.4 451.7C475.6 446.8 476.9 441.9 478.2 437.0C479.6 432.1 481.0 427.2 482.5 422.4C483.9 417.5 485.5 412.6 487.0 407.8C488.6 403.0 490.3 398.1 492.0 393.4C493.7 388.6 495.4 383.8 497.2 379.1C499.1 374.4 500.9 369.7 502.8 365.1C504.7 360.5 506.7 355.9 508.7 351.4C510.7 346.9 512.7 342.5 514.8 338.1C516.9 333.7 519.0 329.4 521.1 325.2C523.3 321.0 525.5 316.8 527.7 312.8C529.9 308.7 532.1 304.8 534.4 300.9C536.7 297.0 539.0 293.3 541.3 289.6C543.6 285.9 545.9 282.4 548.3 279.0C550.6 275.5 553.0 272.2 555.3 269.0C557.7 265.8 560.1 262.7 562.5 259.7C564.9 256.8 567.3 253.9 569.6 251.2C572.0 248.5 574.4 246.0 576.8 243.5C579.2 241.1 581.6 238.8 583.9 236.7C586.3 234.5 588.6 232.5 591.0 230.7C593.3 228.8 595.6 227.1 597.9 225.6C600.2 224.0 602.5 222.6 604.8 221.4C607.0 220.1 609.3 219.0 611.5 218.1C613.7 217.2 615.9 216.4 618.0 215.7C620.1 215.1 622.3 214.6 624.4 214.3C626.4 213.9 628.5 213.8 630.5 213.8C632.5 213.8 634.5 214.1 636.4 214.4C638.3 214.8 640.2 215.4 642.0 216.2C643.8 217.0 645.5 217.9 647.2 219.0C648.9 220.1 650.5 221.4 652.0 222.8C653.5 224.2 655.0 225.7 656.4 227.4C657.8 229.1 659.7 231.9 660.4 232.8 M660.4 232.8C660.9 233.8 662.7 236.5 663.7 238.6C664.7 240.6 665.7 242.8 666.5 245.1C667.4 247.4 668.2 249.8 668.9 252.3C669.7 254.8 670.3 257.4 670.9 260.0C671.5 262.7 672.0 265.5 672.5 268.3C672.9 271.1 673.3 274.0 673.6 277.0C674.0 280.0 674.2 283.1 674.4 286.3C674.6 289.5 674.8 292.7 674.9 296.0C674.9 299.3 674.9 302.7 674.8 306.2C674.8 309.6 674.7 313.1 674.5 316.6C674.3 320.1 674.0 323.7 673.7 327.4C673.4 331.0 673.0 334.7 672.5 338.4C672.1 342.1 671.5 345.9 670.9 349.7C670.4 353.5 669.7 357.3 669.0 361.2C668.3 365.0 667.5 368.9 666.7 372.8C665.8 376.7 664.9 380.6 664.0 384.5C663.0 388.4 662.0 392.4 660.9 396.3C659.8 400.2 658.7 404.1 657.5 408.0C656.3 411.9 655.1 415.9 653.8 419.7C652.5 423.6 651.1 427.5 649.7 431.3C648.3 435.2 646.9 439.0 645.4 442.8C643.9 446.6 642.4 450.3 640.8 454.0C639.2 457.7 637.6 461.4 635.9 465.0C634.2 468.6 632.5 472.2 630.8 475.7C629.1 479.2 627.3 482.7 625.5 486.0C623.7 489.4 621.8 492.7 620.0 496.0C618.1 499.2 616.2 502.4 614.3 505.5C612.4 508.6 610.4 511.6 608.5 514.6C606.5 517.5 604.5 520.3 602.5 523.1C600.5 525.9 598.5 528.5 596.5 531.1C594.4 533.7 592.4 536.1 590.4 538.5C588.3 540.9 586.3 543.1 584.2 545.3C582.2 547.4 580.1 549.5 578.1 551.4C576.0 553.4 573.9 555.2 571.9 556.9C569.9 558.6 567.8 560.2 565.8 561.7C563.8 563.2 561.7 564.5 559.7 565.8C557.7 567.0 555.7 568.1 553.8 569.1C551.8 570.1 549.9 571.0 547.9 571.7C546.0 572.4 544.1 573.0 542.2 573.5C540.4 574.0 538.5 574.4 536.7 574.6C534.9 574.8 533.1 574.9 531.3 574.9C529.6 574.9 527.9 574.7 526.2 574.4C524.5 574.2 522.9 573.8 521.3 573.2C519.7 572.7 518.1 572.0 516.6 571.2C515.1 570.4 513.7 569.5 512.3 568.5C510.9 567.4 509.5 566.3 508.2 565.0C506.9 563.7 505.6 562.3 504.4 560.8C503.2 559.2 502.1 557.6 501.0 555.8C499.9 554.0 498.8 552.1 497.8 550.0C496.7 548.0 495.8 545.8 494.9 543.6C494.0 541.3 493.2 538.9 492.4 536.5C491.7 534.0 490.9 531.4 490.3 528.8C489.7 526.1 489.1 523.3 488.6 520.5C488.1 517.6 487.7 514.7 487.3 511.7C486.9 508.6 486.6 505.5 486.4 502.3C486.1 499.1 486.0 495.9 485.9 492.5C485.7 489.2 485.7 485.8 485.7 482.3C485.8 478.9 485.9 475.3 486.1 471.7C486.2 468.1 486.5 464.5 486.8 460.8C487.1 457.1 487.4 453.4 487.9 449.6C488.3 445.8 488.8 442.0 489.4 438.1C490.0 434.3 490.6 430.4 491.3 426.5C492.0 422.6 492.8 418.7 493.6 414.7C494.4 410.8 495.3 406.8 496.3 402.9C497.2 398.9 498.2 394.9 499.3 391.0C500.4 387.0 501.5 383.0 502.7 379.1C503.9 375.1 505.1 371.2 506.4 367.3C507.7 363.3 509.1 359.4 510.5 355.6C511.8 351.7 513.3 347.8 514.8 344.0C516.3 340.2 517.8 336.4 519.4 332.7C521.0 329.0 522.6 325.3 524.3 321.6C526.0 318.0 527.7 314.4 529.4 310.9C531.2 307.4 533.0 303.9 534.8 300.5C536.6 297.1 538.5 293.7 540.4 290.5C542.2 287.2 544.1 284.0 546.1 280.9C548.0 277.8 550.0 274.8 552.0 271.9C553.9 268.9 555.9 266.1 558.0 263.3C560.0 260.6 562.0 257.9 564.1 255.3C566.1 252.8 568.2 250.3 570.2 248.0C572.3 245.6 574.4 243.3 576.5 241.2C578.5 239.0 580.6 237.0 582.7 235.1C584.8 233.2 586.9 231.3 589.0 229.7C591.0 228.0 593.1 226.4 595.2 224.9C597.2 223.5 599.3 222.1 601.3 220.9C603.3 219.7 605.4 218.6 607.4 217.7C609.4 216.7 611.3 215.9 613.3 215.2C615.3 214.5 617.2 213.9 619.1 213.4C621.0 213.0 622.9 212.6 624.8 212.4C626.7 212.2 628.5 212.2 630.3 212.2C632.1 212.3 633.8 212.5 635.6 212.8C637.3 213.1 639.0 213.5 640.6 214.1C642.3 214.7 643.9 215.4 645.4 216.2C647.0 217.0 648.5 218.0 650.0 219.1C651.4 220.2 652.9 221.4 654.2 222.8C655.6 224.1 656.9 225.6 658.2 227.2C659.4 228.9 661.2 231.6 661.8 232.5 M661.8 232.5C662.3 233.5 664.0 236.4 665.0 238.5C666.0 240.6 667.0 242.9 667.9 245.2C668.8 247.6 669.7 250.0 670.4 252.6C671.2 255.2 671.9 257.9 672.6 260.6C673.2 263.4 673.8 266.3 674.3 269.3C674.7 272.3 675.2 275.4 675.5 278.5C675.8 281.7 676.1 284.9 676.3 288.3C676.5 291.6 676.6 295.0 676.6 298.4C676.7 301.9 676.6 305.4 676.5 309.0C676.4 312.6 676.3 316.2 676.0 319.9C675.8 323.6 675.5 327.4 675.1 331.1C674.7 334.9 674.3 338.8 673.7 342.6C673.2 346.5 672.6 350.4 672.0 354.3C671.3 358.3 670.6 362.2 669.8 366.2C669.0 370.2 668.1 374.2 667.2 378.2C666.3 382.2 665.3 386.3 664.3 390.3C663.2 394.3 662.1 398.4 660.9 402.4C659.8 406.4 658.5 410.4 657.2 414.5C655.9 418.5 654.6 422.5 653.2 426.4C651.8 430.4 650.3 434.4 648.8 438.3C647.3 442.2 645.8 446.1 644.1 449.9C642.5 453.8 640.9 457.6 639.2 461.4C637.5 465.1 635.7 468.8 633.9 472.5C632.2 476.2 630.3 479.8 628.5 483.3C626.6 486.8 624.7 490.3 622.8 493.7C620.8 497.1 618.9 500.5 616.9 503.7C614.9 507.0 612.8 510.2 610.8 513.3C608.8 516.4 606.7 519.4 604.6 522.3C602.5 525.2 600.4 528.1 598.3 530.8C596.1 533.5 594.0 536.2 591.8 538.7C589.7 541.2 587.5 543.7 585.3 546.0C583.2 548.3 581.0 550.5 578.8 552.6C576.6 554.7 574.4 556.7 572.3 558.6C570.1 560.5 567.9 562.2 565.8 563.9C563.6 565.5 561.4 567.0 559.3 568.4C557.1 569.8 555.0 571.1 552.9 572.2C550.8 573.3 548.7 574.4 546.6 575.2C544.5 576.1 542.5 576.9 540.4 577.5C538.4 578.1 536.4 578.6 534.4 579.0C532.5 579.4 530.5 579.6 528.6 579.7C526.7 579.8 524.8 579.8 523.0 579.6C521.1 579.4 519.3 579.1 517.6 578.7C515.8 578.3 514.1 577.7 512.4 577.0C510.8 576.4 509.2 575.5 507.6 574.6C506.0 573.6 504.5 572.6 503.0 571.4C501.5 570.2 500.1 568.8 498.8 567.4C497.4 565.9 496.1 564.4 494.8 562.7C493.6 561.0 492.4 559.2 491.3 557.2C490.2 555.3 489.1 553.3 488.1 551.2C487.1 549.0 486.2 546.8 485.3 544.5C484.5 542.1 483.7 539.6 482.9 537.1C482.2 534.5 481.5 531.9 481.0 529.1C480.4 526.4 479.8 523.5 479.4 520.6C478.9 517.6 478.5 514.6 478.2 511.5C477.9 508.4 477.6 505.2 477.5 501.9C477.3 498.6 477.2 495.3 477.1 491.8C477.1 488.4 477.1 484.9 477.2 481.4C477.3 477.8 477.5 474.2 477.8 470.6C478.0 466.9 478.3 463.2 478.7 459.4C479.1 455.7 479.6 451.9 480.1 448.0C480.6 444.2 481.2 440.3 481.9 436.4C482.5 432.5 483.3 428.5 484.1 424.5C484.9 420.6 485.7 416.6 486.7 412.6C487.6 408.6 488.6 404.6 489.6 400.6C490.7 396.6 491.8 392.5 493.0 388.5C494.2 384.5 495.4 380.5 496.7 376.5C498.0 372.5 499.3 368.5 500.7 364.6C502.1 360.6 503.6 356.7 505.1 352.8C506.6 348.9 508.2 345.0 509.8 341.2C511.4 337.3 513.0 333.5 514.7 329.8C516.4 326.0 518.2 322.3 520.0 318.6C521.7 315.0 523.6 311.4 525.4 307.9C527.3 304.3 529.2 300.9 531.1 297.5C533.0 294.1 535.0 290.7 537.0 287.5C539.0 284.2 541.0 281.0 543.0 277.9C545.1 274.9 547.2 271.8 549.2 268.9C551.3 266.0 553.4 263.2 555.5 260.4C557.7 257.7 559.8 255.1 561.9 252.5C564.1 250.0 566.3 247.6 568.4 245.2C570.6 242.9 572.7 240.7 574.9 238.6C577.1 236.5 579.3 234.5 581.4 232.6C583.6 230.7 585.7 228.9 587.9 227.3C590.1 225.7 592.2 224.1 594.3 222.7C596.5 221.3 598.6 220.1 600.7 218.9C602.8 217.8 604.9 216.7 607.0 215.8C609.0 214.9 611.1 214.2 613.1 213.5C615.1 212.9 617.1 212.4 619.0 212.0C621.0 211.7 622.9 211.4 624.8 211.3C626.7 211.2 628.5 211.2 630.3 211.4C632.1 211.6 633.9 211.9 635.7 212.4C637.4 212.9 639.1 213.5 640.7 214.3C642.4 215.1 644.0 216.0 645.5 217.1C647.0 218.1 648.4 219.3 649.8 220.6C651.2 221.9 652.5 223.3 653.8 224.8C655.0 226.3 656.2 227.8 657.4 229.4C658.5 231.0 660.1 233.6 660.6 234.5 M660.6 234.5C661.1 235.4 662.7 238.2 663.7 240.3C664.6 242.4 665.4 244.6 666.2 246.9C667.0 249.1 667.6 251.5 668.3 253.9C668.9 256.4 669.4 258.9 669.9 261.4C670.4 264.0 670.8 266.6 671.2 269.3C671.6 271.9 671.9 274.7 672.2 277.5C672.5 280.4 672.8 283.3 673.0 286.3C673.2 289.3 673.3 292.4 673.4 295.6C673.5 298.7 673.5 302.0 673.4 305.3C673.4 308.6 673.3 312.0 673.1 315.4C672.9 318.9 672.6 322.4 672.3 325.9C672.0 329.5 671.6 333.1 671.2 336.7C670.7 340.4 670.2 344.1 669.7 347.8C669.1 351.5 668.5 355.3 667.8 359.1C667.1 362.8 666.3 366.6 665.5 370.5C664.7 374.3 663.8 378.1 662.9 382.0C661.9 385.8 660.9 389.7 659.9 393.6C658.8 397.4 657.7 401.3 656.6 405.1C655.4 409.0 654.2 412.9 653.0 416.7C651.7 420.5 650.4 424.3 649.0 428.1C647.7 431.9 646.3 435.7 644.8 439.4C643.4 443.2 641.9 446.9 640.3 450.6C638.8 454.2 637.2 457.9 635.6 461.4C634.0 465.0 632.3 468.6 630.6 472.0C628.9 475.5 627.2 478.9 625.5 482.3C623.7 485.7 621.9 489.0 620.1 492.2C618.3 495.4 616.4 498.6 614.6 501.7C612.7 504.8 610.8 507.8 608.9 510.7C607.0 513.6 605.1 516.5 603.1 519.2C601.2 522.0 599.2 524.7 597.3 527.2C595.3 529.8 593.3 532.3 591.3 534.7C589.3 537.1 587.3 539.3 585.3 541.5C583.4 543.7 581.3 545.8 579.4 547.7C577.4 549.7 575.4 551.5 573.4 553.3C571.4 555.0 569.4 556.7 567.4 558.2C565.5 559.7 563.5 561.1 561.6 562.4C559.6 563.6 557.7 564.8 555.8 565.8C553.8 566.9 552.0 567.8 550.1 568.6C548.2 569.3 546.4 570.0 544.5 570.6C542.7 571.1 540.9 571.5 539.2 571.8C537.4 572.1 535.6 572.3 534.0 572.3C532.3 572.3 530.6 572.2 529.0 572.0C527.3 571.8 525.7 571.5 524.2 571.0C522.6 570.5 521.1 569.9 519.7 569.2C518.2 568.5 516.8 567.7 515.4 566.7C514.0 565.7 512.7 564.6 511.4 563.4C510.2 562.2 508.9 560.9 507.8 559.5C506.6 558.0 505.5 556.5 504.4 554.8C503.3 553.0 502.2 551.1 501.2 549.1C500.2 547.1 499.2 544.9 498.3 542.7C497.4 540.5 496.6 538.2 495.8 535.7C495.0 533.3 494.3 530.7 493.7 528.1C493.0 525.5 492.4 522.7 491.9 519.9C491.4 517.1 490.9 514.2 490.5 511.2C490.2 508.2 489.8 505.1 489.6 502.0C489.3 498.8 489.1 495.6 489.0 492.3C488.9 489.0 488.8 485.6 488.8 482.1C488.8 478.7 488.9 475.2 489.1 471.7C489.2 468.1 489.4 464.5 489.7 460.8C490.0 457.2 490.3 453.4 490.7 449.7C491.1 445.9 491.6 442.2 492.1 438.3C492.7 434.5 493.3 430.7 494.0 426.8C494.6 422.9 495.4 419.0 496.1 415.1C496.9 411.2 497.8 407.2 498.7 403.3C499.6 399.4 500.6 395.4 501.6 391.5C502.7 387.5 503.8 383.6 504.9 379.6C506.1 375.7 507.3 371.8 508.5 367.9C509.8 364.0 511.1 360.1 512.4 356.2C513.8 352.4 515.2 348.5 516.7 344.7C518.1 340.9 519.6 337.2 521.2 333.4C522.7 329.7 524.3 326.0 525.9 322.4C527.6 318.8 529.2 315.2 531.0 311.7C532.7 308.2 534.4 304.7 536.2 301.3C538.0 297.9 539.8 294.6 541.6 291.3C543.5 288.1 545.3 284.9 547.2 281.8C549.1 278.7 551.1 275.7 553.0 272.7C554.9 269.8 556.9 266.9 558.9 264.2C560.9 261.4 562.9 258.8 564.9 256.2C566.9 253.6 568.9 251.1 571.0 248.8C573.0 246.4 575.0 244.2 577.1 242.0C579.1 239.8 581.2 237.8 583.2 235.9C585.3 233.9 587.3 232.1 589.4 230.4C591.4 228.7 593.5 227.1 595.5 225.6C597.5 224.2 599.6 222.8 601.6 221.6C603.6 220.4 605.6 219.3 607.5 218.3C609.5 217.3 611.5 216.5 613.4 215.7C615.4 215.0 617.3 214.4 619.2 213.9C621.1 213.4 623.0 213.1 624.8 212.8C626.6 212.6 628.5 212.5 630.2 212.6C632.0 212.6 633.8 212.8 635.5 213.1C637.2 213.4 638.9 213.8 640.5 214.4C642.1 215.0 643.7 215.7 645.3 216.5C646.8 217.4 648.3 218.3 649.7 219.4C651.2 220.5 652.6 221.7 653.9 223.1C655.3 224.4 656.6 225.9 657.8 227.5C659.1 229.1 660.8 231.7 661.4 232.6 M661.4 232.6C661.9 233.6 663.6 236.4 664.6 238.5C665.6 240.6 666.6 242.8 667.5 245.1C668.3 247.4 669.2 249.8 669.9 252.3C670.7 254.9 671.4 257.5 672.0 260.2C672.6 262.9 673.2 265.7 673.6 268.6C674.1 271.5 674.5 274.5 674.9 277.6C675.2 280.7 675.5 283.8 675.7 287.1C675.9 290.3 676.0 293.6 676.1 297.0C676.2 300.4 676.2 303.8 676.1 307.3C676.0 310.8 675.9 314.4 675.7 318.0C675.5 321.6 675.2 325.3 674.8 329.0C674.5 332.7 674.1 336.5 673.6 340.3C673.1 344.1 672.6 347.9 671.9 351.8C671.3 355.6 670.6 359.5 669.9 363.5C669.2 367.4 668.3 371.3 667.5 375.3C666.6 379.2 665.7 383.2 664.7 387.2C663.7 391.1 662.6 395.1 661.5 399.1C660.4 403.0 659.2 407.0 658.0 411.0C656.7 414.9 655.4 418.9 654.1 422.8C652.7 426.7 651.3 430.6 649.9 434.5C648.5 438.4 647.0 442.2 645.4 446.0C643.9 449.8 642.3 453.6 640.6 457.3C639.0 461.1 637.3 464.8 635.6 468.4C633.9 472.0 632.1 475.6 630.3 479.1C628.5 482.6 626.7 486.1 624.8 489.5C623.0 492.8 621.1 496.2 619.1 499.4C617.2 502.7 615.2 505.8 613.3 508.9C611.3 512.0 609.3 515.0 607.2 517.9C605.2 520.8 603.2 523.7 601.1 526.4C599.1 529.1 597.0 531.8 594.9 534.3C592.8 536.8 590.7 539.3 588.6 541.6C586.5 543.9 584.4 546.2 582.3 548.3C580.1 550.4 578.0 552.4 575.9 554.3C573.8 556.2 571.7 558.0 569.6 559.6C567.5 561.3 565.4 562.9 563.3 564.3C561.2 565.7 559.1 567.0 557.1 568.2C555.0 569.3 553.0 570.4 550.9 571.3C548.9 572.2 546.9 573.0 544.9 573.7C542.9 574.4 541.0 574.9 539.1 575.3C537.1 575.7 535.2 576.0 533.4 576.2C531.5 576.3 529.7 576.4 527.9 576.3C526.1 576.1 524.3 575.9 522.6 575.5C520.9 575.2 519.2 574.7 517.6 574.1C515.9 573.4 514.3 572.7 512.8 571.8C511.2 570.9 509.7 569.9 508.3 568.8C506.9 567.6 505.5 566.4 504.1 565.0C502.8 563.6 501.5 562.1 500.3 560.5C499.0 558.9 497.9 557.1 496.7 555.3C495.6 553.4 494.6 551.5 493.6 549.4C492.6 547.3 491.6 545.1 490.7 542.8C489.9 540.5 489.1 538.1 488.3 535.6C487.6 533.1 486.9 530.5 486.3 527.8C485.6 525.1 485.1 522.2 484.6 519.4C484.1 516.5 483.7 513.5 483.4 510.4C483.0 507.4 482.7 504.2 482.5 501.0C482.3 497.8 482.2 494.5 482.1 491.1C482.1 487.7 482.0 484.3 482.1 480.8C482.2 477.3 482.3 473.7 482.5 470.1C482.7 466.5 483.0 462.8 483.4 459.1C483.7 455.4 484.1 451.6 484.6 447.9C485.1 444.1 485.6 440.2 486.2 436.3C486.8 432.5 487.5 428.6 488.3 424.7C489.0 420.7 489.8 416.8 490.7 412.8C491.6 408.9 492.5 404.9 493.5 400.9C494.5 397.0 495.6 393.0 496.7 389.0C497.8 385.0 499.0 381.0 500.2 377.1C501.4 373.1 502.7 369.2 504.1 365.2C505.4 361.3 506.8 357.4 508.3 353.5C509.7 349.7 511.2 345.8 512.8 342.0C514.3 338.2 515.9 334.4 517.5 330.7C519.2 327.0 520.9 323.3 522.6 319.6C524.3 316.0 526.1 312.4 527.9 308.9C529.7 305.4 531.5 301.9 533.4 298.5C535.2 295.2 537.1 291.8 539.1 288.6C541.0 285.4 542.9 282.2 544.9 279.1C546.9 276.0 548.9 273.0 550.9 270.1C553.0 267.2 555.0 264.3 557.1 261.6C559.1 258.9 561.2 256.2 563.3 253.7C565.4 251.2 567.5 248.7 569.6 246.4C571.7 244.1 573.8 241.8 575.9 239.7C578.1 237.6 580.2 235.6 582.3 233.7C584.4 231.8 586.5 230.0 588.6 228.4C590.7 226.7 592.9 225.2 594.9 223.7C597.0 222.3 599.1 221.0 601.2 219.9C603.2 218.7 605.3 217.6 607.3 216.7C609.3 215.8 611.3 215.0 613.3 214.3C615.3 213.7 617.3 213.1 619.2 212.7C621.1 212.3 623.1 212.0 624.9 211.8C626.8 211.7 628.6 211.6 630.5 211.8C632.3 211.9 634.1 212.2 635.8 212.7C637.6 213.1 639.3 213.8 640.9 214.6C642.6 215.4 644.2 216.4 645.7 217.4C647.2 218.5 648.6 219.8 650.0 221.1C651.4 222.4 652.7 223.9 653.9 225.4C655.2 226.9 656.3 228.5 657.4 230.2C658.6 231.8 660.1 234.4 660.7 235.3 M660.7 235.3C661.2 236.3 662.8 239.4 663.8 241.6C664.7 243.8 665.5 246.3 666.2 248.7C667.0 251.2 667.6 253.7 668.1 256.3C668.7 258.9 669.1 261.6 669.5 264.3C670.0 267.0 670.3 269.8 670.6 272.6C670.9 275.5 671.1 278.4 671.3 281.4C671.5 284.4 671.7 287.5 671.8 290.7C671.9 293.9 671.9 297.1 671.9 300.5C671.8 303.8 671.7 307.2 671.5 310.7C671.3 314.1 671.0 317.7 670.7 321.2C670.4 324.8 670.0 328.5 669.5 332.2C669.1 335.8 668.5 339.6 667.9 343.3C667.3 347.1 666.6 350.9 665.9 354.8C665.2 358.6 664.4 362.5 663.5 366.4C662.6 370.3 661.7 374.2 660.7 378.2C659.7 382.1 658.6 386.1 657.5 390.1C656.4 394.0 655.2 398.0 654.0 402.0C652.8 405.9 651.5 409.9 650.1 413.9C648.8 417.8 647.4 421.8 645.9 425.7C644.4 429.6 642.9 433.6 641.4 437.5C639.8 441.3 638.2 445.2 636.6 449.0C634.9 452.8 633.2 456.6 631.5 460.4C629.7 464.1 628.0 467.8 626.1 471.5C624.3 475.2 622.5 478.8 620.6 482.3C618.7 485.8 616.8 489.3 614.8 492.8C612.9 496.2 610.9 499.5 608.9 502.8C606.9 506.1 604.8 509.3 602.8 512.4C600.7 515.5 598.6 518.6 596.5 521.5C594.5 524.5 592.3 527.4 590.2 530.2C588.1 532.9 586.0 535.6 583.8 538.2C581.7 540.8 579.5 543.3 577.4 545.7C575.2 548.1 573.1 550.3 570.9 552.5C568.8 554.7 566.6 556.8 564.5 558.7C562.3 560.7 560.2 562.5 558.0 564.2C555.9 565.9 553.8 567.5 551.7 569.0C549.6 570.5 547.5 571.9 545.4 573.1C543.4 574.3 541.3 575.5 539.3 576.4C537.3 577.4 535.2 578.3 533.3 579.0C531.3 579.8 529.4 580.4 527.5 580.8C525.5 581.3 523.7 581.7 521.8 581.9C520.0 582.1 518.2 582.2 516.4 582.2C514.6 582.1 512.9 581.9 511.2 581.6C509.6 581.3 507.9 580.9 506.3 580.4C504.7 579.8 503.2 579.1 501.7 578.3C500.2 577.5 498.8 576.5 497.4 575.5C496.0 574.4 494.7 573.2 493.4 571.9C492.1 570.6 490.9 569.1 489.8 567.6C488.6 566.0 487.5 564.4 486.5 562.5C485.4 560.7 484.3 558.5 483.3 556.3C482.3 554.1 481.3 551.8 480.5 549.4C479.6 547.0 478.8 544.5 478.0 541.9C477.3 539.3 476.6 536.5 476.0 533.7C475.5 530.9 474.9 528.0 474.5 525.0C474.0 522.0 473.6 518.9 473.3 515.7C473.0 512.5 472.8 509.2 472.6 505.9C472.4 502.6 472.3 499.1 472.3 495.6C472.3 492.2 472.4 488.6 472.5 485.0C472.6 481.4 472.8 477.7 473.1 473.9C473.3 470.2 473.7 466.4 474.1 462.5C474.5 458.7 475.0 454.8 475.6 450.9C476.1 447.0 476.7 443.0 477.4 439.0C478.1 435.0 478.9 431.0 479.7 427.0C480.6 422.9 481.5 418.9 482.4 414.8C483.4 410.7 484.4 406.6 485.5 402.5C486.6 398.4 487.8 394.3 489.0 390.2C490.2 386.2 491.5 382.1 492.8 378.0C494.2 373.9 495.6 369.9 497.0 365.8C498.5 361.8 500.0 357.8 501.5 353.8C503.1 349.9 504.7 345.9 506.4 342.0C508.0 338.1 509.7 334.2 511.5 330.4C513.2 326.6 515.0 322.8 516.9 319.1C518.7 315.4 520.6 311.7 522.5 308.1C524.4 304.5 526.4 301.0 528.4 297.5C530.3 294.1 532.4 290.7 534.4 287.4C536.5 284.1 538.5 280.8 540.6 277.7C542.7 274.6 544.9 271.5 547.0 268.5C549.1 265.6 551.3 262.7 553.5 259.9C555.7 257.2 557.9 254.5 560.1 251.9C562.3 249.3 564.5 246.9 566.7 244.5C568.9 242.1 571.1 239.9 573.4 237.8C575.6 235.6 577.8 233.6 580.0 231.7C582.3 229.8 584.5 228.0 586.7 226.4C588.9 224.7 591.1 223.2 593.3 221.7C595.5 220.3 597.6 219.0 599.8 217.9C601.9 216.7 604.1 215.7 606.2 214.8C608.3 213.9 610.4 213.1 612.5 212.5C614.5 211.9 616.6 211.3 618.6 211.0C620.6 210.6 622.5 210.4 624.4 210.3C626.4 210.2 628.2 210.3 630.1 210.4C631.9 210.6 633.7 210.9 635.5 211.3C637.3 211.7 639.0 212.2 640.6 212.9C642.3 213.5 643.9 214.3 645.5 215.2C647.1 216.0 648.7 217.1 650.1 218.2C651.6 219.3 653.1 220.6 654.5 222.0C655.9 223.4 657.2 224.9 658.5 226.6C659.8 228.3 661.5 231.1 662.2 232.0 M662.2 232.0C662.7 233.0 664.3 235.8 665.3 237.9C666.3 239.9 667.3 242.1 668.2 244.3C669.1 246.6 670.0 248.9 670.8 251.4C671.6 253.9 672.3 256.5 673.0 259.2C673.6 261.9 674.3 264.7 674.8 267.5C675.3 270.4 675.8 273.4 676.2 276.5C676.6 279.6 677.0 282.7 677.2 286.0C677.5 289.2 677.7 292.5 677.8 295.9C677.9 299.2 678.0 302.7 678.0 306.2C677.9 309.7 677.9 313.3 677.7 316.9C677.6 320.6 677.3 324.3 677.0 328.1C676.7 331.8 676.4 335.6 675.9 339.5C675.5 343.3 675.0 347.2 674.4 351.1C673.9 355.0 673.2 358.9 672.5 362.9C671.8 366.9 671.1 370.9 670.2 374.8C669.4 378.8 668.5 382.9 667.6 386.9C666.6 390.9 665.6 394.9 664.5 398.9C663.4 403.0 662.3 407.0 661.1 411.0C659.9 415.0 658.7 419.0 657.4 423.0C656.0 426.9 654.7 430.9 653.3 434.8C651.9 438.7 650.4 442.6 648.9 446.5C647.4 450.3 645.8 454.2 644.2 457.9C642.6 461.7 641.0 465.4 639.3 469.1C637.6 472.8 635.8 476.4 634.1 480.0C632.3 483.5 630.5 487.0 628.6 490.4C626.8 493.9 624.9 497.2 623.0 500.5C621.1 503.8 619.2 507.0 617.2 510.1C615.2 513.3 613.3 516.3 611.2 519.3C609.2 522.2 607.2 525.1 605.1 527.8C603.1 530.6 601.0 533.3 599.0 535.9C596.9 538.4 594.8 540.9 592.7 543.3C590.6 545.6 588.5 547.9 586.4 550.0C584.2 552.2 582.1 554.2 580.0 556.1C577.9 558.1 575.8 559.9 573.7 561.5C571.5 563.2 569.4 564.8 567.3 566.2C565.3 567.7 563.2 569.0 561.1 570.2C559.0 571.4 557.0 572.4 554.9 573.4C552.9 574.3 550.9 575.1 548.9 575.8C546.9 576.5 544.9 577.0 542.9 577.5C541.0 577.9 539.1 578.2 537.2 578.3C535.3 578.5 533.4 578.5 531.6 578.4C529.8 578.3 528.0 578.1 526.3 577.7C524.5 577.3 522.8 576.8 521.1 576.2C519.5 575.6 517.8 574.8 516.3 573.9C514.7 573.0 513.1 572.0 511.7 570.9C510.2 569.7 508.7 568.5 507.4 567.1C506.0 565.7 504.7 564.2 503.4 562.5C502.1 560.9 500.9 559.1 499.7 557.3C498.6 555.4 497.5 553.5 496.5 551.4C495.5 549.3 494.5 547.2 493.6 544.9C492.7 542.6 491.9 540.2 491.1 537.7C490.3 535.2 489.6 532.6 489.0 529.9C488.4 527.2 487.8 524.4 487.3 521.6C486.8 518.7 486.3 515.7 485.9 512.6C485.6 509.6 485.2 506.4 485.0 503.2C484.8 500.0 484.6 496.7 484.5 493.3C484.4 490.0 484.4 486.5 484.4 483.0C484.4 479.5 484.5 476.0 484.7 472.4C484.9 468.7 485.1 465.1 485.4 461.3C485.7 457.6 486.1 453.9 486.6 450.0C487.0 446.2 487.5 442.4 488.1 438.5C488.7 434.6 489.3 430.7 490.0 426.8C490.7 422.9 491.5 418.9 492.3 414.9C493.2 411.0 494.1 407.0 495.0 403.0C496.0 399.0 497.0 395.0 498.1 391.0C499.2 387.0 500.3 383.0 501.5 379.0C502.7 375.0 503.9 371.1 505.2 367.1C506.6 363.2 507.9 359.2 509.3 355.3C510.7 351.4 512.2 347.6 513.7 343.7C515.2 339.9 516.8 336.1 518.4 332.3C520.0 328.6 521.6 324.9 523.3 321.2C525.0 317.5 526.7 313.9 528.5 310.4C530.3 306.8 532.1 303.4 533.9 299.9C535.7 296.5 537.6 293.2 539.5 289.9C541.4 286.6 543.3 283.4 545.3 280.3C547.2 277.2 549.2 274.1 551.2 271.2C553.2 268.2 555.2 265.4 557.3 262.6C559.3 259.8 561.4 257.2 563.4 254.6C565.5 252.0 567.6 249.5 569.7 247.2C571.8 244.8 573.9 242.5 575.9 240.4C578.0 238.2 580.1 236.2 582.2 234.3C584.3 232.3 586.4 230.5 588.5 228.8C590.6 227.1 592.7 225.6 594.8 224.1C596.9 222.6 598.9 221.3 601.0 220.1C603.1 218.9 605.1 217.8 607.1 216.9C609.1 215.9 611.1 215.1 613.1 214.4C615.1 213.7 617.0 213.1 619.0 212.6C620.9 212.2 622.8 211.9 624.7 211.7C626.6 211.5 628.4 211.4 630.2 211.5C632.1 211.6 633.9 211.9 635.6 212.3C637.3 212.7 639.1 213.3 640.7 214.0C642.4 214.7 644.0 215.6 645.5 216.6C647.0 217.6 648.5 218.8 649.9 220.0C651.4 221.3 652.7 222.7 654.0 224.1C655.3 225.6 656.5 227.2 657.7 228.8C658.8 230.4 660.5 233.1 661.0 233.9 M661.0 233.9C661.5 234.9 663.2 237.9 664.2 240.1C665.1 242.2 666.0 244.6 666.8 247.0C667.6 249.4 668.3 251.9 668.9 254.4C669.5 257.0 670.1 259.6 670.6 262.3C671.1 265.0 671.5 267.8 671.8 270.6C672.2 273.5 672.5 276.4 672.8 279.4C673.0 282.4 673.2 285.5 673.4 288.6C673.5 291.8 673.6 295.1 673.6 298.4C673.6 301.7 673.5 305.1 673.4 308.5C673.3 312.0 673.1 315.4 672.8 319.0C672.6 322.5 672.2 326.2 671.8 329.8C671.4 333.5 671.0 337.2 670.4 340.9C669.9 344.6 669.3 348.4 668.6 352.2C667.9 356.0 667.2 359.9 666.4 363.7C665.6 367.6 664.8 371.5 663.8 375.4C662.9 379.3 661.9 383.2 660.9 387.1C659.8 391.0 658.7 394.9 657.6 398.9C656.4 402.8 655.2 406.7 653.9 410.6C652.6 414.5 651.3 418.4 649.9 422.3C648.6 426.2 647.1 430.0 645.6 433.9C644.2 437.7 642.6 441.5 641.0 445.3C639.5 449.0 637.8 452.8 636.2 456.5C634.5 460.2 632.8 463.8 631.1 467.4C629.3 471.0 627.5 474.5 625.7 478.0C623.9 481.5 622.0 484.9 620.2 488.3C618.3 491.6 616.4 494.9 614.4 498.2C612.5 501.4 610.5 504.5 608.5 507.6C606.5 510.7 604.5 513.7 602.5 516.6C600.4 519.5 598.4 522.3 596.3 525.0C594.3 527.7 592.2 530.3 590.1 532.9C588.0 535.4 585.9 537.8 583.8 540.2C581.7 542.5 579.6 544.7 577.5 546.8C575.4 549.0 573.3 551.0 571.2 552.9C569.1 554.8 567.0 556.5 564.9 558.2C562.8 559.9 560.7 561.4 558.6 562.9C556.6 564.3 554.5 565.6 552.5 566.8C550.4 568.0 548.4 569.1 546.4 570.0C544.4 571.0 542.4 571.8 540.5 572.5C538.5 573.2 536.6 573.7 534.7 574.2C532.8 574.6 531.0 574.9 529.1 575.1C527.3 575.3 525.5 575.3 523.8 575.3C522.0 575.2 520.3 575.0 518.6 574.7C516.9 574.3 515.3 573.9 513.7 573.3C512.1 572.7 510.6 572.0 509.1 571.2C507.6 570.3 506.1 569.3 504.7 568.3C503.3 567.2 502.0 566.0 500.7 564.6C499.4 563.3 498.2 561.9 497.0 560.3C495.8 558.7 494.7 557.1 493.6 555.2C492.5 553.4 491.4 551.3 490.4 549.2C489.5 547.1 488.5 544.9 487.7 542.5C486.8 540.2 486.0 537.8 485.2 535.2C484.5 532.7 483.8 530.0 483.2 527.3C482.6 524.6 482.1 521.7 481.6 518.8C481.2 515.9 480.8 512.9 480.4 509.8C480.1 506.7 479.8 503.5 479.7 500.3C479.5 497.0 479.3 493.7 479.3 490.3C479.2 486.9 479.3 483.4 479.4 479.9C479.4 476.4 479.6 472.8 479.8 469.1C480.1 465.5 480.4 461.8 480.7 458.1C481.1 454.3 481.6 450.5 482.1 446.7C482.6 442.9 483.1 439.0 483.8 435.1C484.4 431.2 485.1 427.3 485.9 423.4C486.7 419.4 487.5 415.5 488.4 411.5C489.3 407.5 490.3 403.5 491.3 399.6C492.4 395.6 493.5 391.6 494.6 387.6C495.8 383.6 497.0 379.6 498.3 375.6C499.5 371.7 500.8 367.7 502.2 363.8C503.6 359.8 505.0 355.9 506.5 352.0C508.0 348.2 509.5 344.3 511.1 340.5C512.7 336.7 514.3 332.9 516.0 329.2C517.7 325.4 519.4 321.7 521.2 318.1C522.9 314.5 524.7 310.9 526.5 307.4C528.4 303.9 530.3 300.4 532.2 297.0C534.1 293.6 536.0 290.3 538.0 287.1C539.9 283.9 541.9 280.7 543.9 277.6C546.0 274.5 548.0 271.5 550.1 268.6C552.1 265.7 554.2 262.9 556.3 260.2C558.4 257.5 560.5 254.8 562.6 252.3C564.8 249.8 566.9 247.4 569.0 245.1C571.2 242.8 573.3 240.5 575.5 238.4C577.6 236.3 579.8 234.4 581.9 232.5C584.0 230.6 586.2 228.9 588.3 227.2C590.5 225.6 592.6 224.1 594.7 222.7C596.8 221.3 598.9 220.0 601.0 218.9C603.1 217.7 605.2 216.7 607.2 215.8C609.3 214.9 611.3 214.1 613.3 213.5C615.3 212.9 617.3 212.3 619.2 212.0C621.2 211.6 623.1 211.3 625.0 211.2C626.9 211.1 628.8 211.1 630.6 211.2C632.4 211.3 634.2 211.6 635.9 212.1C637.7 212.5 639.4 213.1 641.0 213.8C642.7 214.5 644.3 215.3 645.9 216.3C647.4 217.3 648.9 218.4 650.4 219.7C651.8 220.9 653.2 222.3 654.5 223.7C655.8 225.2 657.1 226.8 658.3 228.5C659.5 230.2 661.1 232.9 661.7 233.8 M661.7 233.8C662.3 234.9 663.9 237.9 664.9 240.2C665.9 242.4 666.8 244.8 667.7 247.3C668.5 249.7 669.3 252.3 669.9 255.0C670.6 257.7 671.2 260.4 671.8 263.3C672.3 266.1 672.8 269.1 673.2 272.1C673.6 275.1 673.9 278.3 674.1 281.5C674.4 284.7 674.6 287.9 674.7 291.3C674.8 294.7 674.9 298.1 674.8 301.7C674.8 305.2 674.7 308.8 674.5 312.4C674.3 316.0 674.1 319.7 673.7 323.5C673.4 327.3 673.0 331.1 672.6 334.9C672.1 338.8 671.5 342.7 670.9 346.6C670.3 350.6 669.6 354.6 668.9 358.6C668.1 362.6 667.3 366.6 666.4 370.7C665.5 374.8 664.6 378.8 663.5 382.9C662.5 387.0 661.4 391.2 660.3 395.3C659.1 399.4 657.9 403.5 656.6 407.6C655.3 411.7 654.0 415.8 652.6 419.9C651.2 424.0 649.7 428.1 648.2 432.2C646.7 436.2 645.1 440.3 643.5 444.3C641.9 448.3 640.2 452.3 638.5 456.2C636.8 460.1 635.0 464.0 633.2 467.9C631.4 471.7 629.5 475.5 627.6 479.3C625.7 483.0 623.8 486.7 621.8 490.3C619.9 493.9 617.8 497.5 615.8 501.0C613.8 504.5 611.7 507.9 609.6 511.2C607.5 514.6 605.4 517.8 603.2 521.0C601.1 524.2 598.9 527.3 596.7 530.3C594.5 533.3 592.3 536.2 590.1 539.0C587.8 541.8 585.6 544.5 583.4 547.1C581.1 549.7 578.9 552.2 576.6 554.6C574.3 556.9 572.1 559.2 569.8 561.4C567.6 563.5 565.3 565.6 563.0 567.5C560.8 569.4 558.5 571.2 556.3 572.9C554.1 574.6 551.8 576.2 549.6 577.6C547.4 579.1 545.2 580.4 543.0 581.5C540.9 582.7 538.7 583.8 536.6 584.7C534.4 585.6 532.3 586.4 530.3 587.1C528.2 587.7 526.1 588.2 524.1 588.6C522.1 589.0 520.1 589.3 518.2 589.4C516.2 589.5 514.3 589.5 512.5 589.3C510.6 589.2 508.8 588.9 507.0 588.5C505.2 588.1 503.5 587.5 501.8 586.8C500.1 586.2 498.5 585.3 496.9 584.4C495.3 583.4 493.8 582.4 492.3 581.1C490.9 579.9 489.5 578.6 488.1 577.1C486.8 575.7 485.5 574.1 484.2 572.4C483.0 570.7 481.8 568.8 480.7 566.9C479.6 564.9 478.5 562.8 477.5 560.6C476.5 558.3 475.6 556.0 474.8 553.5C473.9 551.1 473.1 548.5 472.4 545.9C471.7 543.2 471.0 540.5 470.5 537.6C469.9 534.8 469.4 531.8 469.0 528.7C468.5 525.7 468.2 522.6 467.9 519.3C467.6 516.1 467.4 512.8 467.3 509.4C467.1 506.0 467.1 502.5 467.1 499.0C467.1 495.5 467.2 491.9 467.4 488.2C467.5 484.5 467.8 480.8 468.1 477.0C468.4 473.2 468.8 469.4 469.2 465.5C469.7 461.6 470.2 457.6 470.8 453.7C471.4 449.7 472.1 445.7 472.9 441.6C473.6 437.6 474.4 433.5 475.3 429.4C476.2 425.3 477.1 421.2 478.2 417.1C479.2 413.0 480.3 408.8 481.4 404.7C482.6 400.6 483.8 396.4 485.1 392.3C486.3 388.1 487.7 384.0 489.1 379.9C490.5 375.8 491.9 371.7 493.4 367.6C495.0 363.5 496.5 359.4 498.1 355.4C499.8 351.4 501.4 347.4 503.2 343.4C504.9 339.5 506.7 335.6 508.5 331.7C510.3 327.9 512.1 324.0 514.0 320.3C515.9 316.5 517.9 312.8 519.9 309.2C521.8 305.6 523.9 302.0 525.9 298.5C528.0 295.0 530.0 291.6 532.1 288.2C534.3 284.9 536.4 281.6 538.5 278.5C540.7 275.3 542.9 272.2 545.1 269.2C547.3 266.2 549.5 263.3 551.8 260.5C554.0 257.7 556.2 255.0 558.5 252.4C560.8 249.8 563.0 247.3 565.3 244.9C567.6 242.5 569.8 240.3 572.1 238.1C574.4 236.0 576.7 233.9 578.9 232.0C581.2 230.1 583.5 228.3 585.7 226.6C588.0 224.9 590.2 223.4 592.5 222.0C594.7 220.6 596.9 219.3 599.1 218.1C601.3 216.9 603.5 215.9 605.6 215.0C607.8 214.1 609.9 213.3 612.0 212.7C614.1 212.0 616.1 211.5 618.2 211.2C620.2 210.8 622.2 210.6 624.2 210.5C626.2 210.4 628.1 210.4 630.0 210.6C631.9 210.8 633.7 211.1 635.5 211.5C637.3 211.9 639.0 212.4 640.7 213.1C642.4 213.8 644.1 214.6 645.7 215.5C647.3 216.4 648.9 217.5 650.4 218.7C651.9 219.9 653.4 221.2 654.8 222.7C656.2 224.2 657.5 225.8 658.8 227.5C660.1 229.3 661.9 232.3 662.5 233.2 M662.5 233.2C663.0 234.3 664.7 237.3 665.7 239.6C666.7 241.8 667.6 244.1 668.5 246.5C669.4 249.0 670.2 251.5 671.0 254.2C671.7 256.9 672.4 259.6 673.1 262.5C673.7 265.4 674.2 268.4 674.7 271.5C675.1 274.6 675.5 277.8 675.8 281.1C676.1 284.4 676.3 287.8 676.5 291.2C676.6 294.6 676.7 298.1 676.7 301.7C676.6 305.3 676.6 308.9 676.4 312.6C676.2 316.3 676.0 320.1 675.7 323.9C675.4 327.7 675.0 331.6 674.5 335.5C674.1 339.4 673.5 343.4 672.9 347.4C672.3 351.4 671.6 355.4 670.9 359.5C670.1 363.6 669.3 367.7 668.4 371.8C667.5 375.9 666.6 380.0 665.5 384.1C664.5 388.3 663.4 392.4 662.2 396.6C661.1 400.7 659.9 404.9 658.6 409.0C657.3 413.1 655.9 417.3 654.5 421.4C653.1 425.5 651.6 429.6 650.1 433.7C648.6 437.8 647.0 441.8 645.4 445.8C643.7 449.9 642.1 453.9 640.3 457.8C638.6 461.7 636.8 465.6 635.0 469.5C633.1 473.3 631.3 477.1 629.3 480.9C627.4 484.6 625.5 488.3 623.5 491.9C621.5 495.5 619.4 499.1 617.4 502.5C615.3 506.0 613.2 509.4 611.1 512.7C609.0 516.0 606.8 519.3 604.6 522.4C602.4 525.5 600.2 528.6 598.0 531.6C595.8 534.5 593.5 537.4 591.3 540.2C589.0 542.9 586.8 545.6 584.5 548.1C582.2 550.7 579.9 553.1 577.6 555.5C575.3 557.8 573.0 560.0 570.7 562.2C568.4 564.3 566.1 566.3 563.8 568.1C561.6 570.0 559.3 571.7 557.0 573.4C554.7 575.0 552.4 576.5 550.2 577.9C547.9 579.2 545.7 580.5 543.5 581.6C541.3 582.7 539.1 583.7 536.9 584.5C534.7 585.4 532.6 586.1 530.5 586.7C528.4 587.3 526.3 587.7 524.2 588.0C522.2 588.3 520.1 588.5 518.2 588.5C516.2 588.6 514.2 588.5 512.3 588.2C510.4 588.0 508.6 587.6 506.7 587.1C504.9 586.6 503.2 586.0 501.4 585.2C499.7 584.5 498.1 583.6 496.4 582.5C494.8 581.5 493.3 580.3 491.8 579.0C490.3 577.7 488.8 576.3 487.4 574.7C486.0 573.2 484.7 571.5 483.4 569.7C482.2 567.9 481.0 566.0 479.8 564.0C478.7 561.9 477.6 559.8 476.7 557.6C475.7 555.3 474.7 553.0 473.9 550.5C473.0 548.0 472.3 545.4 471.5 542.8C470.8 540.1 470.2 537.3 469.6 534.4C469.1 531.6 468.6 528.6 468.1 525.5C467.7 522.4 467.4 519.3 467.1 516.0C466.8 512.8 466.6 509.5 466.5 506.1C466.4 502.7 466.3 499.2 466.3 495.7C466.4 492.1 466.4 488.5 466.6 484.8C466.8 481.1 467.0 477.4 467.4 473.6C467.7 469.8 468.1 466.0 468.6 462.1C469.0 458.2 469.6 454.2 470.2 450.3C470.8 446.3 471.5 442.3 472.2 438.3C473.0 434.2 473.8 430.2 474.7 426.1C475.6 422.0 476.6 417.9 477.6 413.8C478.6 409.6 479.7 405.5 480.9 401.4C482.1 397.3 483.3 393.1 484.6 389.0C485.9 384.9 487.2 380.8 488.6 376.7C490.0 372.6 491.5 368.5 493.0 364.4C494.6 360.4 496.2 356.3 497.8 352.3C499.4 348.3 501.1 344.3 502.8 340.4C504.6 336.5 506.4 332.6 508.2 328.8C510.0 324.9 511.9 321.1 513.8 317.4C515.7 313.7 517.7 310.0 519.7 306.4C521.7 302.8 523.7 299.3 525.7 295.8C527.8 292.3 529.9 288.9 532.0 285.6C534.1 282.3 536.3 279.1 538.5 275.9C540.6 272.8 542.8 269.7 545.0 266.8C547.3 263.8 549.5 261.0 551.7 258.2C554.0 255.4 556.3 252.8 558.5 250.2C560.8 247.7 563.1 245.2 565.4 242.9C567.6 240.5 569.9 238.3 572.2 236.2C574.5 234.1 576.8 232.1 579.1 230.2C581.3 228.3 583.6 226.5 585.9 224.9C588.1 223.3 590.4 221.8 592.6 220.4C594.9 219.0 597.1 217.7 599.3 216.6C601.5 215.5 603.7 214.5 605.8 213.6C608.0 212.8 610.1 212.0 612.2 211.5C614.3 210.9 616.4 210.4 618.5 210.1C620.5 209.7 622.5 209.5 624.5 209.5C626.5 209.4 628.4 209.4 630.3 209.7C632.2 209.9 634.1 210.3 635.9 210.9C637.7 211.4 639.5 212.2 641.2 213.1C642.9 214.0 644.6 215.1 646.1 216.3C647.7 217.5 649.2 218.9 650.6 220.4C652.0 221.8 653.4 223.4 654.6 225.1C655.9 226.7 657.1 228.5 658.2 230.3C659.3 232.0 660.9 234.9 661.4 235.8 M661.4 235.8C662.0 236.9 663.6 240.2 664.5 242.6C665.5 245.0 666.3 247.6 667.0 250.2C667.7 252.8 668.2 255.5 668.7 258.2C669.3 261.0 669.7 263.8 670.0 266.6C670.4 269.5 670.7 272.4 670.9 275.4C671.2 278.4 671.4 281.5 671.5 284.6C671.6 287.8 671.8 291.1 671.8 294.5C671.8 297.8 671.7 301.3 671.6 304.8C671.4 308.3 671.2 311.8 670.9 315.5C670.6 319.1 670.3 322.8 669.8 326.6C669.4 330.3 668.9 334.1 668.3 338.0C667.7 341.8 667.0 345.7 666.3 349.7C665.6 353.6 664.7 357.6 663.9 361.6C663.0 365.6 662.0 369.7 661.0 373.7C660.0 377.8 658.9 381.9 657.8 386.0C656.6 390.1 655.4 394.2 654.1 398.3C652.8 402.4 651.5 406.6 650.1 410.7C648.7 414.8 647.2 418.9 645.7 423.0C644.2 427.1 642.6 431.2 640.9 435.3C639.3 439.3 637.6 443.4 635.9 447.4C634.1 451.4 632.3 455.4 630.5 459.3C628.7 463.3 626.8 467.2 624.9 471.0C622.9 474.9 621.0 478.7 618.9 482.5C616.9 486.2 614.9 489.9 612.8 493.5C610.7 497.2 608.6 500.8 606.5 504.3C604.3 507.8 602.1 511.2 599.9 514.5C597.7 517.9 595.5 521.2 593.3 524.3C591.0 527.5 588.7 530.6 586.5 533.6C584.2 536.7 581.9 539.6 579.6 542.4C577.3 545.2 575.0 547.9 572.6 550.5C570.3 553.2 568.0 555.7 565.7 558.1C563.3 560.5 561.0 562.8 558.7 565.0C556.4 567.1 554.0 569.2 551.7 571.1C549.4 573.1 547.1 574.9 544.8 576.6C542.5 578.3 540.3 579.9 538.0 581.4C535.8 582.8 533.5 584.1 531.3 585.3C529.1 586.5 526.9 587.6 524.8 588.6C522.6 589.5 520.5 590.3 518.4 591.0C516.3 591.6 514.2 592.2 512.2 592.6C510.2 593.0 508.2 593.3 506.2 593.4C504.3 593.6 502.4 593.6 500.5 593.4C498.7 593.3 496.9 593.0 495.1 592.6C493.3 592.2 491.6 591.7 490.0 591.0C488.3 590.4 486.7 589.6 485.2 588.6C483.6 587.7 482.1 586.6 480.7 585.4C479.3 584.2 477.9 582.9 476.6 581.5C475.3 580.0 474.1 578.5 472.9 576.8C471.7 575.1 470.6 573.3 469.5 571.3C468.5 569.3 467.4 567.0 466.4 564.7C465.4 562.3 464.5 559.9 463.6 557.3C462.8 554.8 462.0 552.1 461.3 549.3C460.6 546.6 460.0 543.7 459.5 540.7C458.9 537.7 458.5 534.7 458.1 531.5C457.7 528.3 457.4 525.1 457.1 521.7C456.9 518.4 456.8 515.0 456.7 511.5C456.6 508.0 456.6 504.4 456.7 500.7C456.8 497.1 456.9 493.3 457.1 489.6C457.4 485.8 457.7 481.9 458.1 478.0C458.5 474.1 458.9 470.2 459.5 466.2C460.0 462.2 460.6 458.1 461.3 454.0C462.0 450.0 462.8 445.8 463.6 441.7C464.5 437.6 465.4 433.4 466.4 429.2C467.4 425.0 468.4 420.8 469.5 416.6C470.7 412.3 471.9 408.1 473.1 403.9C474.4 399.6 475.7 395.4 477.1 391.2C478.5 386.9 480.0 382.7 481.5 378.5C483.0 374.3 484.6 370.1 486.2 366.0C487.8 361.8 489.5 357.7 491.3 353.6C493.0 349.5 494.8 345.4 496.7 341.4C498.5 337.4 500.4 333.4 502.3 329.5C504.3 325.6 506.3 321.7 508.3 317.9C510.3 314.1 512.4 310.4 514.5 306.7C516.6 303.0 518.8 299.4 520.9 295.9C523.1 292.3 525.3 288.9 527.6 285.5C529.8 282.1 532.1 278.8 534.3 275.6C536.6 272.4 538.9 269.3 541.3 266.3C543.6 263.3 545.9 260.4 548.3 257.6C550.7 254.8 553.0 252.1 555.4 249.5C557.8 246.9 560.2 244.4 562.6 242.0C564.9 239.6 567.3 237.4 569.7 235.2C572.1 233.1 574.5 231.1 576.9 229.2C579.2 227.3 581.6 225.5 584.0 223.9C586.3 222.2 588.7 220.7 591.0 219.3C593.3 217.9 595.6 216.7 597.9 215.6C600.2 214.4 602.5 213.4 604.7 212.6C606.9 211.7 609.2 211.0 611.3 210.5C613.5 209.9 615.7 209.4 617.8 209.1C619.9 208.8 621.9 208.7 623.9 208.7C625.9 208.7 627.9 208.8 629.8 209.1C631.7 209.3 633.6 209.7 635.5 210.3C637.3 210.8 639.1 211.4 640.8 212.2C642.5 213.0 644.2 214.0 645.8 215.0C647.4 216.1 649.0 217.2 650.5 218.5C652.0 219.9 653.4 221.3 654.8 222.8C656.2 224.4 657.5 226.1 658.7 227.8C660.0 229.6 661.7 232.6 662.3 233.5 M662.3 233.5C662.8 234.6 664.5 237.6 665.4 239.8C666.4 242.0 667.3 244.2 668.2 246.6C669.0 249.0 669.8 251.5 670.5 254.1C671.2 256.7 671.9 259.4 672.4 262.2C673.0 265.0 673.5 267.9 674.0 270.9C674.4 273.8 674.8 276.9 675.1 280.0C675.4 283.2 675.7 286.4 675.9 289.7C676.0 293.0 676.1 296.4 676.2 299.9C676.2 303.4 676.2 306.9 676.1 310.5C676.0 314.1 675.8 317.8 675.5 321.6C675.2 325.3 674.9 329.1 674.5 333.0C674.1 336.8 673.6 340.7 673.1 344.6C672.5 348.6 671.9 352.6 671.2 356.6C670.5 360.6 669.8 364.6 669.0 368.7C668.1 372.7 667.2 376.8 666.3 380.9C665.3 385.0 664.3 389.1 663.2 393.2C662.1 397.3 661.0 401.4 659.8 405.6C658.6 409.7 657.3 413.8 655.9 417.9C654.6 422.0 653.2 426.0 651.8 430.1C650.3 434.2 648.8 438.2 647.3 442.2C645.7 446.2 644.1 450.2 642.5 454.1C640.8 458.1 639.1 462.0 637.4 465.8C635.6 469.7 633.9 473.5 632.0 477.2C630.2 481.0 628.3 484.6 626.4 488.3C624.5 491.9 622.5 495.5 620.6 499.0C618.6 502.5 616.6 505.9 614.5 509.2C612.5 512.6 610.4 515.8 608.3 519.0C606.2 522.2 604.1 525.3 602.0 528.3C599.8 531.3 597.7 534.2 595.5 537.0C593.3 539.8 591.1 542.5 588.9 545.1C586.7 547.8 584.5 550.3 582.3 552.7C580.1 555.1 577.9 557.3 575.7 559.5C573.4 561.7 571.2 563.7 569.0 565.7C566.8 567.6 564.6 569.4 562.4 571.1C560.2 572.8 557.9 574.4 555.8 575.9C553.6 577.3 551.4 578.6 549.3 579.8C547.1 581.0 545.0 582.1 542.9 583.0C540.7 583.9 538.7 584.8 536.6 585.4C534.5 586.1 532.5 586.6 530.5 587.0C528.5 587.4 526.5 587.7 524.6 587.8C522.6 588.0 520.7 588.0 518.9 587.8C517.0 587.7 515.2 587.4 513.4 587.0C511.6 586.6 509.9 586.1 508.2 585.4C506.5 584.7 504.9 583.9 503.3 583.0C501.7 582.1 500.1 581.0 498.7 579.8C497.2 578.6 495.7 577.3 494.4 575.8C493.0 574.4 491.7 572.8 490.4 571.1C489.2 569.4 488.0 567.6 486.8 565.7C485.7 563.7 484.6 561.7 483.6 559.5C482.6 557.4 481.7 555.1 480.8 552.7C480.0 550.4 479.2 547.9 478.4 545.3C477.7 542.7 477.0 540.0 476.4 537.2C475.9 534.4 475.3 531.5 474.9 528.5C474.4 525.5 474.0 522.4 473.7 519.3C473.4 516.1 473.2 512.9 473.0 509.5C472.9 506.2 472.8 502.8 472.7 499.3C472.7 495.8 472.8 492.3 472.9 488.7C473.0 485.1 473.2 481.4 473.5 477.7C473.7 473.9 474.1 470.1 474.5 466.3C474.9 462.5 475.4 458.6 475.9 454.7C476.5 450.7 477.1 446.8 477.8 442.8C478.5 438.8 479.3 434.8 480.1 430.7C480.9 426.7 481.8 422.6 482.8 418.5C483.7 414.4 484.8 410.3 485.8 406.2C486.9 402.1 488.1 398.0 489.3 393.9C490.5 389.8 491.8 385.7 493.1 381.7C494.4 377.6 495.8 373.5 497.3 369.5C498.7 365.4 500.2 361.4 501.8 357.4C503.3 353.4 504.9 349.4 506.6 345.5C508.2 341.6 509.9 337.7 511.7 333.8C513.4 330.0 515.2 326.2 517.0 322.4C518.9 318.7 520.7 315.0 522.6 311.4C524.6 307.8 526.5 304.2 528.5 300.7C530.5 297.2 532.5 293.8 534.5 290.5C536.5 287.1 538.6 283.9 540.7 280.7C542.8 277.5 544.9 274.4 547.0 271.4C549.2 268.4 551.3 265.5 553.5 262.7C555.7 259.9 557.8 257.2 560.0 254.6C562.2 251.9 564.4 249.4 566.6 247.0C568.8 244.6 571.1 242.4 573.3 240.2C575.5 238.0 577.7 235.9 579.9 234.0C582.1 232.1 584.3 230.2 586.5 228.5C588.7 226.8 590.9 225.2 593.1 223.8C595.3 222.3 597.4 221.0 599.6 219.8C601.7 218.6 603.9 217.5 606.0 216.6C608.1 215.6 610.2 214.8 612.2 214.2C614.3 213.5 616.3 212.9 618.3 212.5C620.3 212.1 622.3 211.8 624.2 211.6C626.2 211.4 628.1 211.4 630.0 211.5C631.8 211.6 633.7 211.9 635.5 212.3C637.3 212.8 639.0 213.4 640.7 214.1C642.4 214.9 644.1 215.8 645.7 216.8C647.2 217.8 648.8 219.0 650.2 220.3C651.7 221.6 653.1 223.1 654.4 224.6C655.7 226.1 657.0 227.8 658.2 229.6C659.4 231.3 661.0 234.2 661.6 235.1 M661.6 235.1C662.1 236.2 663.8 239.4 664.8 241.8C665.7 244.1 666.6 246.6 667.4 249.2C668.2 251.8 668.9 254.5 669.5 257.3C670.1 260.0 670.6 262.9 671.1 265.9C671.5 268.8 671.9 271.8 672.2 274.9C672.5 278.1 672.8 281.3 672.9 284.6C673.1 287.8 673.2 291.2 673.2 294.7C673.2 298.1 673.2 301.7 673.0 305.3C672.9 308.9 672.7 312.6 672.4 316.3C672.1 320.0 671.7 323.7 671.3 327.6C670.8 331.4 670.3 335.3 669.7 339.2C669.2 343.1 668.5 347.1 667.7 351.1C667.0 355.1 666.2 359.1 665.3 363.2C664.4 367.3 663.5 371.4 662.4 375.5C661.4 379.6 660.3 383.8 659.1 387.9C658.0 392.1 656.7 396.3 655.4 400.4C654.1 404.6 652.8 408.8 651.4 412.9C649.9 417.1 648.4 421.3 646.9 425.4C645.4 429.5 643.7 433.7 642.1 437.8C640.4 441.9 638.7 445.9 636.9 450.0C635.2 454.0 633.3 458.0 631.5 462.0C629.6 466.0 627.7 469.9 625.7 473.8C623.8 477.7 621.8 481.5 619.7 485.3C617.7 489.0 615.6 492.8 613.5 496.4C611.4 500.0 609.2 503.6 607.0 507.1C604.8 510.6 602.6 514.1 600.4 517.4C598.2 520.8 595.9 524.0 593.6 527.2C591.3 530.4 589.0 533.5 586.7 536.5C584.4 539.5 582.0 542.4 579.7 545.2C577.3 548.0 575.0 550.7 572.6 553.3C570.2 555.9 567.9 558.4 565.5 560.8C563.1 563.1 560.7 565.4 558.4 567.5C556.0 569.7 553.6 571.7 551.3 573.6C548.9 575.5 546.6 577.3 544.2 579.0C541.9 580.6 539.6 582.2 537.3 583.6C535.0 585.0 532.7 586.3 530.4 587.4C528.2 588.6 526.0 589.6 523.8 590.5C521.6 591.4 519.4 592.1 517.2 592.7C515.1 593.3 513.0 593.8 510.9 594.2C508.9 594.5 506.8 594.7 504.8 594.8C502.9 594.9 500.9 594.8 499.0 594.6C497.1 594.4 495.3 594.1 493.5 593.6C491.7 593.1 489.9 592.5 488.2 591.8C486.5 591.0 484.9 590.2 483.3 589.1C481.7 588.1 480.2 587.0 478.7 585.7C477.3 584.5 475.9 583.1 474.5 581.5C473.2 580.0 471.9 578.3 470.7 576.6C469.5 574.8 468.4 572.9 467.3 570.9C466.2 568.8 465.1 566.6 464.2 564.2C463.2 561.9 462.3 559.5 461.5 556.9C460.7 554.4 459.9 551.7 459.2 548.9C458.6 546.2 458.0 543.3 457.5 540.3C456.9 537.4 456.5 534.3 456.1 531.2C455.8 528.0 455.5 524.8 455.3 521.4C455.1 518.1 454.9 514.7 454.9 511.2C454.8 507.7 454.8 504.1 455.0 500.5C455.1 496.8 455.2 493.1 455.5 489.3C455.8 485.6 456.1 481.7 456.5 477.8C456.9 474.0 457.4 470.0 458.0 466.0C458.6 462.0 459.2 458.0 459.9 453.9C460.7 449.9 461.5 445.8 462.3 441.6C463.2 437.5 464.1 433.3 465.2 429.2C466.2 425.0 467.3 420.8 468.4 416.6C469.6 412.4 470.8 408.1 472.1 403.9C473.4 399.7 474.7 395.5 476.1 391.3C477.6 387.1 479.1 382.9 480.6 378.7C482.1 374.5 483.7 370.3 485.4 366.2C487.1 362.0 488.8 357.9 490.5 353.8C492.3 349.8 494.1 345.7 496.0 341.7C497.9 337.7 499.8 333.8 501.8 329.8C503.7 325.9 505.7 322.1 507.8 318.3C509.8 314.5 511.9 310.8 514.1 307.1C516.2 303.4 518.4 299.8 520.6 296.3C522.8 292.8 525.0 289.4 527.2 286.0C529.5 282.6 531.8 279.4 534.1 276.2C536.4 273.0 538.7 269.9 541.1 266.9C543.4 263.9 545.8 261.0 548.1 258.2C550.5 255.4 552.9 252.7 555.3 250.1C557.7 247.5 560.1 245.0 562.5 242.7C564.9 240.3 567.3 238.1 569.7 235.9C572.1 233.8 574.5 231.8 576.8 229.9C579.2 228.0 581.6 226.3 584.0 224.6C586.3 223.0 588.7 221.5 591.0 220.1C593.3 218.7 595.7 217.5 598.0 216.4C600.2 215.3 602.5 214.3 604.7 213.4C607.0 212.6 609.2 211.9 611.4 211.3C613.5 210.7 615.7 210.3 617.8 210.0C619.9 209.7 622.0 209.5 624.0 209.4C626.1 209.4 628.1 209.5 630.0 209.7C632.0 210.0 633.9 210.4 635.7 210.9C637.6 211.4 639.4 212.1 641.2 212.9C642.9 213.8 644.6 214.7 646.3 215.8C647.9 216.9 649.5 218.2 651.0 219.5C652.5 220.9 654.0 222.4 655.3 224.1C656.7 225.7 658.0 227.5 659.3 229.4C660.5 231.4 662.2 234.5 662.8 235.6 M662.8 235.6C663.3 236.6 664.7 239.5 665.5 241.6C666.4 243.7 667.1 245.8 667.8 248.1C668.6 250.4 669.2 252.8 669.8 255.2C670.4 257.6 670.9 260.1 671.4 262.7C671.8 265.3 672.2 268.0 672.5 270.7C672.9 273.5 673.1 276.3 673.3 279.1C673.5 282.0 673.6 284.9 673.7 287.9C673.7 290.8 673.7 293.8 673.6 296.9C673.5 300.0 673.4 303.1 673.2 306.2C672.9 309.4 672.6 312.6 672.3 315.8C672.0 319.0 671.6 322.2 671.1 325.5C670.6 328.7 670.1 332.0 669.5 335.3C668.9 338.6 668.3 341.9 667.6 345.3C666.9 348.6 666.1 351.9 665.3 355.3C664.4 358.6 663.5 362.0 662.6 365.4C661.6 368.7 660.6 372.1 659.6 375.4C658.5 378.7 657.4 382.1 656.2 385.4C655.1 388.7 653.9 392.0 652.6 395.3C651.3 398.5 650.0 401.8 648.6 405.0C647.3 408.2 645.8 411.4 644.4 414.6C642.9 417.7 641.4 420.9 639.9 423.9C638.3 427.0 636.8 430.0 635.1 433.0C633.5 436.0 631.9 438.9 630.2 441.8C628.5 444.7 626.7 447.5 625.0 450.2C623.2 453.0 621.4 455.7 619.6 458.3C617.8 460.9 616.0 463.5 614.1 465.9C612.3 468.4 610.4 470.8 608.5 473.1C606.6 475.5 604.6 477.7 602.7 479.9C600.8 482.0 598.8 484.1 596.9 486.1C594.9 488.1 592.9 490.0 590.9 491.8C589.0 493.6 587.0 495.3 585.0 497.0C583.0 498.6 581.0 500.1 579.0 501.5C577.1 502.9 575.1 504.3 573.1 505.5C571.1 506.7 569.2 507.8 567.2 508.9C565.3 509.9 563.3 510.8 561.4 511.6C559.4 512.4 557.5 513.1 555.6 513.7C553.7 514.3 551.9 514.8 550.0 515.1C548.2 515.5 546.3 515.8 544.5 515.9C542.7 516.1 540.9 516.1 539.2 516.1C537.5 516.0 535.7 515.8 534.1 515.5C532.4 515.3 530.7 514.9 529.1 514.4C527.5 513.9 526.0 513.2 524.4 512.5C522.9 511.8 521.4 511.0 520.0 510.1C518.5 509.1 517.1 508.1 515.8 506.9C514.4 505.8 513.1 504.6 511.9 503.2C510.6 501.9 509.4 500.4 508.3 498.9C507.2 497.4 506.1 495.7 505.0 494.0C504.0 492.3 503.0 490.4 502.1 488.5C501.2 486.6 500.3 484.6 499.5 482.5C498.7 480.4 497.9 478.2 497.2 476.0C496.5 473.7 495.9 471.4 495.4 468.9C494.8 466.5 494.3 464.0 493.8 461.5C493.4 458.9 493.0 456.3 492.7 453.6C492.4 450.9 492.2 448.1 492.0 445.3C491.8 442.5 491.7 439.6 491.6 436.6C491.6 433.7 491.6 430.7 491.7 427.7C491.7 424.7 491.9 421.6 492.1 418.4C492.3 415.3 492.6 412.2 492.9 409.0C493.2 405.8 493.7 402.5 494.1 399.3C494.6 396.0 495.1 392.7 495.7 389.4C496.3 386.1 496.9 382.8 497.6 379.5C498.4 376.2 499.1 372.8 500.0 369.5C500.8 366.1 501.7 362.8 502.6 359.4C503.6 356.1 504.6 352.7 505.6 349.4C506.7 346.0 507.8 342.7 509.0 339.4C510.1 336.1 511.4 332.8 512.6 329.5C513.9 326.2 515.2 323.0 516.6 319.7C517.9 316.5 519.4 313.3 520.8 310.2C522.3 307.0 523.8 303.9 525.3 300.8C526.9 297.8 528.5 294.7 530.1 291.7C531.7 288.8 533.4 285.8 535.0 283.0C536.7 280.1 538.5 277.3 540.2 274.5C542.0 271.8 543.8 269.1 545.6 266.5C547.4 263.9 549.2 261.3 551.1 258.8C553.0 256.3 554.8 253.9 556.7 251.6C558.6 249.3 560.6 247.0 562.5 244.9C564.4 242.7 566.4 240.6 568.4 238.7C570.3 236.7 572.3 234.8 574.3 233.0C576.2 231.1 578.2 229.4 580.2 227.8C582.2 226.2 584.2 224.7 586.2 223.2C588.1 221.8 590.1 220.5 592.1 219.3C594.1 218.0 596.0 216.9 598.0 215.9C600.0 214.9 601.9 214.0 603.8 213.2C605.8 212.4 607.7 211.7 609.6 211.1C611.5 210.5 613.4 210.0 615.2 209.6C617.1 209.3 618.9 209.0 620.7 208.8C622.5 208.7 624.3 208.6 626.1 208.7C627.8 208.7 629.6 208.9 631.2 209.1C632.9 209.4 634.6 209.8 636.2 210.3C637.8 210.8 639.4 211.4 641.0 212.2C642.5 212.9 644.0 213.7 645.5 214.7C646.9 215.6 648.3 216.7 649.7 217.9C651.1 219.0 652.4 220.3 653.6 221.7C654.9 223.1 656.1 224.6 657.2 226.2C658.4 227.7 659.5 229.4 660.5 231.2C661.5 233.0 662.9 235.9 663.4 236.9 M663.4 236.9C663.9 237.9 665.2 241.0 666.0 243.2C666.8 245.4 667.6 247.6 668.2 250.0C668.9 252.4 669.5 254.8 670.0 257.3C670.6 259.8 671.0 262.4 671.4 265.1C671.8 267.8 672.1 270.5 672.4 273.3C672.6 276.1 672.8 279.0 672.9 281.9C673.0 284.8 673.1 287.8 673.1 290.8C673.0 293.8 672.9 296.9 672.8 300.0C672.6 303.1 672.4 306.3 672.1 309.4C671.7 312.6 671.4 315.8 670.9 319.1C670.5 322.3 670.0 325.6 669.5 328.9C668.9 332.1 668.3 335.4 667.6 338.8C666.9 342.1 666.1 345.4 665.3 348.8C664.5 352.1 663.6 355.5 662.7 358.8C661.8 362.2 660.8 365.5 659.7 368.9C658.7 372.2 657.5 375.6 656.4 378.9C655.2 382.2 654.0 385.5 652.7 388.8C651.4 392.1 650.1 395.4 648.7 398.7C647.3 401.9 645.9 405.1 644.4 408.3C642.9 411.5 641.4 414.7 639.8 417.8C638.3 420.9 636.6 424.0 635.0 427.0C633.3 430.0 631.6 433.0 629.9 435.9C628.2 438.8 626.4 441.7 624.6 444.5C622.8 447.3 621.0 450.1 619.1 452.7C617.2 455.4 615.3 458.0 613.4 460.6C611.5 463.1 609.5 465.6 607.6 468.0C605.6 470.4 603.6 472.7 601.6 475.0C599.6 477.2 597.6 479.4 595.6 481.4C593.5 483.5 591.5 485.5 589.4 487.4C587.4 489.3 585.3 491.1 583.3 492.8C581.2 494.5 579.1 496.1 577.1 497.6C575.0 499.1 572.9 500.6 570.9 501.9C568.8 503.2 566.7 504.4 564.7 505.5C562.7 506.6 560.6 507.6 558.6 508.5C556.6 509.4 554.6 510.2 552.6 510.9C550.6 511.6 548.6 512.2 546.7 512.7C544.7 513.2 542.8 513.5 540.9 513.8C539.0 514.0 537.1 514.2 535.3 514.2C533.4 514.3 531.6 514.2 529.8 514.0C528.1 513.8 526.3 513.5 524.6 513.1C522.9 512.7 521.2 512.2 519.6 511.6C518.0 511.0 516.4 510.2 514.9 509.4C513.3 508.6 511.8 507.6 510.4 506.6C508.9 505.6 507.5 504.4 506.2 503.2C504.9 501.9 503.6 500.6 502.3 499.1C501.1 497.7 499.9 496.1 498.8 494.5C497.7 492.8 496.6 491.1 495.6 489.2C494.6 487.4 493.6 485.5 492.7 483.5C491.8 481.5 491.0 479.4 490.2 477.2C489.5 475.0 488.7 472.7 488.1 470.4C487.5 468.0 486.9 465.6 486.4 463.1C485.9 460.6 485.4 458.0 485.0 455.4C484.7 452.8 484.4 450.1 484.1 447.3C483.9 444.5 483.7 441.7 483.6 438.8C483.5 435.9 483.4 433.0 483.5 430.0C483.5 427.0 483.6 424.0 483.7 420.9C483.9 417.8 484.1 414.7 484.4 411.5C484.7 408.3 485.1 405.1 485.5 401.9C485.9 398.7 486.4 395.4 487.0 392.1C487.5 388.9 488.2 385.5 488.9 382.2C489.5 378.9 490.3 375.6 491.1 372.2C491.9 368.9 492.8 365.5 493.7 362.2C494.7 358.8 495.7 355.5 496.7 352.1C497.8 348.8 498.9 345.4 500.1 342.1C501.2 338.8 502.5 335.5 503.7 332.2C505.0 328.9 506.4 325.6 507.7 322.3C509.1 319.1 510.6 315.9 512.0 312.7C513.5 309.5 515.0 306.3 516.6 303.2C518.2 300.1 519.8 297.0 521.5 294.0C523.1 291.0 524.8 288.0 526.5 285.1C528.3 282.2 530.0 279.3 531.8 276.5C533.6 273.7 535.5 270.9 537.3 268.3C539.2 265.6 541.1 262.9 543.0 260.4C544.9 257.9 546.9 255.4 548.9 253.0C550.8 250.6 552.8 248.3 554.8 246.0C556.8 243.8 558.8 241.6 560.9 239.6C562.9 237.5 564.9 235.5 567.0 233.6C569.1 231.7 571.1 229.9 573.2 228.2C575.2 226.5 577.3 224.9 579.4 223.4C581.4 221.9 583.5 220.4 585.6 219.1C587.6 217.8 589.7 216.6 591.7 215.5C593.8 214.4 595.8 213.4 597.8 212.4C599.9 211.5 601.9 210.7 603.9 210.1C605.9 209.4 607.8 208.8 609.8 208.3C611.7 207.8 613.7 207.5 615.6 207.2C617.5 207.0 619.3 206.8 621.2 206.8C623.0 206.7 624.9 206.8 626.6 206.9C628.4 207.1 630.2 207.4 631.9 207.8C633.6 208.2 635.3 208.7 637.0 209.3C638.6 209.9 640.2 210.7 641.8 211.5C643.3 212.4 644.8 213.3 646.3 214.4C647.7 215.4 649.1 216.6 650.5 217.9C651.9 219.2 653.2 220.6 654.4 222.1C655.6 223.6 656.8 225.2 658.0 226.8C659.1 228.5 660.2 230.3 661.2 232.2C662.2 234.1 663.5 237.2 664.0 238.2 M664.0 238.2C664.4 239.2 665.7 242.3 666.4 244.5C667.1 246.7 667.8 249.0 668.4 251.4C669.0 253.8 669.6 256.2 670.0 258.7C670.5 261.2 670.9 263.8 671.2 266.4C671.6 269.1 671.8 271.8 672.0 274.5C672.2 277.3 672.3 280.1 672.4 283.0C672.5 285.8 672.4 288.7 672.4 291.7C672.3 294.6 672.1 297.6 671.9 300.7C671.7 303.7 671.4 306.8 671.0 309.8C670.7 312.9 670.2 316.1 669.7 319.2C669.3 322.3 668.7 325.5 668.1 328.6C667.5 331.8 666.8 335.0 666.1 338.2C665.4 341.3 664.6 344.5 663.7 347.7C662.8 350.9 661.9 354.1 660.9 357.3C660.0 360.5 658.9 363.7 657.8 366.9C656.7 370.1 655.6 373.3 654.4 376.4C653.2 379.6 651.9 382.7 650.6 385.8C649.3 389.0 647.9 392.1 646.5 395.1C645.1 398.2 643.7 401.2 642.2 404.2C640.7 407.2 639.1 410.1 637.5 413.0C635.9 416.0 634.3 418.8 632.6 421.6C631.0 424.5 629.2 427.2 627.5 429.9C625.8 432.6 624.0 435.3 622.2 437.9C620.4 440.5 618.5 443.0 616.6 445.5C614.8 447.9 612.9 450.3 611.0 452.7C609.0 455.0 607.1 457.3 605.1 459.4C603.2 461.6 601.2 463.7 599.2 465.7C597.2 467.7 595.2 469.7 593.2 471.5C591.2 473.4 589.1 475.2 587.1 476.8C585.0 478.5 583.0 480.1 581.0 481.6C578.9 483.1 576.9 484.5 574.8 485.8C572.8 487.1 570.7 488.3 568.7 489.4C566.7 490.5 564.6 491.6 562.6 492.5C560.6 493.4 558.6 494.2 556.6 494.9C554.6 495.6 552.7 496.2 550.7 496.7C548.8 497.2 546.8 497.6 544.9 497.9C543.0 498.2 541.1 498.4 539.3 498.5C537.4 498.6 535.6 498.6 533.8 498.5C532.0 498.3 530.2 498.1 528.5 497.8C526.8 497.5 525.1 497.0 523.4 496.5C521.8 496.0 520.1 495.3 518.6 494.6C517.0 493.8 515.5 493.0 514.0 492.0C512.5 491.1 511.1 490.0 509.7 488.9C508.3 487.8 507.0 486.5 505.7 485.2C504.4 483.9 503.2 482.4 502.0 480.9C500.8 479.4 499.7 477.8 498.6 476.1C497.5 474.3 496.5 472.6 495.6 470.7C494.6 468.8 493.7 466.8 492.9 464.8C492.1 462.8 491.3 460.7 490.6 458.5C489.9 456.3 489.3 454.0 488.7 451.7C488.1 449.4 487.6 447.0 487.2 444.5C486.7 442.0 486.4 439.5 486.0 436.9C485.7 434.3 485.5 431.6 485.3 428.9C485.1 426.2 485.0 423.4 485.0 420.6C484.9 417.8 484.9 414.9 485.0 412.0C485.1 409.1 485.3 406.2 485.5 403.2C485.7 400.2 486.0 397.2 486.3 394.1C486.7 391.1 487.1 388.0 487.6 384.9C488.1 381.8 488.6 378.6 489.2 375.5C489.8 372.3 490.5 369.2 491.3 366.0C492.0 362.8 492.8 359.6 493.7 356.4C494.5 353.3 495.4 350.1 496.4 346.9C497.4 343.7 498.4 340.5 499.5 337.3C500.6 334.2 501.8 331.0 503.0 327.8C504.2 324.7 505.4 321.6 506.7 318.5C508.1 315.4 509.4 312.3 510.8 309.2C512.2 306.2 513.7 303.2 515.2 300.2C516.7 297.2 518.2 294.2 519.8 291.3C521.4 288.4 523.1 285.6 524.7 282.8C526.4 280.0 528.1 277.2 529.8 274.5C531.6 271.8 533.4 269.1 535.2 266.6C537.0 264.0 538.8 261.4 540.7 259.0C542.6 256.5 544.5 254.1 546.4 251.8C548.3 249.5 550.2 247.2 552.2 245.1C554.1 242.9 556.1 240.8 558.1 238.8C560.1 236.7 562.1 234.8 564.1 233.0C566.1 231.1 568.2 229.3 570.2 227.7C572.2 226.0 574.3 224.4 576.3 222.9C578.3 221.4 580.4 220.0 582.4 218.7C584.5 217.4 586.5 216.1 588.5 215.0C590.6 213.9 592.6 212.9 594.6 212.0C596.6 211.1 598.6 210.2 600.6 209.5C602.6 208.8 604.5 208.2 606.5 207.7C608.4 207.2 610.4 206.7 612.3 206.4C614.2 206.1 616.0 205.9 617.9 205.8C619.7 205.7 621.6 205.8 623.3 205.9C625.1 206.0 626.9 206.2 628.7 206.5C630.4 206.8 632.1 207.2 633.8 207.7C635.4 208.2 637.1 208.9 638.6 209.6C640.2 210.3 641.7 211.2 643.2 212.1C644.7 213.1 646.2 214.1 647.6 215.3C649.0 216.4 650.3 217.7 651.6 219.0C652.9 220.4 654.1 221.8 655.3 223.4C656.5 224.9 657.6 226.6 658.7 228.3C659.7 230.1 660.7 231.9 661.7 233.8C662.6 235.7 663.8 238.8 664.3 239.8 M664.3 239.8C664.7 240.9 665.8 244.0 666.5 246.3C667.2 248.5 667.8 250.8 668.3 253.2C668.9 255.6 669.3 258.0 669.8 260.5C670.2 263.0 670.5 265.6 670.8 268.2C671.0 270.8 671.2 273.5 671.4 276.3C671.5 279.0 671.5 281.8 671.5 284.6C671.5 287.4 671.4 290.3 671.3 293.2C671.1 296.1 670.9 299.0 670.6 302.0C670.3 305.0 670.0 308.0 669.5 311.0C669.1 314.0 668.6 317.1 668.1 320.1C667.5 323.2 666.9 326.2 666.2 329.3C665.6 332.4 664.8 335.5 664.0 338.6C663.2 341.6 662.4 344.7 661.4 347.8C660.5 350.9 659.5 354.0 658.5 357.1C657.5 360.2 656.4 363.3 655.2 366.3C654.1 369.4 652.9 372.4 651.6 375.4C650.3 378.5 649.0 381.5 647.7 384.4C646.3 387.4 644.9 390.4 643.4 393.3C642.0 396.2 640.5 399.1 638.9 401.9C637.4 404.7 635.8 407.5 634.1 410.3C632.5 413.0 630.8 415.8 629.1 418.4C627.4 421.1 625.6 423.7 623.8 426.2C622.1 428.7 620.2 431.2 618.4 433.7C616.6 436.1 614.7 438.4 612.8 440.7C610.9 443.0 608.9 445.3 607.0 447.4C605.1 449.6 603.1 451.6 601.1 453.6C599.1 455.6 597.1 457.6 595.1 459.4C593.1 461.2 591.1 463.0 589.0 464.7C587.0 466.4 584.9 468.0 582.9 469.5C580.8 471.0 578.8 472.4 576.7 473.7C574.7 475.0 572.6 476.3 570.6 477.4C568.6 478.5 566.5 479.6 564.5 480.5C562.4 481.5 560.4 482.3 558.4 483.1C556.4 483.8 554.4 484.5 552.4 485.0C550.5 485.6 548.5 486.0 546.6 486.4C544.6 486.8 542.7 487.0 540.8 487.2C538.9 487.3 537.1 487.4 535.2 487.3C533.4 487.3 531.6 487.1 529.8 486.9C528.1 486.6 526.3 486.3 524.6 485.8C522.9 485.4 521.3 484.8 519.6 484.2C518.0 483.5 516.4 482.7 514.9 481.9C513.4 481.1 511.9 480.1 510.5 479.1C509.0 478.0 507.6 476.9 506.3 475.7C504.9 474.4 503.7 473.1 502.4 471.7C501.2 470.3 500.0 468.8 498.9 467.2C497.7 465.6 496.7 463.9 495.7 462.2C494.6 460.4 493.7 458.6 492.8 456.6C491.9 454.7 491.1 452.7 490.3 450.6C489.5 448.6 488.8 446.4 488.2 444.2C487.5 442.0 486.9 439.7 486.4 437.3C485.9 435.0 485.5 432.5 485.1 430.1C484.7 427.6 484.4 425.0 484.1 422.4C483.9 419.8 483.7 417.2 483.6 414.5C483.4 411.8 483.4 409.0 483.4 406.2C483.4 403.4 483.5 400.6 483.6 397.7C483.8 394.8 484.0 391.9 484.3 389.0C484.6 386.0 484.9 383.1 485.3 380.1C485.7 377.1 486.2 374.0 486.8 371.0C487.3 368.0 487.9 364.9 488.6 361.8C489.3 358.7 490.0 355.7 490.8 352.6C491.6 349.5 492.5 346.4 493.4 343.3C494.3 340.2 495.3 337.1 496.3 334.0C497.4 331.0 498.5 327.9 499.6 324.8C500.8 321.8 502.0 318.7 503.2 315.7C504.5 312.7 505.8 309.7 507.2 306.7C508.5 303.7 509.9 300.8 511.4 297.9C512.9 294.9 514.4 292.1 515.9 289.2C517.5 286.4 519.1 283.6 520.7 280.8C522.3 278.1 524.0 275.4 525.7 272.7C527.5 270.1 529.2 267.5 531.0 264.9C532.8 262.4 534.6 259.9 536.4 257.5C538.3 255.1 540.2 252.7 542.1 250.4C544.0 248.1 545.9 245.9 547.8 243.7C549.8 241.6 551.7 239.5 553.7 237.5C555.7 235.5 557.7 233.6 559.7 231.7C561.7 229.9 563.8 228.1 565.8 226.4C567.8 224.8 569.9 223.2 571.9 221.7C574.0 220.2 576.0 218.8 578.1 217.4C580.1 216.1 582.2 214.9 584.2 213.7C586.3 212.6 588.3 211.6 590.4 210.6C592.4 209.7 594.4 208.8 596.4 208.1C598.4 207.3 600.4 206.6 602.4 206.1C604.4 205.5 606.3 205.1 608.3 204.7C610.2 204.4 612.1 204.1 614.0 204.0C615.9 203.8 617.8 203.8 619.6 203.8C621.4 203.9 623.2 204.0 625.0 204.3C626.8 204.5 628.5 204.8 630.3 205.3C632.0 205.7 633.6 206.3 635.3 206.9C636.9 207.6 638.5 208.3 640.1 209.2C641.6 210.0 643.1 211.0 644.6 212.0C646.0 213.1 647.4 214.2 648.8 215.5C650.1 216.8 651.4 218.1 652.7 219.5C653.9 221.0 655.1 222.5 656.2 224.2C657.4 225.8 658.5 227.5 659.5 229.3C660.5 231.1 661.4 233.0 662.3 235.0C663.2 237.0 664.4 240.1 664.8 241.2 M664.8 241.2C665.1 242.3 666.3 245.6 666.9 247.9C667.5 250.2 668.1 252.6 668.6 255.1C669.1 257.6 669.5 260.1 669.8 262.7C670.2 265.3 670.5 267.9 670.7 270.6C670.9 273.4 671.0 276.1 671.0 278.9C671.1 281.7 671.1 284.6 671.0 287.5C670.9 290.4 670.7 293.3 670.5 296.2C670.3 299.2 669.9 302.2 669.6 305.2C669.2 308.2 668.7 311.3 668.2 314.4C667.7 317.4 667.1 320.5 666.4 323.6C665.8 326.7 665.1 329.8 664.3 332.9C663.5 336.0 662.7 339.1 661.8 342.2C660.9 345.3 659.9 348.4 658.8 351.5C657.8 354.6 656.7 357.7 655.6 360.8C654.4 363.9 653.2 367.0 651.9 370.0C650.6 373.1 649.3 376.1 647.9 379.1C646.6 382.1 645.1 385.1 643.6 388.1C642.1 391.0 640.6 394.0 639.0 396.8C637.4 399.7 635.8 402.6 634.1 405.4C632.4 408.2 630.7 410.9 629.0 413.7C627.2 416.4 625.4 419.0 623.6 421.6C621.7 424.2 619.8 426.8 617.9 429.3C616.0 431.8 614.1 434.2 612.1 436.6C610.1 438.9 608.1 441.2 606.1 443.4C604.1 445.7 602.1 447.8 600.0 449.9C597.9 452.0 595.8 454.0 593.7 455.9C591.6 457.8 589.5 459.6 587.4 461.4C585.3 463.2 583.1 464.8 581.0 466.4C578.8 468.0 576.7 469.5 574.5 470.9C572.4 472.3 570.2 473.6 568.1 474.8C565.9 476.1 563.8 477.2 561.7 478.2C559.5 479.3 557.4 480.2 555.3 481.0C553.1 481.9 551.0 482.6 548.9 483.3C546.9 483.9 544.8 484.4 542.7 484.9C540.7 485.3 538.6 485.7 536.6 485.9C534.6 486.1 532.7 486.3 530.7 486.3C528.8 486.3 526.8 486.3 524.9 486.1C523.1 485.9 521.2 485.7 519.4 485.3C517.6 484.9 515.8 484.4 514.1 483.9C512.3 483.3 510.6 482.6 509.0 481.9C507.3 481.1 505.7 480.2 504.2 479.2C502.6 478.3 501.1 477.2 499.7 476.1C498.2 474.9 496.8 473.6 495.5 472.3C494.1 471.0 492.8 469.5 491.6 468.0C490.3 466.5 489.2 464.9 488.1 463.2C486.9 461.5 485.9 459.7 484.9 457.8C483.9 455.9 483.0 454.0 482.1 452.0C481.2 450.0 480.4 447.8 479.7 445.7C479.0 443.5 478.3 441.3 477.7 439.0C477.1 436.7 476.6 434.3 476.1 431.9C475.7 429.5 475.3 427.0 474.9 424.5C474.6 421.9 474.4 419.3 474.2 416.7C474.0 414.0 473.9 411.3 473.8 408.6C473.8 405.8 473.8 403.0 473.9 400.2C474.0 397.3 474.2 394.4 474.4 391.5C474.7 388.6 475.0 385.7 475.4 382.7C475.7 379.7 476.2 376.7 476.7 373.7C477.2 370.7 477.8 367.6 478.4 364.6C479.1 361.5 479.8 358.4 480.6 355.4C481.4 352.3 482.2 349.2 483.1 346.1C484.0 343.0 485.0 339.9 486.1 336.8C487.1 333.7 488.2 330.7 489.3 327.6C490.5 324.5 491.7 321.5 493.0 318.4C494.3 315.4 495.6 312.3 497.0 309.4C498.4 306.4 499.8 303.4 501.3 300.4C502.8 297.5 504.3 294.6 505.9 291.7C507.5 288.8 509.1 286.0 510.8 283.2C512.5 280.4 514.2 277.7 515.9 275.0C517.7 272.3 519.5 269.6 521.3 267.0C523.2 264.4 525.0 261.9 527.0 259.4C528.9 256.9 530.8 254.5 532.8 252.1C534.7 249.8 536.7 247.5 538.7 245.3C540.8 243.1 542.8 240.9 544.9 238.8C546.9 236.8 549.0 234.8 551.1 232.8C553.2 230.9 555.3 229.1 557.4 227.3C559.5 225.6 561.7 223.9 563.8 222.3C566.0 220.7 568.1 219.2 570.2 217.8C572.4 216.4 574.5 215.1 576.7 213.9C578.8 212.6 581.0 211.5 583.1 210.5C585.2 209.4 587.4 208.5 589.5 207.6C591.6 206.8 593.7 206.0 595.8 205.4C597.8 204.7 599.9 204.2 602.0 203.7C604.0 203.3 606.0 202.9 608.0 202.7C610.0 202.4 612.0 202.3 613.9 202.3C615.9 202.2 617.8 202.3 619.7 202.4C621.5 202.6 623.4 202.8 625.2 203.2C627.0 203.5 628.8 204.0 630.5 204.5C632.3 205.1 634.0 205.7 635.6 206.5C637.3 207.2 638.9 208.1 640.5 209.0C642.0 210.0 643.5 211.0 645.0 212.2C646.5 213.4 647.9 214.6 649.2 216.0C650.6 217.3 651.9 218.8 653.1 220.3C654.3 221.8 655.5 223.5 656.6 225.2C657.7 226.9 658.8 228.7 659.8 230.6C660.8 232.5 661.7 234.5 662.5 236.5C663.4 238.6 664.5 241.9 664.9 242.9 M664.9 242.9C665.2 244.1 666.3 247.5 666.9 249.9C667.4 252.3 667.9 254.8 668.4 257.3C668.8 259.9 669.2 262.5 669.4 265.1C669.7 267.8 669.9 270.5 670.0 273.3C670.2 276.0 670.2 278.8 670.2 281.7C670.2 284.5 670.1 287.4 669.9 290.4C669.7 293.3 669.4 296.3 669.1 299.3C668.8 302.3 668.3 305.3 667.9 308.4C667.4 311.4 666.8 314.5 666.2 317.6C665.6 320.6 664.9 323.7 664.1 326.8C663.3 329.9 662.5 333.0 661.6 336.1C660.7 339.2 659.8 342.4 658.7 345.5C657.7 348.6 656.6 351.7 655.5 354.8C654.3 357.9 653.1 361.0 651.8 364.1C650.5 367.1 649.2 370.2 647.8 373.2C646.4 376.3 644.9 379.3 643.4 382.3C641.9 385.2 640.3 388.2 638.7 391.1C637.1 394.0 635.4 396.9 633.7 399.8C632.0 402.6 630.2 405.4 628.4 408.2C626.6 410.9 624.7 413.6 622.8 416.3C620.9 419.0 619.0 421.6 617.0 424.1C615.0 426.6 613.0 429.1 611.0 431.6C608.9 434.0 606.9 436.3 604.8 438.6C602.7 440.9 600.5 443.1 598.4 445.3C596.3 447.4 594.1 449.5 591.9 451.5C589.7 453.5 587.5 455.4 585.3 457.2C583.1 459.1 580.8 460.8 578.6 462.5C576.3 464.1 574.1 465.7 571.8 467.2C569.6 468.7 567.3 470.1 565.1 471.4C562.8 472.7 560.5 473.9 558.3 475.1C556.0 476.2 553.8 477.2 551.6 478.1C549.3 479.1 547.1 479.9 544.9 480.6C542.7 481.3 540.5 482.0 538.3 482.5C536.2 483.0 534.0 483.5 531.9 483.8C529.7 484.1 527.6 484.4 525.6 484.5C523.5 484.6 521.5 484.6 519.4 484.6C517.4 484.5 515.5 484.3 513.5 484.0C511.6 483.8 509.7 483.4 507.8 482.9C506.0 482.4 504.1 481.8 502.4 481.2C500.6 480.5 498.9 479.7 497.2 478.8C495.5 477.9 493.9 477.0 492.3 475.9C490.8 474.8 489.2 473.6 487.8 472.4C486.3 471.1 484.9 469.8 483.6 468.3C482.2 466.9 480.9 465.3 479.7 463.7C478.5 462.1 477.3 460.4 476.2 458.6C475.1 456.8 474.1 454.9 473.1 453.0C472.1 451.0 471.2 449.0 470.4 446.9C469.6 444.8 468.8 442.6 468.1 440.3C467.4 438.1 466.8 435.8 466.3 433.4C465.7 431.0 465.2 428.6 464.8 426.0C464.4 423.5 464.1 421.0 463.8 418.3C463.6 415.7 463.4 413.0 463.3 410.3C463.2 407.6 463.1 404.8 463.2 402.0C463.2 399.2 463.3 396.3 463.5 393.4C463.7 390.5 463.9 387.6 464.3 384.6C464.6 381.7 465.0 378.7 465.5 375.6C465.9 372.6 466.5 369.6 467.1 366.5C467.7 363.5 468.4 360.4 469.2 357.3C469.9 354.2 470.8 351.1 471.7 348.0C472.5 344.9 473.5 341.8 474.5 338.7C475.6 335.6 476.7 332.5 477.8 329.4C479.0 326.3 480.2 323.2 481.5 320.1C482.8 317.1 484.1 314.0 485.5 311.0C486.9 307.9 488.4 304.9 489.9 301.9C491.4 299.0 493.0 296.0 494.6 293.1C496.2 290.2 497.9 287.3 499.6 284.5C501.3 281.6 503.1 278.8 504.9 276.1C506.7 273.3 508.6 270.6 510.5 267.9C512.4 265.3 514.3 262.7 516.3 260.1C518.2 257.6 520.3 255.1 522.3 252.7C524.3 250.3 526.4 247.9 528.5 245.6C530.6 243.3 532.7 241.1 534.9 239.0C537.0 236.8 539.2 234.8 541.4 232.8C543.6 230.8 545.8 228.9 548.0 227.0C550.2 225.2 552.4 223.4 554.7 221.8C556.9 220.1 559.2 218.5 561.4 217.0C563.7 215.6 565.9 214.2 568.2 212.8C570.5 211.5 572.7 210.3 575.0 209.2C577.2 208.1 579.4 207.1 581.7 206.1C583.9 205.2 586.1 204.4 588.3 203.6C590.5 202.9 592.7 202.3 594.9 201.7C597.1 201.2 599.2 200.8 601.4 200.4C603.5 200.1 605.6 199.9 607.6 199.7C609.7 199.6 611.8 199.6 613.8 199.6C615.8 199.7 617.7 199.9 619.7 200.2C621.6 200.4 623.5 200.8 625.4 201.3C627.2 201.8 629.1 202.3 630.8 203.0C632.6 203.7 634.4 204.4 636.1 205.3C637.8 206.2 639.4 207.1 641.0 208.2C642.6 209.3 644.1 210.5 645.6 211.7C647.1 213.0 648.5 214.4 649.9 215.9C651.2 217.3 652.5 218.9 653.8 220.6C655.0 222.2 656.2 224.0 657.3 225.8C658.4 227.6 659.4 229.6 660.4 231.6C661.3 233.6 662.2 235.7 663.0 237.8C663.9 240.0 664.9 243.5 665.3 244.6 M665.3 244.6C665.6 246.0 666.8 250.1 667.3 253.0C667.9 255.9 668.4 258.9 668.8 262.0C669.1 265.1 669.4 268.3 669.6 271.5C669.7 274.7 669.8 278.0 669.7 281.3C669.7 284.7 669.5 288.1 669.3 291.5C669.0 295.0 668.6 298.5 668.2 302.1C667.7 305.6 667.1 309.2 666.4 312.8C665.8 316.5 665.0 320.1 664.1 323.8C663.3 327.5 662.3 331.2 661.3 334.9C660.2 338.6 659.1 342.3 657.9 346.1C656.6 349.8 655.3 353.6 653.9 357.4C652.5 361.1 651.0 364.9 649.4 368.7C647.8 372.5 646.2 376.2 644.4 380.0C642.6 383.7 640.8 387.5 638.9 391.2C637.0 394.9 635.0 398.7 632.9 402.3C630.9 406.0 628.7 409.7 626.5 413.3C624.3 416.9 622.0 420.5 619.7 424.1C617.3 427.6 614.9 431.1 612.5 434.6C610.0 438.0 607.5 441.5 604.9 444.8C602.3 448.2 599.6 451.5 597.0 454.7C594.3 457.9 591.5 461.1 588.8 464.2C586.0 467.3 583.2 470.3 580.3 473.2C577.5 476.2 574.6 479.1 571.7 481.9C568.7 484.6 565.8 487.3 562.8 490.0C559.8 492.6 556.8 495.1 553.8 497.5C550.8 500.0 547.7 502.3 544.7 504.5C541.7 506.8 538.6 508.9 535.5 511.0C532.5 513.0 529.4 514.9 526.3 516.8C523.3 518.6 520.2 520.3 517.1 521.9C514.1 523.5 511.0 525.0 508.0 526.4C505.0 527.7 502.0 529.0 499.0 530.1C496.0 531.3 493.0 532.3 490.1 533.2C487.1 534.1 484.2 534.9 481.3 535.6C478.4 536.2 475.6 536.8 472.8 537.2C470.0 537.6 467.2 537.9 464.5 538.1C461.7 538.3 459.1 538.3 456.4 538.3C453.8 538.2 451.2 538.0 448.7 537.7C446.2 537.4 443.7 536.9 441.3 536.3C439.0 535.8 436.6 535.1 434.4 534.3C432.1 533.5 429.9 532.6 427.8 531.5C425.6 530.5 423.6 529.3 421.6 528.0C419.6 526.7 417.7 525.3 415.9 523.8C414.1 522.3 412.4 520.7 410.7 519.0C409.0 517.2 407.5 515.4 406.0 513.4C404.5 511.5 403.1 509.4 401.8 507.3C400.5 505.1 399.3 502.9 398.2 500.5C397.1 498.2 396.0 495.7 395.1 493.2C394.2 490.6 393.4 488.0 392.6 485.3C391.9 482.5 391.2 479.7 390.7 476.7C390.1 473.8 389.7 470.8 389.3 467.7C389.0 464.6 388.7 461.5 388.6 458.3C388.4 455.0 388.4 451.7 388.4 448.4C388.5 445.0 388.6 441.6 388.9 438.2C389.1 434.7 389.5 431.2 389.9 427.6C390.4 424.1 390.9 420.5 391.6 416.9C392.2 413.2 393.0 409.5 393.8 405.8C394.6 402.1 395.6 398.4 396.6 394.6C397.6 390.9 398.8 387.1 400.0 383.3C401.2 379.5 402.5 375.7 403.9 371.9C405.4 368.1 406.8 364.3 408.4 360.5C410.0 356.7 411.7 352.9 413.4 349.1C415.2 345.3 417.0 341.5 418.9 337.8C420.8 334.0 422.8 330.2 424.9 326.5C427.0 322.8 429.1 319.1 431.3 315.5C433.5 311.8 435.8 308.2 438.1 304.6C440.5 301.1 442.9 297.5 445.4 294.0C447.8 290.6 450.4 287.1 453.0 283.8C455.5 280.4 458.2 277.1 460.9 273.8C463.6 270.6 466.3 267.4 469.1 264.3C471.8 261.2 474.7 258.1 477.5 255.2C480.4 252.2 483.3 249.3 486.2 246.5C489.1 243.8 492.1 241.0 495.1 238.4C498.1 235.8 501.1 233.3 504.1 230.8C507.1 228.4 510.2 226.0 513.2 223.8C516.3 221.6 519.4 219.4 522.4 217.4C525.5 215.4 528.6 213.4 531.7 211.6C534.7 209.8 537.8 208.1 540.9 206.5C543.9 204.9 547.0 203.4 550.0 202.1C553.1 200.7 556.1 199.5 559.1 198.3C562.1 197.2 565.1 196.2 568.1 195.3C571.0 194.4 574.0 193.6 576.9 193.0C579.8 192.3 582.6 191.8 585.4 191.4C588.3 191.0 591.0 190.8 593.8 190.6C596.5 190.5 599.2 190.4 601.8 190.5C604.5 190.6 607.1 190.9 609.6 191.2C612.1 191.6 614.6 192.0 617.0 192.6C619.4 193.2 621.8 193.9 624.1 194.8C626.3 195.6 628.5 196.6 630.7 197.7C632.8 198.7 634.9 199.9 636.9 201.3C638.9 202.6 640.8 204.0 642.7 205.6C644.5 207.1 646.3 208.9 647.9 210.7C649.6 212.5 651.2 214.5 652.7 216.6C654.2 218.6 655.5 220.8 656.8 223.1C658.1 225.4 659.3 227.8 660.3 230.2C661.4 232.6 662.4 235.2 663.3 237.7C664.2 240.3 665.3 244.4 665.7 245.7 M665.7 245.7C666.0 247.1 667.0 251.4 667.5 254.3C668.0 257.3 668.4 260.3 668.7 263.4C668.9 266.5 669.1 269.6 669.1 272.8C669.2 275.9 669.2 279.1 669.0 282.4C668.9 285.7 668.7 289.0 668.3 292.3C668.0 295.7 667.6 299.1 667.1 302.5C666.6 306.0 666.0 309.5 665.3 313.0C664.6 316.6 663.8 320.2 662.9 323.8C662.0 327.4 661.0 331.0 659.9 334.6C658.9 338.3 657.7 341.9 656.4 345.6C655.2 349.3 653.8 352.9 652.4 356.6C650.9 360.3 649.4 364.0 647.8 367.7C646.2 371.4 644.5 375.0 642.7 378.7C640.9 382.4 639.0 386.0 637.1 389.7C635.1 393.3 633.1 396.9 631.0 400.5C628.9 404.1 626.8 407.6 624.5 411.2C622.3 414.7 620.0 418.2 617.6 421.6C615.3 425.1 612.8 428.5 610.3 431.8C607.8 435.2 605.3 438.5 602.7 441.7C600.1 445.0 597.4 448.1 594.7 451.3C592.0 454.4 589.3 457.4 586.5 460.4C583.7 463.4 580.8 466.3 578.0 469.2C575.1 472.0 572.2 474.8 569.3 477.5C566.3 480.1 563.4 482.7 560.4 485.2C557.4 487.8 554.4 490.2 551.4 492.5C548.4 494.8 545.3 497.1 542.3 499.2C539.2 501.3 536.1 503.4 533.1 505.3C530.0 507.2 526.9 509.1 523.9 510.8C520.8 512.5 517.8 514.1 514.7 515.6C511.7 517.1 508.6 518.5 505.6 519.8C502.6 521.1 499.5 522.3 496.6 523.3C493.6 524.4 490.6 525.3 487.7 526.1C484.7 527.0 481.8 527.7 479.0 528.3C476.1 528.8 473.2 529.3 470.5 529.7C467.7 530.0 464.9 530.2 462.2 530.3C459.5 530.4 456.8 530.4 454.2 530.3C451.6 530.1 449.1 529.9 446.6 529.5C444.1 529.1 441.7 528.6 439.3 528.0C436.9 527.4 434.6 526.7 432.4 525.8C430.1 525.0 427.9 524.0 425.8 522.9C423.8 521.8 421.7 520.6 419.8 519.3C417.8 518.0 416.0 516.6 414.2 515.0C412.4 513.5 410.7 511.9 409.1 510.1C407.4 508.4 405.9 506.5 404.4 504.5C403.0 502.6 401.6 500.5 400.4 498.4C399.1 496.2 397.9 493.9 396.8 491.6C395.8 489.2 394.8 486.8 393.9 484.3C393.0 481.7 392.2 479.1 391.5 476.4C390.8 473.7 390.2 470.9 389.7 468.0C389.2 465.1 388.8 462.2 388.4 459.1C388.1 456.1 387.9 453.0 387.8 449.8C387.7 446.7 387.7 443.5 387.8 440.2C387.9 436.9 388.1 433.6 388.4 430.2C388.7 426.8 389.1 423.3 389.6 419.9C390.0 416.4 390.6 412.9 391.3 409.3C392.0 405.8 392.8 402.2 393.7 398.6C394.6 395.0 395.6 391.3 396.6 387.7C397.7 384.0 398.9 380.3 400.1 376.6C401.4 372.9 402.7 369.2 404.2 365.5C405.6 361.8 407.2 358.1 408.8 354.4C410.4 350.7 412.1 347.0 413.9 343.3C415.7 339.7 417.5 336.0 419.5 332.3C421.4 328.7 423.4 325.0 425.5 321.5C427.6 317.9 429.8 314.3 432.0 310.7C434.2 307.2 436.6 303.7 438.9 300.2C441.3 296.8 443.7 293.4 446.2 290.0C448.7 286.7 451.3 283.3 453.9 280.1C456.5 276.8 459.1 273.6 461.8 270.5C464.5 267.4 467.3 264.3 470.1 261.3C472.9 258.3 475.7 255.4 478.6 252.6C481.5 249.7 484.4 246.9 487.3 244.3C490.2 241.6 493.2 239.0 496.2 236.5C499.2 234.0 502.2 231.5 505.2 229.2C508.2 226.9 511.3 224.6 514.4 222.5C517.4 220.4 520.5 218.3 523.5 216.4C526.6 214.5 529.7 212.6 532.8 210.9C535.8 209.2 538.9 207.6 541.9 206.1C545.0 204.6 548.1 203.2 551.1 201.9C554.1 200.6 557.1 199.5 560.1 198.4C563.1 197.4 566.1 196.4 569.0 195.6C572.0 194.8 574.9 194.1 577.8 193.5C580.6 193.0 583.5 192.5 586.3 192.2C589.1 191.9 591.8 191.6 594.5 191.5C597.3 191.5 599.9 191.5 602.5 191.6C605.1 191.8 607.7 192.1 610.2 192.4C612.7 192.8 615.2 193.4 617.5 194.0C619.9 194.6 622.2 195.4 624.5 196.2C626.7 197.1 628.9 198.1 631.0 199.2C633.1 200.3 635.2 201.5 637.2 202.8C639.2 204.1 641.1 205.6 642.9 207.2C644.7 208.7 646.4 210.5 648.1 212.3C649.7 214.1 651.3 216.1 652.7 218.2C654.2 220.3 655.5 222.5 656.8 224.8C658.0 227.1 659.1 229.5 660.2 231.9C661.2 234.4 662.1 236.9 663.0 239.5C663.8 242.1 664.8 246.2 665.2 247.5 M665.2 247.5C665.5 249.0 666.5 253.5 666.9 256.6C667.3 259.7 667.6 262.8 667.8 266.0C668.0 269.3 668.0 272.5 668.0 275.8C667.9 279.1 667.7 282.4 667.5 285.8C667.2 289.2 666.8 292.6 666.3 296.0C665.8 299.5 665.2 303.0 664.5 306.6C663.8 310.1 663.0 313.8 662.1 317.4C661.2 321.0 660.2 324.6 659.1 328.3C658.0 331.9 656.8 335.6 655.5 339.3C654.2 343.0 652.8 346.7 651.3 350.4C649.8 354.1 648.1 357.8 646.4 361.5C644.7 365.2 643.0 368.9 641.1 372.6C639.2 376.3 637.2 380.0 635.1 383.6C633.1 387.3 630.9 391.0 628.7 394.6C626.5 398.2 624.1 401.8 621.7 405.4C619.4 408.9 616.9 412.5 614.3 416.0C611.8 419.5 609.2 422.9 606.5 426.3C603.8 429.7 601.1 433.1 598.3 436.4C595.5 439.7 592.6 442.9 589.7 446.1C586.8 449.3 583.8 452.4 580.8 455.5C577.7 458.5 574.7 461.5 571.5 464.4C568.4 467.3 565.3 470.2 562.1 472.9C558.9 475.6 555.7 478.3 552.4 480.9C549.2 483.5 545.9 486.0 542.6 488.4C539.3 490.8 536.0 493.1 532.6 495.3C529.3 497.5 525.9 499.6 522.6 501.7C519.2 503.7 515.9 505.6 512.5 507.4C509.2 509.2 505.8 510.9 502.4 512.5C499.1 514.1 495.7 515.5 492.4 516.9C489.1 518.3 485.8 519.5 482.5 520.7C479.2 521.8 475.9 522.8 472.7 523.7C469.4 524.6 466.2 525.4 463.0 526.1C459.9 526.8 456.7 527.3 453.6 527.8C450.5 528.2 447.5 528.5 444.5 528.7C441.5 528.9 438.5 528.9 435.6 528.9C432.7 528.8 429.9 528.6 427.1 528.3C424.3 528.0 421.6 527.6 418.9 527.1C416.3 526.5 413.7 525.9 411.2 525.1C408.7 524.3 406.2 523.4 403.9 522.4C401.5 521.4 399.2 520.3 397.0 519.0C394.8 517.8 392.7 516.4 390.7 515.0C388.7 513.5 386.7 511.9 384.9 510.2C383.0 508.5 381.3 506.7 379.6 504.8C378.0 502.9 376.4 500.9 374.9 498.8C373.5 496.7 372.1 494.5 370.8 492.2C369.6 489.9 368.4 487.5 367.3 485.0C366.3 482.5 365.3 479.9 364.5 477.3C363.6 474.6 362.9 471.9 362.3 469.1C361.6 466.2 361.1 463.3 360.7 460.3C360.2 457.3 359.9 454.2 359.7 451.0C359.5 447.9 359.4 444.7 359.4 441.4C359.5 438.2 359.6 434.8 359.8 431.5C360.1 428.1 360.4 424.6 360.9 421.2C361.3 417.7 361.9 414.2 362.6 410.6C363.2 407.1 364.0 403.5 364.9 399.9C365.8 396.2 366.8 392.6 367.9 388.9C369.0 385.2 370.2 381.5 371.5 377.8C372.8 374.1 374.2 370.4 375.7 366.7C377.2 362.9 378.8 359.2 380.5 355.5C382.2 351.8 384.0 348.0 385.9 344.3C387.8 340.6 389.7 336.9 391.8 333.2C393.9 329.5 396.0 325.8 398.3 322.2C400.5 318.5 402.8 314.9 405.2 311.3C407.6 307.7 410.1 304.2 412.6 300.7C415.1 297.2 417.8 293.7 420.4 290.3C423.1 286.9 425.9 283.5 428.7 280.2C431.5 276.9 434.4 273.6 437.3 270.4C440.2 267.2 443.2 264.1 446.2 261.0C449.2 258.0 452.3 255.0 455.4 252.1C458.5 249.1 461.7 246.3 464.9 243.5C468.1 240.8 471.3 238.1 474.6 235.5C477.8 232.9 481.1 230.4 484.4 228.0C487.7 225.6 491.0 223.3 494.4 221.1C497.7 218.9 501.1 216.8 504.4 214.8C507.8 212.7 511.2 210.8 514.5 209.0C517.9 207.2 521.3 205.5 524.6 204.0C528.0 202.4 531.3 200.9 534.7 199.5C538.0 198.2 541.3 196.9 544.6 195.8C547.9 194.7 551.2 193.6 554.4 192.7C557.7 191.9 560.9 191.1 564.1 190.4C567.3 189.8 570.4 189.2 573.5 188.8C576.6 188.4 579.7 188.1 582.7 187.9C585.7 187.8 588.7 187.7 591.6 187.8C594.5 187.9 597.3 188.0 600.1 188.4C602.9 188.7 605.6 189.1 608.3 189.7C610.9 190.2 613.5 190.9 616.1 191.7C618.6 192.5 621.0 193.4 623.4 194.5C625.8 195.5 628.1 196.7 630.3 197.9C632.5 199.2 634.6 200.6 636.6 202.1C638.7 203.6 640.6 205.2 642.5 206.9C644.3 208.6 646.1 210.4 647.8 212.4C649.4 214.4 651.0 216.5 652.4 218.7C653.9 220.8 655.2 223.2 656.5 225.6C657.7 227.9 658.8 230.4 659.8 233.0C660.9 235.5 661.8 238.1 662.6 240.8C663.4 243.4 664.3 247.5 664.7 248.9 M664.7 248.9C664.9 250.3 665.8 254.4 666.2 257.3C666.5 260.1 666.8 263.0 666.9 265.9C667.1 268.9 667.1 271.9 667.1 274.9C667.0 277.9 666.9 280.9 666.6 284.0C666.4 287.1 666.0 290.2 665.6 293.4C665.2 296.5 664.7 299.7 664.1 303.0C663.5 306.2 662.8 309.5 662.0 312.8C661.2 316.2 660.3 319.5 659.4 322.9C658.4 326.2 657.3 329.6 656.1 333.0C655.0 336.4 653.7 339.8 652.4 343.2C651.0 346.6 649.6 350.0 648.0 353.4C646.5 356.9 644.9 360.3 643.2 363.7C641.5 367.0 639.7 370.4 637.9 373.8C636.0 377.2 634.1 380.5 632.1 383.8C630.1 387.2 628.0 390.5 625.9 393.7C623.7 397.0 621.5 400.2 619.2 403.4C616.9 406.6 614.5 409.8 612.1 412.9C609.7 416.0 607.2 419.1 604.7 422.1C602.2 425.1 599.6 428.1 597.0 431.0C594.3 433.9 591.6 436.7 588.9 439.5C586.2 442.3 583.4 445.0 580.6 447.6C577.8 450.3 574.9 452.8 572.0 455.3C569.2 457.8 566.2 460.2 563.3 462.6C560.4 464.9 557.4 467.2 554.4 469.4C551.4 471.5 548.4 473.6 545.4 475.6C542.4 477.6 539.4 479.5 536.3 481.3C533.3 483.1 530.3 484.8 527.2 486.5C524.2 488.1 521.1 489.6 518.1 491.0C515.1 492.4 512.0 493.7 509.0 495.0C506.0 496.2 503.0 497.3 500.0 498.3C497.0 499.3 494.1 500.2 491.1 501.0C488.2 501.7 485.3 502.4 482.4 503.0C479.5 503.6 476.7 504.0 473.9 504.4C471.1 504.7 468.3 504.9 465.6 505.1C462.9 505.2 460.2 505.2 457.5 505.1C454.9 505.0 452.3 504.8 449.8 504.5C447.3 504.1 444.8 503.7 442.4 503.2C440.0 502.6 437.6 502.0 435.3 501.2C433.1 500.4 430.8 499.6 428.7 498.6C426.5 497.6 424.5 496.5 422.5 495.3C420.5 494.1 418.5 492.8 416.7 491.4C414.8 490.0 413.1 488.5 411.4 486.9C409.7 485.3 408.1 483.6 406.6 481.9C405.1 480.1 403.6 478.2 402.3 476.2C400.9 474.2 399.7 472.2 398.5 470.0C397.4 467.8 396.3 465.6 395.3 463.3C394.3 461.0 393.5 458.6 392.7 456.1C391.9 453.6 391.2 451.1 390.6 448.4C390.0 445.7 389.5 443.0 389.1 440.1C388.7 437.3 388.4 434.4 388.2 431.5C388.0 428.5 387.9 425.5 387.9 422.5C387.9 419.4 388.0 416.3 388.2 413.2C388.3 410.0 388.6 406.8 389.0 403.6C389.4 400.3 389.9 397.0 390.5 393.7C391.1 390.4 391.8 387.1 392.6 383.7C393.3 380.3 394.2 376.9 395.2 373.5C396.2 370.1 397.2 366.7 398.4 363.2C399.6 359.8 400.8 356.3 402.2 352.9C403.5 349.4 404.9 346.0 406.5 342.5C408.0 339.0 409.6 335.6 411.3 332.2C413.0 328.7 414.7 325.3 416.6 321.9C418.4 318.5 420.4 315.1 422.4 311.7C424.4 308.4 426.5 305.0 428.6 301.7C430.8 298.4 433.0 295.2 435.3 291.9C437.6 288.7 439.9 285.5 442.4 282.4C444.8 279.2 447.3 276.1 449.8 273.1C452.3 270.1 454.9 267.1 457.6 264.1C460.2 261.2 462.9 258.4 465.6 255.6C468.4 252.8 471.1 250.0 474.0 247.4C476.8 244.7 479.6 242.1 482.5 239.6C485.4 237.1 488.3 234.7 491.3 232.3C494.2 230.0 497.2 227.7 500.2 225.5C503.2 223.3 506.2 221.3 509.2 219.3C512.2 217.3 515.3 215.4 518.3 213.5C521.4 211.7 524.4 210.0 527.5 208.4C530.5 206.8 533.6 205.3 536.6 203.9C539.7 202.5 542.7 201.2 545.7 200.0C548.7 198.8 551.8 197.7 554.8 196.7C557.8 195.7 560.7 194.8 563.7 194.1C566.6 193.3 569.6 192.6 572.4 192.1C575.3 191.6 578.2 191.1 581.0 190.8C583.8 190.5 586.6 190.3 589.4 190.2C592.1 190.1 594.8 190.1 597.4 190.2C600.1 190.4 602.7 190.6 605.2 191.0C607.8 191.3 610.3 191.8 612.7 192.4C615.1 193.0 617.5 193.7 619.8 194.5C622.1 195.3 624.3 196.2 626.5 197.2C628.6 198.2 630.7 199.4 632.7 200.6C634.8 201.8 636.7 203.2 638.6 204.6C640.5 206.0 642.3 207.6 644.0 209.2C645.7 210.9 647.3 212.7 648.8 214.6C650.4 216.5 651.8 218.5 653.1 220.6C654.5 222.7 655.7 224.9 656.9 227.2C658.0 229.5 659.0 231.8 660.0 234.2C660.9 236.7 661.7 239.1 662.5 241.7C663.2 244.2 664.1 248.1 664.5 249.4 M664.5 249.4C664.7 250.8 665.5 254.9 665.9 257.7C666.2 260.5 666.4 263.4 666.6 266.3C666.7 269.2 666.7 272.1 666.6 275.1C666.6 278.1 666.4 281.1 666.1 284.1C665.9 287.2 665.5 290.2 665.1 293.3C664.6 296.4 664.1 299.6 663.5 302.8C662.8 306.0 662.1 309.2 661.3 312.5C660.5 315.7 659.6 319.0 658.6 322.2C657.6 325.5 656.5 328.8 655.3 332.1C654.1 335.4 652.8 338.7 651.5 342.0C650.1 345.3 648.7 348.7 647.1 352.0C645.6 355.3 644.0 358.6 642.3 361.8C640.6 365.1 638.8 368.4 637.0 371.7C635.1 374.9 633.2 378.1 631.2 381.3C629.2 384.6 627.1 387.7 624.9 390.9C622.8 394.0 620.6 397.1 618.3 400.2C616.0 403.3 613.7 406.3 611.3 409.3C608.9 412.3 606.4 415.2 603.9 418.1C601.4 421.0 598.8 423.8 596.2 426.6C593.6 429.4 590.9 432.1 588.2 434.7C585.5 437.4 582.7 440.0 579.9 442.5C577.1 445.0 574.3 447.4 571.4 449.8C568.6 452.1 565.7 454.4 562.8 456.6C559.9 458.9 556.9 461.0 554.0 463.0C551.0 465.1 548.1 467.0 545.1 468.9C542.1 470.8 539.1 472.5 536.1 474.2C533.1 475.9 530.1 477.5 527.1 479.0C524.1 480.5 521.1 481.9 518.1 483.2C515.1 484.5 512.1 485.7 509.1 486.8C506.1 487.9 503.2 488.9 500.2 489.8C497.3 490.7 494.4 491.5 491.5 492.2C488.6 492.8 485.7 493.4 482.9 493.9C480.0 494.3 477.2 494.7 474.5 495.0C471.7 495.2 469.0 495.4 466.3 495.4C463.6 495.4 461.0 495.4 458.4 495.2C455.8 495.0 453.2 494.7 450.8 494.3C448.3 493.9 445.9 493.4 443.5 492.8C441.1 492.2 438.8 491.5 436.6 490.7C434.3 489.8 432.2 488.9 430.1 487.9C428.0 486.9 425.9 485.7 424.0 484.5C422.0 483.3 420.1 481.9 418.3 480.5C416.5 479.1 414.8 477.5 413.2 475.9C411.5 474.3 410.0 472.6 408.5 470.8C407.0 469.0 405.6 467.1 404.3 465.1C403.0 463.1 401.8 461.0 400.7 458.9C399.6 456.7 398.5 454.5 397.6 452.1C396.7 449.8 395.8 447.4 395.1 445.0C394.3 442.5 393.7 440.0 393.1 437.4C392.6 434.8 392.1 432.0 391.7 429.2C391.4 426.5 391.1 423.6 390.9 420.7C390.7 417.8 390.7 414.9 390.7 411.9C390.7 408.9 390.8 405.8 391.0 402.7C391.3 399.7 391.6 396.5 392.0 393.4C392.4 390.2 392.9 387.0 393.6 383.8C394.2 380.5 394.9 377.3 395.7 374.0C396.5 370.7 397.4 367.4 398.4 364.1C399.4 360.8 400.4 357.4 401.6 354.1C402.8 350.7 404.1 347.4 405.4 344.0C406.8 340.7 408.2 337.3 409.7 334.0C411.3 330.7 412.9 327.3 414.6 324.0C416.3 320.7 418.1 317.4 419.9 314.1C421.8 310.8 423.7 307.5 425.7 304.3C427.7 301.1 429.8 297.8 431.9 294.7C434.1 291.5 436.3 288.3 438.6 285.3C440.9 282.2 443.2 279.1 445.6 276.1C448.0 273.1 450.5 270.1 453.0 267.2C455.5 264.3 458.1 261.5 460.7 258.7C463.4 255.9 466.0 253.1 468.7 250.5C471.5 247.8 474.2 245.2 477.0 242.7C479.8 240.2 482.6 237.7 485.5 235.3C488.4 233.0 491.3 230.7 494.2 228.4C497.1 226.2 500.0 224.1 503.0 222.0C506.0 220.0 508.9 218.0 511.9 216.2C514.9 214.3 517.9 212.5 520.9 210.8C523.9 209.1 527.0 207.5 530.0 206.1C533.0 204.6 536.0 203.2 539.0 201.9C542.0 200.6 545.0 199.4 548.0 198.3C551.0 197.2 554.0 196.2 556.9 195.4C559.9 194.5 562.8 193.7 565.7 193.0C568.6 192.4 571.5 191.8 574.3 191.4C577.2 190.9 580.0 190.6 582.8 190.3C585.5 190.1 588.3 190.0 591.0 190.0C593.7 190.0 596.3 190.1 598.9 190.3C601.5 190.5 604.1 190.8 606.6 191.2C609.1 191.6 611.5 192.2 613.9 192.8C616.2 193.5 618.6 194.2 620.8 195.1C623.1 195.9 625.3 196.9 627.4 198.0C629.5 199.0 631.5 200.2 633.5 201.5C635.5 202.7 637.4 204.1 639.2 205.6C641.0 207.0 642.8 208.6 644.4 210.3C646.1 211.9 647.7 213.7 649.2 215.6C650.6 217.5 652.0 219.6 653.3 221.7C654.6 223.8 655.8 226.0 656.9 228.2C658.0 230.5 659.0 232.8 659.9 235.2C660.8 237.6 661.6 240.1 662.3 242.6C663.0 245.1 663.9 249.0 664.2 250.2 M664.2 250.2C664.4 251.5 665.1 255.3 665.4 258.0C665.7 260.6 665.9 263.3 666.0 265.9C666.1 268.6 666.2 271.4 666.1 274.1C666.0 276.9 665.8 279.6 665.6 282.4C665.4 285.2 665.0 288.0 664.6 290.9C664.2 293.7 663.7 296.6 663.2 299.5C662.6 302.4 662.0 305.4 661.2 308.3C660.5 311.3 659.7 314.2 658.8 317.2C657.9 320.2 656.9 323.2 655.8 326.2C654.8 329.1 653.6 332.1 652.4 335.1C651.2 338.1 649.9 341.1 648.5 344.1C647.2 347.0 645.7 350.0 644.2 352.9C642.7 355.9 641.1 358.8 639.4 361.7C637.8 364.6 636.0 367.5 634.2 370.3C632.4 373.2 630.6 376.0 628.7 378.8C626.7 381.6 624.7 384.4 622.7 387.1C620.7 389.8 618.6 392.5 616.4 395.1C614.3 397.7 612.1 400.3 609.8 402.8C607.6 405.4 605.3 407.9 602.9 410.3C600.6 412.7 598.2 415.1 595.8 417.4C593.3 419.7 590.9 421.9 588.4 424.1C585.9 426.2 583.4 428.4 580.8 430.4C578.3 432.4 575.7 434.4 573.1 436.3C570.5 438.2 567.8 440.0 565.2 441.7C562.6 443.4 559.9 445.1 557.2 446.7C554.6 448.2 551.9 449.7 549.2 451.1C546.5 452.5 543.8 453.8 541.2 455.0C538.5 456.3 535.8 457.4 533.1 458.4C530.4 459.5 527.8 460.4 525.1 461.3C522.4 462.2 519.8 462.9 517.2 463.6C514.5 464.3 511.9 464.8 509.3 465.3C506.8 465.8 504.2 466.2 501.7 466.5C499.1 466.7 496.6 466.9 494.2 467.0C491.7 467.1 489.3 467.1 486.9 467.0C484.5 466.9 482.1 466.7 479.8 466.4C477.5 466.1 475.2 465.7 473.0 465.2C470.8 464.7 468.6 464.1 466.5 463.4C464.4 462.7 462.4 461.9 460.4 461.1C458.4 460.2 456.4 459.2 454.6 458.1C452.7 457.1 450.9 455.9 449.1 454.7C447.4 453.5 445.7 452.1 444.1 450.7C442.5 449.3 440.9 447.8 439.5 446.2C438.0 444.6 436.6 443.0 435.3 441.2C434.0 439.5 432.8 437.6 431.6 435.7C430.4 433.8 429.4 431.9 428.4 429.8C427.4 427.8 426.5 425.6 425.6 423.5C424.8 421.3 424.0 419.0 423.4 416.7C422.7 414.4 422.1 412.0 421.6 409.6C421.2 407.1 420.7 404.6 420.4 402.0C420.1 399.4 419.8 396.8 419.7 394.1C419.6 391.5 419.5 388.7 419.5 386.0C419.5 383.2 419.7 380.4 419.9 377.6C420.1 374.8 420.4 371.9 420.7 369.0C421.1 366.1 421.6 363.2 422.1 360.2C422.7 357.3 423.3 354.3 424.0 351.4C424.8 348.4 425.6 345.4 426.5 342.4C427.4 339.4 428.3 336.4 429.4 333.3C430.4 330.3 431.6 327.3 432.8 324.3C434.0 321.3 435.3 318.3 436.7 315.3C438.0 312.3 439.5 309.3 441.0 306.3C442.5 303.3 444.1 300.4 445.8 297.5C447.4 294.5 449.2 291.6 451.0 288.7C452.8 285.9 454.6 283.0 456.5 280.2C458.5 277.4 460.5 274.6 462.5 271.9C464.5 269.1 466.6 266.4 468.8 263.8C470.9 261.1 473.2 258.5 475.4 256.0C477.7 253.5 480.0 251.0 482.3 248.5C484.7 246.1 487.0 243.7 489.5 241.4C491.9 239.1 494.4 236.8 496.9 234.6C499.4 232.5 501.9 230.3 504.4 228.3C507.0 226.3 509.6 224.3 512.2 222.4C514.8 220.5 517.4 218.7 520.1 217.0C522.7 215.2 525.4 213.6 528.1 212.0C530.7 210.4 533.4 208.9 536.1 207.5C538.8 206.1 541.5 204.8 544.2 203.6C546.9 202.4 549.6 201.3 552.2 200.2C554.9 199.2 557.6 198.2 560.3 197.4C562.9 196.5 565.6 195.8 568.2 195.1C570.9 194.5 573.5 193.9 576.1 193.4C578.7 193.0 581.2 192.6 583.8 192.3C586.3 192.1 588.8 191.9 591.3 191.8C593.8 191.8 596.2 191.8 598.6 191.9C601.0 192.0 603.4 192.3 605.7 192.6C608.0 192.9 610.3 193.3 612.5 193.8C614.8 194.4 616.9 195.0 619.0 195.7C621.2 196.4 623.2 197.2 625.2 198.1C627.2 199.0 629.2 200.0 631.1 201.1C633.0 202.2 634.8 203.4 636.5 204.6C638.3 205.9 640.0 207.2 641.6 208.7C643.2 210.1 644.8 211.7 646.3 213.3C647.8 214.9 649.2 216.7 650.5 218.5C651.8 220.3 653.0 222.3 654.2 224.3C655.3 226.3 656.4 228.4 657.4 230.5C658.3 232.6 659.2 234.8 660.0 237.1C660.8 239.3 661.5 241.6 662.1 244.0C662.8 246.3 663.5 249.9 663.8 251.1 M663.8 251.1C664.0 252.4 664.7 256.3 664.9 259.0C665.2 261.7 665.4 264.5 665.5 267.2C665.5 270.0 665.5 272.8 665.4 275.6C665.2 278.4 665.0 281.2 664.7 284.1C664.4 286.9 664.0 289.8 663.5 292.7C663.1 295.6 662.5 298.6 661.9 301.6C661.2 304.6 660.5 307.6 659.6 310.6C658.8 313.6 657.9 316.7 656.9 319.7C655.9 322.7 654.8 325.8 653.6 328.8C652.4 331.9 651.2 334.9 649.8 338.0C648.5 341.0 647.1 344.1 645.6 347.1C644.1 350.2 642.5 353.2 640.8 356.2C639.1 359.2 637.4 362.2 635.6 365.2C633.8 368.1 631.9 371.1 629.9 374.0C628.0 376.9 626.0 379.8 623.9 382.6C621.8 385.5 619.6 388.3 617.4 391.0C615.2 393.8 612.9 396.5 610.6 399.2C608.3 401.9 605.9 404.5 603.5 407.1C601.0 409.7 598.6 412.2 596.0 414.7C593.5 417.1 590.9 419.5 588.3 421.9C585.7 424.2 583.1 426.5 580.4 428.7C577.7 430.9 575.0 433.1 572.2 435.1C569.5 437.2 566.7 439.2 563.9 441.1C561.1 443.0 558.3 444.9 555.5 446.6C552.7 448.4 549.8 450.0 547.0 451.6C544.1 453.2 541.2 454.7 538.4 456.1C535.5 457.5 532.6 458.9 529.8 460.1C526.9 461.3 524.0 462.5 521.2 463.5C518.3 464.6 515.5 465.5 512.6 466.4C509.8 467.3 507.0 468.0 504.2 468.7C501.4 469.4 498.6 469.9 495.9 470.4C493.1 470.9 490.4 471.2 487.7 471.5C485.0 471.8 482.4 472.0 479.8 472.0C477.1 472.1 474.6 472.1 472.0 471.9C469.5 471.8 467.0 471.6 464.6 471.3C462.1 470.9 459.7 470.5 457.4 470.0C455.0 469.5 452.8 468.8 450.5 468.1C448.3 467.4 446.1 466.6 444.0 465.7C441.9 464.8 439.9 463.7 437.9 462.6C436.0 461.5 434.1 460.3 432.2 459.1C430.4 457.8 428.7 456.4 427.0 454.9C425.3 453.5 423.7 451.9 422.2 450.3C420.6 448.7 419.2 446.9 417.8 445.1C416.5 443.3 415.2 441.5 414.0 439.5C412.8 437.5 411.7 435.5 410.7 433.4C409.7 431.3 408.7 429.1 407.9 426.9C407.0 424.6 406.3 422.3 405.6 419.9C405.0 417.5 404.4 415.1 403.9 412.6C403.4 410.1 403.0 407.4 402.7 404.7C402.4 402.1 402.2 399.3 402.1 396.5C402.0 393.8 402.0 390.9 402.0 388.1C402.1 385.2 402.3 382.3 402.5 379.4C402.8 376.4 403.1 373.4 403.6 370.4C404.0 367.5 404.6 364.4 405.2 361.4C405.8 358.3 406.6 355.2 407.4 352.2C408.2 349.1 409.1 346.0 410.1 342.9C411.1 339.8 412.2 336.7 413.4 333.5C414.5 330.4 415.8 327.3 417.1 324.2C418.5 321.1 419.9 318.0 421.4 314.9C422.9 311.8 424.5 308.7 426.1 305.6C427.8 302.6 429.5 299.5 431.3 296.5C433.2 293.5 435.0 290.5 437.0 287.5C438.9 284.6 441.0 281.6 443.1 278.7C445.2 275.9 447.3 273.0 449.5 270.2C451.7 267.4 454.0 264.6 456.3 261.9C458.7 259.2 461.1 256.5 463.5 253.9C465.9 251.3 468.4 248.7 470.9 246.2C473.5 243.7 476.1 241.3 478.7 238.9C481.3 236.6 483.9 234.3 486.6 232.0C489.3 229.8 492.0 227.6 494.8 225.6C497.6 223.5 500.3 221.5 503.1 219.5C505.9 217.6 508.8 215.8 511.6 214.0C514.4 212.3 517.3 210.6 520.2 209.0C523.0 207.4 525.9 205.9 528.8 204.5C531.7 203.1 534.6 201.7 537.4 200.5C540.3 199.3 543.2 198.2 546.1 197.1C548.9 196.1 551.8 195.1 554.6 194.3C557.5 193.5 560.3 192.7 563.1 192.1C566.0 191.4 568.7 190.9 571.5 190.4C574.3 190.0 577.0 189.7 579.7 189.4C582.4 189.2 585.1 189.0 587.7 189.0C590.4 189.0 593.0 189.0 595.5 189.2C598.1 189.4 600.6 189.6 603.0 190.0C605.5 190.4 607.9 190.8 610.3 191.4C612.6 192.0 614.9 192.7 617.2 193.4C619.4 194.2 621.6 195.1 623.7 196.0C625.8 197.0 627.9 198.1 629.9 199.2C631.8 200.4 633.8 201.6 635.6 203.0C637.5 204.3 639.3 205.8 641.0 207.3C642.7 208.8 644.3 210.4 645.8 212.1C647.4 213.8 648.9 215.7 650.2 217.6C651.6 219.5 652.9 221.5 654.1 223.6C655.3 225.7 656.4 227.9 657.4 230.1C658.4 232.4 659.3 234.7 660.1 237.0C660.9 239.4 661.6 241.8 662.2 244.2C662.9 246.7 663.6 250.4 663.9 251.6 M663.9 251.6C664.1 253.0 664.7 257.0 665.0 259.8C665.2 262.5 665.4 265.3 665.4 268.1C665.5 270.9 665.4 273.8 665.2 276.6C665.1 279.5 664.8 282.4 664.4 285.3C664.1 288.2 663.6 291.1 663.1 294.1C662.6 297.0 662.0 300.0 661.3 303.1C660.6 306.1 659.8 309.1 658.9 312.2C658.0 315.3 657.0 318.3 655.9 321.4C654.8 324.5 653.7 327.6 652.4 330.7C651.2 333.7 649.8 336.8 648.4 339.9C647.0 343.0 645.5 346.1 643.9 349.1C642.3 352.2 640.6 355.2 638.8 358.2C637.1 361.3 635.3 364.3 633.3 367.3C631.4 370.2 629.5 373.2 627.4 376.1C625.3 379.0 623.2 381.9 621.0 384.8C618.8 387.6 616.6 390.5 614.3 393.2C611.9 396.0 609.6 398.7 607.1 401.4C604.7 404.1 602.2 406.7 599.6 409.3C597.1 411.9 594.5 414.4 591.9 416.8C589.2 419.3 586.5 421.7 583.8 424.0C581.1 426.3 578.3 428.6 575.5 430.8C572.7 433.0 569.9 435.1 567.0 437.1C564.2 439.2 561.3 441.1 558.4 443.0C555.5 444.9 552.6 446.7 549.6 448.4C546.7 450.2 543.7 451.8 540.7 453.4C537.8 454.9 534.8 456.4 531.8 457.8C528.8 459.1 525.9 460.4 522.9 461.6C519.9 462.8 516.9 463.9 514.0 464.9C511.0 465.9 508.0 466.8 505.1 467.6C502.2 468.4 499.3 469.1 496.4 469.8C493.5 470.4 490.6 470.9 487.7 471.3C484.9 471.7 482.1 472.0 479.3 472.2C476.5 472.5 473.8 472.6 471.1 472.6C468.4 472.6 465.7 472.5 463.1 472.3C460.5 472.1 457.9 471.8 455.4 471.4C452.9 471.1 450.4 470.6 448.0 470.0C445.6 469.4 443.2 468.7 440.9 467.9C438.7 467.1 436.4 466.2 434.3 465.3C432.1 464.3 430.0 463.2 428.0 462.0C426.0 460.9 424.0 459.6 422.2 458.2C420.3 456.9 418.5 455.4 416.8 453.9C415.1 452.4 413.4 450.8 411.9 449.1C410.3 447.4 408.9 445.6 407.5 443.7C406.1 441.8 404.8 439.9 403.6 437.9C402.4 435.8 401.3 433.7 400.2 431.6C399.2 429.4 398.3 427.1 397.4 424.8C396.6 422.5 395.8 420.2 395.2 417.7C394.5 415.3 394.0 412.8 393.5 410.2C393.0 407.6 392.6 404.8 392.4 402.0C392.1 399.3 391.9 396.4 391.8 393.5C391.7 390.7 391.7 387.7 391.8 384.8C391.9 381.8 392.1 378.8 392.4 375.8C392.7 372.8 393.1 369.7 393.6 366.6C394.1 363.5 394.7 360.4 395.4 357.3C396.1 354.2 396.9 351.0 397.7 347.8C398.6 344.7 399.6 341.5 400.7 338.3C401.7 335.1 402.9 332.0 404.1 328.8C405.4 325.6 406.7 322.4 408.1 319.2C409.5 316.1 411.0 312.9 412.6 309.7C414.2 306.6 415.9 303.4 417.6 300.3C419.4 297.2 421.2 294.1 423.1 291.1C425.0 288.0 427.0 285.0 429.1 282.0C431.1 279.0 433.3 276.0 435.5 273.1C437.7 270.1 439.9 267.2 442.2 264.4C444.6 261.6 447.0 258.8 449.4 256.0C451.8 253.3 454.3 250.6 456.9 248.0C459.4 245.4 462.0 242.8 464.7 240.3C467.3 237.8 470.0 235.4 472.8 233.0C475.5 230.6 478.3 228.3 481.1 226.1C483.9 223.9 486.7 221.8 489.6 219.7C492.5 217.6 495.4 215.6 498.3 213.7C501.2 211.8 504.2 210.0 507.1 208.3C510.1 206.5 513.1 204.9 516.1 203.3C519.1 201.8 522.1 200.3 525.0 199.0C528.0 197.6 531.1 196.3 534.0 195.1C537.0 194.0 540.0 192.9 543.0 191.9C546.0 190.9 549.0 190.0 551.9 189.2C554.9 188.5 557.8 187.8 560.8 187.2C563.7 186.6 566.6 186.1 569.5 185.8C572.3 185.4 575.2 185.1 578.0 185.0C580.8 184.8 583.5 184.7 586.3 184.8C589.0 184.8 591.7 185.0 594.3 185.2C597.0 185.5 599.6 185.8 602.1 186.3C604.7 186.7 607.2 187.3 609.6 188.0C612.0 188.6 614.4 189.4 616.7 190.3C619.0 191.1 621.3 192.1 623.5 193.2C625.6 194.2 627.8 195.4 629.8 196.7C631.9 197.9 633.8 199.3 635.7 200.7C637.6 202.2 639.5 203.7 641.2 205.3C643.0 206.9 644.7 208.7 646.2 210.5C647.8 212.3 649.3 214.2 650.8 216.2C652.2 218.3 653.5 220.4 654.7 222.6C655.9 224.7 657.1 227.0 658.1 229.4C659.1 231.7 660.0 234.1 660.9 236.6C661.7 239.0 662.4 241.6 663.1 244.1C663.7 246.7 664.4 250.7 664.7 252.0 M664.7 252.0C664.9 253.9 665.8 259.5 666.0 263.3C666.2 267.2 666.3 271.1 666.1 275.1C666.0 279.1 665.6 283.1 665.1 287.2C664.6 291.3 664.0 295.5 663.1 299.7C662.3 304.0 661.3 308.3 660.1 312.6C658.9 316.9 657.6 321.3 656.1 325.8C654.6 330.2 652.9 334.6 651.1 339.1C649.3 343.6 647.3 348.2 645.1 352.7C643.0 357.3 640.7 361.9 638.2 366.4C635.7 371.0 633.1 375.7 630.3 380.3C627.6 384.9 624.6 389.5 621.6 394.2C618.5 398.8 615.3 403.4 612.0 408.0C608.6 412.6 605.1 417.2 601.5 421.8C597.9 426.3 594.1 430.9 590.3 435.4C586.4 439.9 582.4 444.4 578.3 448.8C574.2 453.3 570.0 457.7 565.7 462.0C561.4 466.3 556.9 470.6 552.4 474.8C547.9 479.1 543.3 483.2 538.6 487.3C533.9 491.4 529.1 495.5 524.2 499.4C519.4 503.3 514.4 507.2 509.4 511.0C504.4 514.8 499.3 518.5 494.2 522.0C489.1 525.6 483.9 529.1 478.7 532.5C473.5 535.9 468.2 539.2 463.0 542.4C457.7 545.6 452.4 548.7 447.0 551.6C441.7 554.6 436.3 557.4 430.9 560.1C425.6 562.9 420.2 565.5 414.8 567.9C409.5 570.4 404.1 572.7 398.7 574.9C393.4 577.1 388.0 579.2 382.7 581.2C377.4 583.1 372.1 584.9 366.9 586.5C361.6 588.2 356.4 589.7 351.2 591.1C346.1 592.5 340.9 593.7 335.9 594.8C330.8 595.8 325.8 596.8 320.9 597.5C316.0 598.3 311.1 599.0 306.3 599.4C301.6 599.9 296.9 600.2 292.3 600.4C287.6 600.6 283.1 600.6 278.7 600.5C274.3 600.4 270.0 600.1 265.8 599.7C261.6 599.2 257.5 598.7 253.5 597.9C249.5 597.2 245.7 596.3 241.9 595.3C238.2 594.3 234.6 593.1 231.1 591.8C227.6 590.5 224.3 589.0 221.1 587.4C217.9 585.8 214.8 584.0 211.9 582.2C209.0 580.3 206.3 578.2 203.7 576.1C201.1 573.9 198.6 571.6 196.3 569.2C194.0 566.8 191.9 564.2 189.9 561.5C188.0 558.9 186.1 556.1 184.5 553.1C182.9 550.2 181.4 547.2 180.1 544.0C178.8 540.9 177.7 537.6 176.7 534.3C175.8 530.9 175.0 527.8 174.4 523.9C173.7 519.9 173.1 515.1 172.7 510.5C172.3 506.0 172.1 501.4 172.0 496.6C172.0 491.9 172.2 487.1 172.5 482.3C172.8 477.4 173.3 472.5 174.0 467.5C174.7 462.5 175.6 457.5 176.6 452.4C177.7 447.3 178.9 442.1 180.3 437.0C181.7 431.8 183.2 426.6 185.0 421.3C186.7 416.1 188.6 410.8 190.7 405.6C192.7 400.3 195.0 395.0 197.4 389.7C199.8 384.4 202.3 379.1 205.0 373.8C207.8 368.5 210.6 363.2 213.7 358.0C216.7 352.7 219.9 347.5 223.2 342.3C226.5 337.1 229.9 331.9 233.5 326.7C237.1 321.6 240.9 316.5 244.7 311.5C248.6 306.4 252.5 301.4 256.6 296.5C260.7 291.6 265.0 286.7 269.3 281.9C273.6 277.2 278.1 272.4 282.6 267.8C287.2 263.2 291.8 258.6 296.5 254.2C301.3 249.7 306.1 245.4 311.0 241.1C315.9 236.9 320.9 232.7 325.9 228.7C331.0 224.6 336.1 220.7 341.3 216.9C346.5 213.1 351.7 209.4 357.0 205.8C362.3 202.3 367.6 198.9 373.0 195.6C378.4 192.3 383.8 189.1 389.2 186.1C394.6 183.1 400.1 180.2 405.6 177.5C411.0 174.7 416.5 172.2 422.0 169.7C427.5 167.3 433.0 165.1 438.4 162.9C443.9 160.8 449.4 158.9 454.8 157.1C460.2 155.3 465.7 153.7 471.0 152.2C476.4 150.8 481.8 149.5 487.1 148.3C492.4 147.2 497.6 146.3 502.8 145.5C508.0 144.7 513.2 144.1 518.2 143.6C523.3 143.2 528.3 142.9 533.3 142.8C538.2 142.7 543.0 142.8 547.8 143.1C552.6 143.3 557.2 143.7 561.8 144.3C566.4 144.9 570.9 145.7 575.2 146.6C579.6 147.5 583.9 148.6 588.0 149.9C592.1 151.2 596.2 152.6 600.1 154.2C604.0 155.8 607.8 157.6 611.4 159.5C615.0 161.4 618.5 163.5 621.9 165.8C625.3 168.0 628.5 170.4 631.6 172.9C634.7 175.5 637.6 178.2 640.4 181.0C643.2 183.8 645.9 186.8 648.4 189.9C650.9 193.0 653.2 196.2 655.4 199.5C657.6 202.8 659.6 206.2 661.5 209.7C663.5 213.3 665.2 217.0 666.8 220.9C668.4 224.8 669.9 228.8 671.1 233.1C672.3 237.3 673.7 244.1 674.2 246.4 M674.2 246.4C674.5 248.6 675.6 255.2 676.1 259.7C676.6 264.3 677.0 269.0 677.1 273.8C677.3 278.7 677.4 283.6 677.2 288.7C677.0 293.8 676.6 299.0 676.1 304.2C675.5 309.4 674.7 314.8 673.8 320.1C672.8 325.4 671.6 330.8 670.3 336.2C669.0 341.5 667.4 346.9 665.7 352.3C664.0 357.7 662.1 363.2 660.0 368.7C658.0 374.1 655.7 379.6 653.2 385.0C650.8 390.5 648.2 395.9 645.4 401.3C642.6 406.7 639.7 412.1 636.6 417.4C633.6 422.7 630.3 428.0 626.9 433.2C623.6 438.5 620.0 443.7 616.4 448.8C612.7 453.9 608.9 459.0 605.0 463.9C601.1 468.9 597.0 473.8 592.8 478.7C588.6 483.5 584.3 488.2 579.9 492.9C575.5 497.5 571.0 502.1 566.4 506.5C561.8 511.0 557.0 515.4 552.2 519.6C547.4 523.8 542.5 528.0 537.5 532.0C532.6 536.0 527.5 539.9 522.4 543.6C517.3 547.4 512.0 551.0 506.8 554.5C501.5 558.0 496.2 561.3 490.9 564.5C485.5 567.7 480.1 570.8 474.7 573.7C469.2 576.7 463.7 579.4 458.2 582.0C452.7 584.6 447.2 587.1 441.7 589.4C436.2 591.7 430.6 593.8 425.1 595.8C419.5 597.8 414.0 599.6 408.5 601.2C402.9 602.8 397.4 604.3 391.9 605.6C386.4 606.9 381.0 608.0 375.5 608.9C370.1 609.9 364.7 610.6 359.4 611.2C354.0 611.8 348.7 612.2 343.5 612.5C338.3 612.7 333.1 612.8 328.0 612.7C322.9 612.5 317.8 612.3 312.9 611.8C307.9 611.3 303.0 610.7 298.2 609.9C293.5 609.0 288.8 608.0 284.2 606.9C279.6 605.7 275.1 604.4 270.7 602.8C266.4 601.3 262.1 599.6 257.9 597.8C253.8 596.0 249.8 593.9 245.9 591.8C242.0 589.6 238.2 587.2 234.6 584.8C231.0 582.3 227.5 579.6 224.1 576.8C220.8 574.0 217.6 571.0 214.5 567.9C211.5 564.8 208.6 561.6 205.8 558.2C203.1 554.8 200.5 551.3 198.1 547.7C195.7 544.0 193.4 540.2 191.3 536.3C189.3 532.4 187.3 528.4 185.6 524.3C183.8 520.1 182.3 515.9 180.9 511.5C179.5 507.2 178.2 502.7 177.2 498.1C176.2 493.6 175.3 489.2 174.6 484.2C173.9 479.2 173.2 473.5 172.8 468.0C172.4 462.6 172.2 457.0 172.2 451.4C172.2 445.8 172.3 440.2 172.6 434.5C173.0 428.7 173.5 423.0 174.2 417.2C174.9 411.4 175.8 405.5 176.9 399.7C177.9 393.8 179.2 387.9 180.6 382.0C182.1 376.1 183.7 370.2 185.5 364.2C187.2 358.3 189.2 352.4 191.3 346.5C193.5 340.6 195.8 334.7 198.2 328.8C200.7 323.0 203.3 317.1 206.1 311.3C208.9 305.5 211.9 299.7 215.0 294.0C218.1 288.3 221.4 282.6 224.8 277.0C228.2 271.4 231.8 265.9 235.5 260.4C239.2 255.0 243.0 249.6 247.0 244.3C250.9 239.0 255.0 233.7 259.3 228.6C263.5 223.5 267.8 218.5 272.3 213.5C276.8 208.6 281.3 203.8 286.0 199.1C290.7 194.4 295.5 189.9 300.3 185.4C305.2 181.0 310.2 176.7 315.2 172.5C320.3 168.3 325.4 164.3 330.6 160.4C335.8 156.5 341.1 152.7 346.4 149.1C351.8 145.5 357.2 142.1 362.6 138.8C368.1 135.5 373.6 132.4 379.1 129.5C384.6 126.5 390.2 123.8 395.8 121.2C401.4 118.6 407.0 116.1 412.6 113.9C418.3 111.7 423.9 109.6 429.6 107.7C435.2 105.8 440.9 104.1 446.5 102.6C452.1 101.1 457.8 99.8 463.4 98.7C469.0 97.6 474.6 96.6 480.1 95.9C485.6 95.1 491.1 94.6 496.6 94.3C502.1 93.9 507.5 93.8 512.8 93.8C518.2 93.8 523.5 94.1 528.7 94.5C533.9 95.0 539.1 95.6 544.2 96.4C549.2 97.2 554.2 98.3 559.1 99.5C564.0 100.7 568.8 102.1 573.5 103.7C578.2 105.3 582.8 107.1 587.3 109.1C591.8 111.1 596.2 113.3 600.4 115.6C604.6 118.0 608.8 120.5 612.8 123.2C616.7 126.0 620.6 128.9 624.3 131.9C628.0 135.0 631.6 138.3 635.0 141.7C638.4 145.1 641.6 148.7 644.6 152.4C647.7 156.1 650.6 160.0 653.3 164.1C656.0 168.1 658.6 172.4 661.0 176.7C663.4 181.1 665.5 185.7 667.5 190.4C669.5 195.0 671.3 199.8 672.9 204.6C674.5 209.5 675.9 214.4 677.1 219.4C678.3 224.3 679.3 229.3 680.1 234.3C681.0 239.3 681.9 246.9 682.2 249.4 M682.2 249.4C682.4 252.1 683.1 260.1 683.2 265.5C683.3 270.9 683.2 276.4 682.8 281.7C682.5 287.1 681.9 292.5 681.2 297.9C680.5 303.2 679.6 308.5 678.5 313.9C677.5 319.2 676.2 324.5 674.9 329.8C673.5 335.2 671.9 340.5 670.2 345.9C668.5 351.3 666.6 356.7 664.5 362.1C662.4 367.4 660.2 372.8 657.8 378.1C655.4 383.4 652.8 388.7 650.1 393.9C647.4 399.1 644.5 404.3 641.5 409.4C638.4 414.5 635.2 419.6 631.9 424.6C628.5 429.6 625.0 434.6 621.4 439.5C617.8 444.3 614.0 449.1 610.0 453.8C606.1 458.6 602.1 463.2 597.9 467.7C593.7 472.3 589.4 476.7 585.0 481.0C580.6 485.4 576.0 489.6 571.4 493.7C566.8 497.8 562.0 501.8 557.2 505.7C552.3 509.6 547.4 513.4 542.3 517.0C537.3 520.6 532.2 524.1 527.0 527.5C521.8 530.8 516.5 534.1 511.2 537.1C505.9 540.2 500.5 543.1 495.0 545.9C489.6 548.7 484.1 551.3 478.6 553.8C473.0 556.3 467.4 558.6 461.8 560.8C456.2 562.9 450.6 564.9 444.9 566.8C439.3 568.6 433.6 570.3 427.9 571.8C422.3 573.3 416.6 574.6 410.9 575.8C405.2 576.9 399.6 577.9 393.9 578.7C388.3 579.5 382.7 580.2 377.1 580.6C371.5 581.1 365.9 581.4 360.4 581.5C354.9 581.6 349.4 581.5 344.0 581.3C338.6 581.0 333.2 580.6 327.9 580.0C322.6 579.4 317.4 578.7 312.3 577.7C307.1 576.8 302.0 575.7 297.1 574.4C292.1 573.1 287.2 571.6 282.4 570.0C277.6 568.4 272.9 566.6 268.3 564.6C263.8 562.7 259.3 560.5 254.9 558.3C250.6 556.0 246.3 553.5 242.2 550.9C238.1 548.4 234.1 545.6 230.3 542.7C226.5 539.8 222.7 536.8 219.2 533.6C215.6 530.4 212.2 527.1 208.9 523.6C205.7 520.1 202.6 516.5 199.6 512.8C196.7 509.1 193.9 505.2 191.2 501.3C188.6 497.3 186.1 493.2 183.8 489.0C181.6 484.8 179.4 480.5 177.5 476.1C175.5 471.7 173.7 467.1 172.1 462.5C170.6 457.9 169.1 453.2 167.9 448.5C166.7 443.7 165.6 438.8 164.7 433.9C163.8 429.0 163.0 421.5 162.7 419.0" fill="none" stroke="#231f20" stroke-width="2.6" stroke-linejoin="round" stroke-linecap="round"/>
<path d="M649.4 234.3C649.7 234.4 650.8 234.7 651.4 235.1C652.1 235.4 652.7 235.7 653.4 236.1C654.1 236.5 654.7 237.0 655.4 237.5C656.0 238.0 656.7 238.6 657.3 239.2C657.9 239.9 658.6 240.6 659.2 241.3C659.9 242.1 660.5 242.9 661.1 243.8C661.8 244.7 662.4 245.6 663.0 246.7C663.7 247.7 664.3 248.8 664.9 250.0C665.5 251.3 666.2 252.6 666.8 254.0C667.4 255.4 668.0 256.9 668.6 258.6C669.2 260.2 669.7 261.9 670.3 263.9C670.8 265.8 671.4 267.8 671.9 270.0C672.4 272.2 672.9 274.5 673.3 277.1C673.7 279.6 674.1 282.4 674.4 285.3C674.7 288.2 675.0 291.3 675.2 294.7C675.3 298.0 675.4 301.6 675.4 305.4C675.3 309.1 675.2 313.2 674.8 317.3C674.5 321.5 674.0 326.0 673.3 330.5C672.6 335.0 671.7 339.7 670.5 344.3C669.3 348.9 667.9 353.7 666.1 358.1C664.4 362.6 662.4 367.0 660.1 370.8C657.8 374.5 655.2 378.1 652.5 380.7C649.7 383.2 646.7 385.3 643.7 386.2C640.7 387.1 637.5 387.2 634.5 386.3C631.6 385.3 628.6 383.3 626.0 380.6C623.3 377.8 620.8 374.0 618.8 369.9C616.7 365.8 614.9 360.9 613.5 356.0C612.0 351.0 611.0 345.6 610.2 340.4C609.4 335.2 609.0 329.8 608.7 324.7C608.5 319.6 608.5 314.6 608.7 309.9C608.9 305.3 609.3 300.8 609.7 296.7C610.2 292.5 610.8 288.7 611.5 285.1C612.2 281.5 613.0 278.2 613.7 275.2C614.5 272.1 615.4 269.4 616.2 266.8C617.1 264.2 618.0 261.9 618.9 259.8C619.7 257.7 620.6 255.8 621.5 254.0C622.4 252.2 623.3 250.7 624.2 249.2C625.1 247.8 625.9 246.5 626.8 245.3C627.7 244.1 628.5 243.1 629.4 242.1C630.2 241.1 631.0 240.3 631.8 239.5C632.7 238.8 633.5 238.1 634.2 237.5C635.0 236.9 635.8 236.4 636.6 236.0C637.4 235.5 638.1 235.2 638.9 234.8C639.6 234.5 640.3 234.3 641.1 234.1C641.8 233.9 642.5 233.8 643.2 233.7C643.9 233.6 644.6 233.6 645.3 233.6C646.0 233.6 646.7 233.7 647.4 233.8C648.1 233.9 649.1 234.2 649.4 234.3 M648.7 236.3C649.0 236.4 649.9 236.7 650.6 236.9C651.2 237.2 651.8 237.5 652.4 237.8C653.0 238.2 653.6 238.5 654.2 239.0C654.8 239.4 655.4 239.9 656.0 240.4C656.7 241.0 657.3 241.6 657.9 242.2C658.5 242.9 659.1 243.6 659.7 244.4C660.3 245.2 660.9 246.0 661.5 246.9C662.1 247.8 662.7 248.8 663.3 249.9C663.9 251.0 664.5 252.2 665.1 253.4C665.7 254.7 666.3 256.1 666.9 257.5C667.5 259.0 668.0 260.6 668.6 262.3C669.1 264.1 669.7 265.9 670.2 268.0C670.7 270.0 671.3 272.1 671.7 274.5C672.2 276.9 672.6 279.4 673.0 282.1C673.4 284.8 673.7 287.8 674.0 290.9C674.2 294.1 674.4 297.5 674.5 301.1C674.5 304.7 674.5 308.5 674.3 312.6C674.1 316.6 673.8 320.9 673.2 325.4C672.6 329.8 671.9 334.5 670.9 339.1C669.9 343.7 668.7 348.5 667.1 353.0C665.6 357.5 663.7 362.1 661.6 366.1C659.5 370.0 657.1 373.8 654.5 376.6C651.9 379.4 649.0 381.7 646.1 382.9C643.2 384.0 640.1 384.3 637.2 383.6C634.3 382.9 631.4 381.0 628.8 378.5C626.2 375.9 623.7 372.2 621.7 368.3C619.6 364.3 617.8 359.4 616.4 354.6C615.0 349.8 613.9 344.5 613.1 339.4C612.3 334.3 611.9 329.0 611.6 324.1C611.4 319.1 611.4 314.3 611.5 309.7C611.7 305.2 612.0 300.9 612.4 296.9C612.9 292.9 613.4 289.2 614.0 285.8C614.6 282.3 615.4 279.2 616.1 276.3C616.8 273.4 617.6 270.7 618.3 268.3C619.1 265.8 619.9 263.6 620.7 261.6C621.5 259.6 622.4 257.7 623.2 256.0C624.0 254.4 624.8 252.9 625.6 251.5C626.4 250.1 627.2 248.8 628.0 247.7C628.8 246.6 629.6 245.5 630.3 244.6C631.1 243.7 631.8 242.9 632.6 242.1C633.3 241.4 634.1 240.7 634.8 240.1C635.5 239.6 636.2 239.1 636.9 238.6C637.6 238.2 638.3 237.8 639.0 237.4C639.7 237.1 640.3 236.9 641.0 236.6C641.7 236.4 642.3 236.3 643.0 236.1C643.6 236.0 644.3 236.0 644.9 235.9C645.6 235.9 646.2 235.9 646.8 236.0C647.5 236.1 648.4 236.3 648.7 236.3" fill="none" stroke="#231f20" stroke-width="2.6" stroke-linejoin="round"/>
<ellipse cx="644.8" cy="263.2" rx="11.6" ry="21" fill="none" stroke="#231f20" stroke-width="3.2"/>
</svg>
</body></html>
